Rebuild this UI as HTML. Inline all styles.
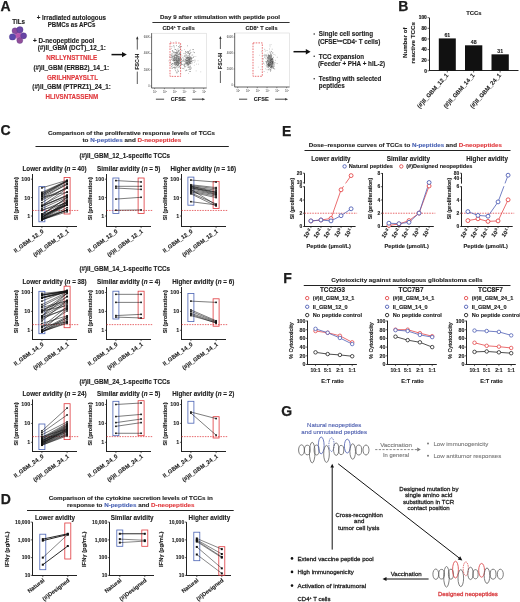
<!DOCTYPE html>
<html><head><meta charset="utf-8"><title>Figure</title>
<style>
html,body{margin:0;padding:0;background:#fff;}
body{width:520px;height:602px;overflow:hidden;}
svg{display:block;font-family:"Liberation Sans", Arial, sans-serif;font-weight:bold;}
</style></head><body>
<svg width="520" height="602" viewBox="0 0 520 602" fill="#1c1c1c">
<rect width="520" height="602" fill="#fff"/>
<text x="0.50" y="10.70" font-size="14" stroke="#1c1c1c" stroke-width="0.25" >A</text>
<text x="12.20" y="24.20" font-size="6.4" textLength="12.9" lengthAdjust="spacingAndGlyphs" stroke="#1c1c1c" stroke-width="0.12" >TILs</text>
<defs>
<filter id="bl" x="-10%" y="-10%" width="120%" height="120%"><feGaussianBlur stdDeviation="0.3"/></filter>
<filter id="bl2" x="-20%" y="-20%" width="140%" height="140%"><feGaussianBlur stdDeviation="0.45"/></filter>
<radialGradient id="cp" cx="50%" cy="45%" r="55%"><stop offset="0" stop-color="#9676cc"/><stop offset="0.6" stop-color="#7656b6"/><stop offset="1" stop-color="#573a96"/></radialGradient>
<radialGradient id="cm" cx="50%" cy="50%" r="55%"><stop offset="0" stop-color="#b0409a"/><stop offset="1" stop-color="#c070c8"/></radialGradient>
</defs>
<g filter="url(#bl2)">
<circle cx="18.4" cy="35.4" r="5.2" fill="#e0a8e0" opacity="0.6"/>
<circle cx="18.2" cy="35.4" r="3.3" fill="#b866b8"/>
<circle cx="15" cy="30.8" r="3.0" fill="#8a4c9e" stroke="#4a2e80" stroke-width="0.5" stroke-opacity="0.6"/>
<circle cx="19.9" cy="29.8" r="3.2" fill="#6a46a6" stroke="#4a2e80" stroke-width="0.5" stroke-opacity="0.6"/>
<circle cx="12.5" cy="36.9" r="3.2" fill="#5c48ae" stroke="#4a2e80" stroke-width="0.5" stroke-opacity="0.6"/>
<circle cx="23.6" cy="35.8" r="3.1" fill="#6844a4" stroke="#4a2e80" stroke-width="0.5" stroke-opacity="0.6"/>
<circle cx="19.8" cy="40.6" r="3.0" fill="#92509a" stroke="#4a2e80" stroke-width="0.5" stroke-opacity="0.6"/>
<circle cx="18.2" cy="35.4" r="2.0" fill="#b650a8" opacity="0.7"/>
</g>
<text x="36.70" y="19.60" font-size="6.3" textLength="69.3" lengthAdjust="spacingAndGlyphs" stroke="#1c1c1c" stroke-width="0.12" >+ Irradiated autologous</text>
<text x="47.70" y="27.00" font-size="6.3" textLength="47.7" lengthAdjust="spacingAndGlyphs" stroke="#1c1c1c" stroke-width="0.12" >PBMCs as APCs</text>
<text x="33.00" y="42.70" font-size="6.3" textLength="61.4" lengthAdjust="spacingAndGlyphs" stroke="#1c1c1c" stroke-width="0.12" >+ D-neopeptide pool</text>
<text x="37.70" y="50.40" font-size="6.3" textLength="68.3" lengthAdjust="spacingAndGlyphs" stroke="#1c1c1c" stroke-width="0.12" >(#)II_GBM (DCT)_12_1:</text>
<text x="46.30" y="59.60" font-size="6.3" fill="#e0383c" textLength="51" lengthAdjust="spacingAndGlyphs" stroke="#e0383c" stroke-width="0.12" >NRLLYNSTTNILE</text>
<text x="33.50" y="70.40" font-size="6.3" textLength="75.5" lengthAdjust="spacingAndGlyphs" stroke="#1c1c1c" stroke-width="0.12" >(#)II_GBM (ERBB2)_14_1:</text>
<text x="47.00" y="79.60" font-size="6.3" fill="#e0383c" textLength="51" lengthAdjust="spacingAndGlyphs" stroke="#e0383c" stroke-width="0.12" >GRILHNPAYSLTL</text>
<text x="32.30" y="89.20" font-size="6.3" textLength="78.5" lengthAdjust="spacingAndGlyphs" stroke="#1c1c1c" stroke-width="0.12" >(#)II_GBM (PTPRZ1)_24_1:</text>
<text x="45.40" y="98.80" font-size="6.3" fill="#e0383c" textLength="52.9" lengthAdjust="spacingAndGlyphs" stroke="#e0383c" stroke-width="0.12" >HLIVSNTASSENM</text>
<line x1="111.50" y1="54.60" x2="122.50" y2="54.60" stroke="#111" stroke-width="1.5" />
<path d="M126.80,54.60 L122.00,57.30 L122.00,51.90 Z" fill="#111"/>
<text x="160.00" y="19.10" font-size="6.25" textLength="120" lengthAdjust="spacingAndGlyphs" stroke="#1c1c1c" stroke-width="0.12" >Day 9 after stimulation with peptide pool</text>
<line x1="152.40" y1="22.50" x2="289.60" y2="22.50" stroke="#333" stroke-width="1.0" />
<text x="162.40" y="30.20" font-size="5.4" textLength="32.4" lengthAdjust="spacingAndGlyphs" stroke="#1c1c1c" stroke-width="0.12" >CD4<tspan font-size="3.4" dy="-1.8">+</tspan><tspan dy="1.8"> T cells</tspan></text>
<rect x="151.60" y="33.20" width="55.10" height="54.80" fill="none" stroke="#cfcfcf" stroke-width="0.5" />
<line x1="151.60" y1="33.20" x2="151.60" y2="88.00" stroke="#333" stroke-width="0.7" />
<line x1="151.60" y1="88.00" x2="206.70" y2="88.00" stroke="#333" stroke-width="0.7" />
<line x1="150.40" y1="86.00" x2="151.60" y2="86.00" stroke="#333" stroke-width="0.5" />
<text x="149.80" y="87.00" font-size="2.6" text-anchor="end" font-weight="normal" fill="#333" >0</text>
<line x1="150.40" y1="69.73" x2="151.60" y2="69.73" stroke="#333" stroke-width="0.5" />
<text x="149.80" y="70.73" font-size="2.6" text-anchor="end" font-weight="normal" fill="#333" >200K</text>
<line x1="150.40" y1="53.47" x2="151.60" y2="53.47" stroke="#333" stroke-width="0.5" />
<text x="149.80" y="54.47" font-size="2.6" text-anchor="end" font-weight="normal" fill="#333" >400K</text>
<line x1="150.40" y1="37.20" x2="151.60" y2="37.20" stroke="#333" stroke-width="0.5" />
<text x="149.80" y="38.20" font-size="2.6" text-anchor="end" font-weight="normal" fill="#333" >600K</text>
<line x1="154.60" y1="88.00" x2="154.60" y2="89.20" stroke="#333" stroke-width="0.5" />
<text x="153.10" y="92.60" font-size="2.6" font-weight="normal" fill="#333" >10<tspan font-size="1.8" dy="-1">1</tspan></text>
<line x1="164.42" y1="88.00" x2="164.42" y2="89.20" stroke="#333" stroke-width="0.5" />
<text x="162.92" y="92.60" font-size="2.6" font-weight="normal" fill="#333" >10<tspan font-size="1.8" dy="-1">2</tspan></text>
<line x1="174.24" y1="88.00" x2="174.24" y2="89.20" stroke="#333" stroke-width="0.5" />
<text x="172.74" y="92.60" font-size="2.6" font-weight="normal" fill="#333" >10<tspan font-size="1.8" dy="-1">3</tspan></text>
<line x1="184.06" y1="88.00" x2="184.06" y2="89.20" stroke="#333" stroke-width="0.5" />
<text x="182.56" y="92.60" font-size="2.6" font-weight="normal" fill="#333" >10<tspan font-size="1.8" dy="-1">4</tspan></text>
<line x1="193.88" y1="88.00" x2="193.88" y2="89.20" stroke="#333" stroke-width="0.5" />
<text x="192.38" y="92.60" font-size="2.6" font-weight="normal" fill="#333" >10<tspan font-size="1.8" dy="-1">5</tspan></text>
<line x1="203.70" y1="88.00" x2="203.70" y2="89.20" stroke="#333" stroke-width="0.5" />
<text x="202.20" y="92.60" font-size="2.6" font-weight="normal" fill="#333" >10<tspan font-size="1.8" dy="-1">6</tspan></text>
<text x="139.10" y="61.60" font-size="5.2" text-anchor="middle" transform="rotate(-90 139.10 61.60)" stroke="#1c1c1c" stroke-width="0.12" >FSC-H</text>
<line x1="137.30" y1="37.20" x2="137.30" y2="49.60" stroke="#333" stroke-width="0.8" />
<line x1="137.30" y1="71.60" x2="137.30" y2="84.00" stroke="#333" stroke-width="0.8" />
<path d="M136.10,39.20 L137.30,36.20 L138.50,39.20 Z" fill="#333"/>
<text x="178.20" y="101.00" font-size="5.4" text-anchor="middle" textLength="14.9" lengthAdjust="spacingAndGlyphs" stroke="#1c1c1c" stroke-width="0.12" >CFSE</text>
<line x1="155.90" y1="99.20" x2="164.10" y2="99.20" stroke="#333" stroke-width="0.9" />
<line x1="192.20" y1="99.20" x2="202.70" y2="99.20" stroke="#333" stroke-width="0.9" />
<path d="M202.20,97.90 L205.20,99.2 L202.20,100.50 Z" fill="#333"/>
<g filter="url(#bl)">
<rect x="175.83" y="61.56" width="0.7" height="0.7" fill="#666666"/>
<rect x="175.91" y="57.42" width="0.7" height="0.7" fill="#666666"/>
<rect x="174.08" y="57.93" width="0.7" height="0.7" fill="#666666"/>
<rect x="179.39" y="61.12" width="0.7" height="0.7" fill="#666666"/>
<rect x="179.20" y="60.24" width="0.7" height="0.7" fill="#666666"/>
<rect x="177.53" y="59.93" width="0.7" height="0.7" fill="#666666"/>
<rect x="172.17" y="63.28" width="0.7" height="0.7" fill="#666666"/>
<rect x="177.82" y="61.49" width="0.7" height="0.7" fill="#666666"/>
<rect x="172.10" y="50.28" width="0.7" height="0.7" fill="#666666"/>
<rect x="174.19" y="56.66" width="0.7" height="0.7" fill="#666666"/>
<rect x="177.29" y="58.77" width="0.7" height="0.7" fill="#666666"/>
<rect x="177.85" y="55.79" width="0.7" height="0.7" fill="#666666"/>
<rect x="177.30" y="60.97" width="0.7" height="0.7" fill="#666666"/>
<rect x="174.78" y="67.59" width="0.7" height="0.7" fill="#666666"/>
<rect x="177.95" y="64.99" width="0.7" height="0.7" fill="#666666"/>
<rect x="174.89" y="55.30" width="0.7" height="0.7" fill="#666666"/>
<rect x="175.61" y="58.47" width="0.7" height="0.7" fill="#666666"/>
<rect x="178.14" y="60.24" width="0.7" height="0.7" fill="#666666"/>
<rect x="175.34" y="54.22" width="0.7" height="0.7" fill="#666666"/>
<rect x="175.15" y="65.10" width="0.7" height="0.7" fill="#666666"/>
<rect x="174.40" y="60.22" width="0.7" height="0.7" fill="#666666"/>
<rect x="177.61" y="51.55" width="0.7" height="0.7" fill="#666666"/>
<rect x="176.63" y="65.53" width="0.7" height="0.7" fill="#666666"/>
<rect x="171.26" y="57.39" width="0.7" height="0.7" fill="#666666"/>
<rect x="176.22" y="54.91" width="0.7" height="0.7" fill="#666666"/>
<rect x="177.79" y="58.69" width="0.7" height="0.7" fill="#666666"/>
<rect x="172.69" y="63.14" width="0.7" height="0.7" fill="#666666"/>
<rect x="178.24" y="63.73" width="0.7" height="0.7" fill="#666666"/>
<rect x="180.25" y="60.81" width="0.7" height="0.7" fill="#666666"/>
<rect x="176.81" y="52.50" width="0.7" height="0.7" fill="#666666"/>
<rect x="178.10" y="55.94" width="0.7" height="0.7" fill="#666666"/>
<rect x="175.32" y="52.68" width="0.7" height="0.7" fill="#666666"/>
<rect x="173.98" y="56.34" width="0.7" height="0.7" fill="#666666"/>
<rect x="179.85" y="48.84" width="0.7" height="0.7" fill="#666666"/>
<rect x="172.71" y="60.20" width="0.7" height="0.7" fill="#666666"/>
<rect x="180.25" y="61.89" width="0.7" height="0.7" fill="#666666"/>
<rect x="171.56" y="46.41" width="0.7" height="0.7" fill="#666666"/>
<rect x="177.43" y="55.32" width="0.7" height="0.7" fill="#666666"/>
<rect x="173.59" y="63.89" width="0.7" height="0.7" fill="#666666"/>
<rect x="179.36" y="59.79" width="0.7" height="0.7" fill="#666666"/>
<rect x="177.14" y="61.17" width="0.7" height="0.7" fill="#666666"/>
<rect x="180.64" y="62.10" width="0.7" height="0.7" fill="#666666"/>
<rect x="177.85" y="61.74" width="0.7" height="0.7" fill="#666666"/>
<rect x="172.42" y="65.41" width="0.7" height="0.7" fill="#666666"/>
<rect x="178.98" y="61.65" width="0.7" height="0.7" fill="#666666"/>
<rect x="171.37" y="55.83" width="0.7" height="0.7" fill="#666666"/>
<rect x="178.69" y="49.94" width="0.7" height="0.7" fill="#666666"/>
<rect x="176.02" y="64.10" width="0.7" height="0.7" fill="#666666"/>
<rect x="173.09" y="67.05" width="0.7" height="0.7" fill="#666666"/>
<rect x="177.94" y="58.25" width="0.7" height="0.7" fill="#666666"/>
<rect x="177.34" y="62.25" width="0.7" height="0.7" fill="#666666"/>
<rect x="176.81" y="64.73" width="0.7" height="0.7" fill="#666666"/>
<rect x="174.78" y="56.93" width="0.7" height="0.7" fill="#666666"/>
<rect x="179.21" y="59.13" width="0.7" height="0.7" fill="#666666"/>
<rect x="174.21" y="63.73" width="0.7" height="0.7" fill="#666666"/>
<rect x="180.31" y="56.78" width="0.7" height="0.7" fill="#666666"/>
<rect x="172.91" y="58.33" width="0.7" height="0.7" fill="#666666"/>
<rect x="176.11" y="57.51" width="0.7" height="0.7" fill="#666666"/>
<rect x="180.15" y="53.87" width="0.7" height="0.7" fill="#666666"/>
<rect x="179.78" y="52.66" width="0.7" height="0.7" fill="#666666"/>
<rect x="174.45" y="62.16" width="0.7" height="0.7" fill="#666666"/>
<rect x="179.43" y="63.30" width="0.7" height="0.7" fill="#666666"/>
<rect x="177.40" y="59.71" width="0.7" height="0.7" fill="#666666"/>
<rect x="176.90" y="61.88" width="0.7" height="0.7" fill="#666666"/>
<rect x="176.04" y="60.39" width="0.7" height="0.7" fill="#666666"/>
<rect x="177.99" y="59.00" width="0.7" height="0.7" fill="#666666"/>
<rect x="178.49" y="61.83" width="0.7" height="0.7" fill="#666666"/>
<rect x="181.73" y="60.62" width="0.7" height="0.7" fill="#666666"/>
<rect x="175.39" y="57.14" width="0.7" height="0.7" fill="#666666"/>
<rect x="176.47" y="63.62" width="0.7" height="0.7" fill="#666666"/>
<rect x="175.62" y="60.93" width="0.7" height="0.7" fill="#666666"/>
<rect x="181.28" y="46.18" width="0.7" height="0.7" fill="#666666"/>
<rect x="173.58" y="60.22" width="0.7" height="0.7" fill="#666666"/>
<rect x="177.54" y="60.19" width="0.7" height="0.7" fill="#666666"/>
<rect x="175.38" y="62.28" width="0.7" height="0.7" fill="#666666"/>
<rect x="177.23" y="56.39" width="0.7" height="0.7" fill="#666666"/>
<rect x="182.82" y="60.78" width="0.7" height="0.7" fill="#666666"/>
<rect x="175.06" y="58.50" width="0.7" height="0.7" fill="#666666"/>
<rect x="175.91" y="58.69" width="0.7" height="0.7" fill="#666666"/>
<rect x="169.41" y="56.57" width="0.7" height="0.7" fill="#666666"/>
<rect x="179.12" y="53.16" width="0.7" height="0.7" fill="#666666"/>
<rect x="176.33" y="63.77" width="0.7" height="0.7" fill="#666666"/>
<rect x="178.73" y="66.46" width="0.7" height="0.7" fill="#666666"/>
<rect x="172.08" y="57.23" width="0.7" height="0.7" fill="#666666"/>
<rect x="175.61" y="62.12" width="0.7" height="0.7" fill="#666666"/>
<rect x="179.34" y="45.59" width="0.7" height="0.7" fill="#666666"/>
<rect x="179.33" y="51.76" width="0.7" height="0.7" fill="#666666"/>
<rect x="178.28" y="51.54" width="0.7" height="0.7" fill="#666666"/>
<rect x="176.96" y="64.97" width="0.7" height="0.7" fill="#666666"/>
<rect x="176.11" y="59.96" width="0.7" height="0.7" fill="#666666"/>
<rect x="178.57" y="59.71" width="0.7" height="0.7" fill="#666666"/>
<rect x="176.27" y="66.67" width="0.7" height="0.7" fill="#666666"/>
<rect x="179.23" y="57.53" width="0.7" height="0.7" fill="#666666"/>
<rect x="183.64" y="53.27" width="0.7" height="0.7" fill="#666666"/>
<rect x="178.88" y="57.67" width="0.7" height="0.7" fill="#666666"/>
<rect x="176.84" y="62.53" width="0.7" height="0.7" fill="#666666"/>
<rect x="177.08" y="62.19" width="0.7" height="0.7" fill="#666666"/>
<rect x="172.53" y="51.45" width="0.7" height="0.7" fill="#666666"/>
<rect x="178.10" y="54.18" width="0.7" height="0.7" fill="#666666"/>
<rect x="173.83" y="51.65" width="0.7" height="0.7" fill="#666666"/>
<rect x="179.79" y="62.73" width="0.7" height="0.7" fill="#666666"/>
<rect x="180.33" y="54.31" width="0.7" height="0.7" fill="#666666"/>
<rect x="176.50" y="53.30" width="0.7" height="0.7" fill="#666666"/>
<rect x="178.49" y="66.95" width="0.7" height="0.7" fill="#666666"/>
<rect x="174.19" y="66.80" width="0.7" height="0.7" fill="#666666"/>
<rect x="179.07" y="58.11" width="0.7" height="0.7" fill="#666666"/>
<rect x="171.37" y="66.03" width="0.7" height="0.7" fill="#666666"/>
<rect x="176.25" y="55.99" width="0.7" height="0.7" fill="#666666"/>
<rect x="177.54" y="61.05" width="0.7" height="0.7" fill="#666666"/>
<rect x="180.40" y="53.90" width="0.7" height="0.7" fill="#666666"/>
<rect x="179.45" y="66.44" width="0.7" height="0.7" fill="#666666"/>
<rect x="180.28" y="58.10" width="0.7" height="0.7" fill="#666666"/>
<rect x="174.57" y="64.09" width="0.7" height="0.7" fill="#666666"/>
<rect x="176.80" y="59.62" width="0.7" height="0.7" fill="#666666"/>
<rect x="180.20" y="57.68" width="0.7" height="0.7" fill="#666666"/>
<rect x="170.53" y="57.06" width="0.7" height="0.7" fill="#666666"/>
<rect x="171.68" y="63.09" width="0.7" height="0.7" fill="#666666"/>
<rect x="177.32" y="55.94" width="0.7" height="0.7" fill="#666666"/>
<rect x="176.48" y="63.16" width="0.7" height="0.7" fill="#666666"/>
<rect x="176.71" y="65.63" width="0.7" height="0.7" fill="#666666"/>
<rect x="176.34" y="64.20" width="0.7" height="0.7" fill="#666666"/>
<rect x="180.38" y="67.05" width="0.7" height="0.7" fill="#666666"/>
<rect x="174.75" y="63.40" width="0.7" height="0.7" fill="#666666"/>
<rect x="171.62" y="53.58" width="0.7" height="0.7" fill="#666666"/>
<rect x="171.40" y="64.34" width="0.7" height="0.7" fill="#666666"/>
<rect x="173.30" y="58.94" width="0.7" height="0.7" fill="#666666"/>
<rect x="176.00" y="58.86" width="0.7" height="0.7" fill="#666666"/>
<rect x="174.96" y="60.17" width="0.7" height="0.7" fill="#666666"/>
<rect x="181.16" y="59.22" width="0.7" height="0.7" fill="#666666"/>
<rect x="177.88" y="64.00" width="0.7" height="0.7" fill="#666666"/>
<rect x="175.99" y="52.70" width="0.7" height="0.7" fill="#666666"/>
<rect x="175.06" y="64.37" width="0.7" height="0.7" fill="#666666"/>
<rect x="172.22" y="56.01" width="0.7" height="0.7" fill="#666666"/>
<rect x="179.12" y="62.96" width="0.7" height="0.7" fill="#666666"/>
<rect x="176.52" y="63.03" width="0.7" height="0.7" fill="#666666"/>
<rect x="176.93" y="53.11" width="0.7" height="0.7" fill="#666666"/>
<rect x="172.43" y="55.81" width="0.7" height="0.7" fill="#666666"/>
<rect x="178.90" y="56.17" width="0.7" height="0.7" fill="#666666"/>
<rect x="174.15" y="55.15" width="0.7" height="0.7" fill="#666666"/>
<rect x="172.52" y="58.41" width="0.7" height="0.7" fill="#666666"/>
<rect x="173.43" y="60.82" width="0.7" height="0.7" fill="#666666"/>
<rect x="170.36" y="60.64" width="0.7" height="0.7" fill="#666666"/>
<rect x="174.83" y="49.29" width="0.7" height="0.7" fill="#666666"/>
<rect x="178.38" y="57.62" width="0.7" height="0.7" fill="#666666"/>
<rect x="170.70" y="54.62" width="0.7" height="0.7" fill="#666666"/>
<rect x="177.26" y="56.71" width="0.7" height="0.7" fill="#666666"/>
<rect x="178.53" y="62.74" width="0.7" height="0.7" fill="#666666"/>
<rect x="178.23" y="60.63" width="0.7" height="0.7" fill="#666666"/>
<rect x="179.97" y="62.30" width="0.7" height="0.7" fill="#666666"/>
<rect x="177.67" y="48.58" width="0.7" height="0.7" fill="#666666"/>
<rect x="178.83" y="65.55" width="0.7" height="0.7" fill="#666666"/>
<rect x="175.73" y="56.65" width="0.7" height="0.7" fill="#666666"/>
<rect x="181.54" y="50.21" width="0.7" height="0.7" fill="#666666"/>
<rect x="177.72" y="71.12" width="0.7" height="0.7" fill="#666666"/>
<rect x="174.09" y="62.45" width="0.7" height="0.7" fill="#666666"/>
<rect x="181.40" y="58.40" width="0.7" height="0.7" fill="#666666"/>
<rect x="177.96" y="63.51" width="0.7" height="0.7" fill="#666666"/>
<rect x="174.15" y="58.55" width="0.7" height="0.7" fill="#666666"/>
<rect x="177.26" y="63.13" width="0.7" height="0.7" fill="#666666"/>
<rect x="176.41" y="58.02" width="0.7" height="0.7" fill="#666666"/>
<rect x="173.86" y="57.21" width="0.7" height="0.7" fill="#666666"/>
<rect x="178.82" y="59.51" width="0.7" height="0.7" fill="#666666"/>
<rect x="174.28" y="54.79" width="0.7" height="0.7" fill="#666666"/>
<rect x="183.43" y="64.70" width="0.7" height="0.7" fill="#666666"/>
<rect x="178.16" y="46.04" width="0.7" height="0.7" fill="#666666"/>
<rect x="178.12" y="61.40" width="0.7" height="0.7" fill="#666666"/>
<rect x="180.88" y="61.14" width="0.7" height="0.7" fill="#666666"/>
<rect x="176.32" y="61.61" width="0.7" height="0.7" fill="#666666"/>
<rect x="171.45" y="64.17" width="0.7" height="0.7" fill="#666666"/>
<rect x="177.34" y="55.49" width="0.7" height="0.7" fill="#666666"/>
<rect x="179.95" y="68.05" width="0.7" height="0.7" fill="#666666"/>
<rect x="172.85" y="55.67" width="0.7" height="0.7" fill="#666666"/>
<rect x="177.26" y="59.92" width="0.7" height="0.7" fill="#666666"/>
<rect x="175.46" y="54.13" width="0.7" height="0.7" fill="#666666"/>
<rect x="182.01" y="64.19" width="0.7" height="0.7" fill="#666666"/>
<rect x="173.40" y="52.27" width="0.7" height="0.7" fill="#666666"/>
<rect x="180.93" y="63.95" width="0.7" height="0.7" fill="#666666"/>
<rect x="181.23" y="63.05" width="0.7" height="0.7" fill="#666666"/>
<rect x="174.23" y="60.30" width="0.7" height="0.7" fill="#666666"/>
<rect x="170.88" y="55.26" width="0.7" height="0.7" fill="#666666"/>
<rect x="176.35" y="61.61" width="0.7" height="0.7" fill="#666666"/>
<rect x="174.61" y="58.38" width="0.7" height="0.7" fill="#666666"/>
<rect x="177.69" y="60.88" width="0.7" height="0.7" fill="#666666"/>
<rect x="178.16" y="60.04" width="0.7" height="0.7" fill="#666666"/>
<rect x="175.66" y="62.95" width="0.7" height="0.7" fill="#666666"/>
<rect x="176.63" y="54.87" width="0.7" height="0.7" fill="#666666"/>
<rect x="174.87" y="59.00" width="0.7" height="0.7" fill="#666666"/>
<rect x="176.22" y="59.78" width="0.7" height="0.7" fill="#666666"/>
<rect x="176.50" y="59.88" width="0.7" height="0.7" fill="#666666"/>
<rect x="176.15" y="52.71" width="0.7" height="0.7" fill="#666666"/>
<rect x="177.60" y="64.27" width="0.7" height="0.7" fill="#666666"/>
<rect x="177.63" y="58.05" width="0.7" height="0.7" fill="#666666"/>
<rect x="177.66" y="54.17" width="0.7" height="0.7" fill="#666666"/>
<rect x="171.57" y="59.30" width="0.7" height="0.7" fill="#666666"/>
<rect x="174.08" y="62.70" width="0.7" height="0.7" fill="#666666"/>
<rect x="173.68" y="45.86" width="0.7" height="0.7" fill="#666666"/>
<rect x="173.80" y="66.89" width="0.7" height="0.7" fill="#666666"/>
<rect x="175.51" y="52.15" width="0.7" height="0.7" fill="#666666"/>
<rect x="174.52" y="61.60" width="0.7" height="0.7" fill="#666666"/>
<rect x="177.79" y="59.88" width="0.7" height="0.7" fill="#666666"/>
<rect x="180.36" y="62.53" width="0.7" height="0.7" fill="#666666"/>
<rect x="176.45" y="61.98" width="0.7" height="0.7" fill="#666666"/>
<rect x="180.80" y="63.86" width="0.7" height="0.7" fill="#666666"/>
<rect x="179.16" y="53.59" width="0.7" height="0.7" fill="#666666"/>
<rect x="176.11" y="62.65" width="0.7" height="0.7" fill="#666666"/>
<rect x="175.73" y="64.34" width="0.7" height="0.7" fill="#666666"/>
<rect x="178.05" y="63.54" width="0.7" height="0.7" fill="#666666"/>
<rect x="175.95" y="71.73" width="0.7" height="0.7" fill="#666666"/>
<rect x="179.72" y="57.92" width="0.7" height="0.7" fill="#666666"/>
<rect x="176.74" y="71.98" width="0.7" height="0.7" fill="#666666"/>
<rect x="175.61" y="63.37" width="0.7" height="0.7" fill="#666666"/>
<rect x="179.05" y="59.03" width="0.7" height="0.7" fill="#666666"/>
<rect x="173.47" y="59.94" width="0.7" height="0.7" fill="#666666"/>
<rect x="177.43" y="64.65" width="0.7" height="0.7" fill="#666666"/>
<rect x="178.54" y="59.12" width="0.7" height="0.7" fill="#666666"/>
<rect x="178.72" y="61.70" width="0.7" height="0.7" fill="#666666"/>
<rect x="177.04" y="59.28" width="0.7" height="0.7" fill="#666666"/>
<rect x="175.87" y="62.43" width="0.7" height="0.7" fill="#666666"/>
<rect x="173.76" y="55.86" width="0.7" height="0.7" fill="#666666"/>
<rect x="176.51" y="51.68" width="0.7" height="0.7" fill="#666666"/>
<rect x="175.37" y="48.96" width="0.7" height="0.7" fill="#666666"/>
<rect x="174.72" y="61.84" width="0.7" height="0.7" fill="#666666"/>
<rect x="177.97" y="58.73" width="0.7" height="0.7" fill="#666666"/>
<rect x="175.90" y="51.92" width="0.7" height="0.7" fill="#666666"/>
<rect x="181.25" y="61.58" width="0.7" height="0.7" fill="#666666"/>
<rect x="179.34" y="54.59" width="0.7" height="0.7" fill="#666666"/>
<rect x="176.02" y="49.90" width="0.7" height="0.7" fill="#666666"/>
<rect x="178.53" y="63.68" width="0.7" height="0.7" fill="#666666"/>
<rect x="171.57" y="58.74" width="0.7" height="0.7" fill="#666666"/>
<rect x="178.14" y="50.19" width="0.7" height="0.7" fill="#666666"/>
<rect x="171.75" y="53.67" width="0.7" height="0.7" fill="#666666"/>
<rect x="174.86" y="51.99" width="0.7" height="0.7" fill="#666666"/>
<rect x="176.58" y="60.25" width="0.7" height="0.7" fill="#666666"/>
<rect x="178.15" y="62.51" width="0.7" height="0.7" fill="#666666"/>
<rect x="180.41" y="64.82" width="0.7" height="0.7" fill="#666666"/>
<rect x="173.09" y="56.47" width="0.7" height="0.7" fill="#666666"/>
<rect x="173.74" y="53.62" width="0.7" height="0.7" fill="#666666"/>
<rect x="176.29" y="59.03" width="0.7" height="0.7" fill="#666666"/>
<rect x="177.77" y="51.07" width="0.7" height="0.7" fill="#666666"/>
<rect x="173.28" y="58.88" width="0.7" height="0.7" fill="#666666"/>
<rect x="175.98" y="57.44" width="0.7" height="0.7" fill="#666666"/>
<rect x="176.34" y="55.20" width="0.7" height="0.7" fill="#666666"/>
<rect x="178.32" y="60.77" width="0.7" height="0.7" fill="#666666"/>
<rect x="176.27" y="55.64" width="0.7" height="0.7" fill="#666666"/>
<rect x="176.05" y="45.39" width="0.7" height="0.7" fill="#666666"/>
<rect x="173.95" y="59.19" width="0.7" height="0.7" fill="#666666"/>
<rect x="172.59" y="60.00" width="0.7" height="0.7" fill="#666666"/>
<rect x="176.88" y="52.11" width="0.7" height="0.7" fill="#666666"/>
<rect x="175.85" y="57.43" width="0.7" height="0.7" fill="#666666"/>
<rect x="177.70" y="62.06" width="0.7" height="0.7" fill="#666666"/>
<rect x="176.41" y="54.74" width="0.7" height="0.7" fill="#666666"/>
<rect x="176.12" y="58.67" width="0.7" height="0.7" fill="#666666"/>
<rect x="178.41" y="60.47" width="0.7" height="0.7" fill="#666666"/>
<rect x="174.62" y="52.23" width="0.7" height="0.7" fill="#666666"/>
<rect x="175.53" y="55.30" width="0.7" height="0.7" fill="#666666"/>
<rect x="173.61" y="58.42" width="0.7" height="0.7" fill="#666666"/>
<rect x="175.22" y="59.53" width="0.7" height="0.7" fill="#666666"/>
<rect x="177.86" y="56.93" width="0.7" height="0.7" fill="#666666"/>
<rect x="182.54" y="57.39" width="0.7" height="0.7" fill="#666666"/>
<rect x="179.36" y="59.61" width="0.7" height="0.7" fill="#666666"/>
<rect x="179.40" y="47.12" width="0.7" height="0.7" fill="#666666"/>
<rect x="174.55" y="60.24" width="0.7" height="0.7" fill="#666666"/>
<rect x="178.07" y="70.68" width="0.7" height="0.7" fill="#666666"/>
<rect x="177.34" y="65.40" width="0.7" height="0.7" fill="#666666"/>
<rect x="178.49" y="63.74" width="0.7" height="0.7" fill="#666666"/>
<rect x="177.83" y="58.22" width="0.7" height="0.7" fill="#666666"/>
<rect x="177.82" y="53.61" width="0.7" height="0.7" fill="#666666"/>
<rect x="179.57" y="53.91" width="0.7" height="0.7" fill="#666666"/>
<rect x="177.15" y="69.60" width="0.7" height="0.7" fill="#666666"/>
<rect x="175.92" y="59.10" width="0.7" height="0.7" fill="#666666"/>
<rect x="179.52" y="59.13" width="0.7" height="0.7" fill="#666666"/>
<rect x="174.40" y="60.29" width="0.7" height="0.7" fill="#666666"/>
<rect x="178.01" y="62.55" width="0.7" height="0.7" fill="#666666"/>
<rect x="174.49" y="67.76" width="0.7" height="0.7" fill="#666666"/>
<rect x="180.83" y="59.09" width="0.7" height="0.7" fill="#666666"/>
<rect x="177.20" y="56.86" width="0.7" height="0.7" fill="#666666"/>
<rect x="180.18" y="55.48" width="0.7" height="0.7" fill="#666666"/>
<rect x="178.25" y="56.60" width="0.7" height="0.7" fill="#666666"/>
<rect x="174.70" y="62.59" width="0.7" height="0.7" fill="#666666"/>
<rect x="179.97" y="58.95" width="0.7" height="0.7" fill="#666666"/>
<rect x="174.74" y="63.06" width="0.7" height="0.7" fill="#666666"/>
<rect x="176.37" y="60.55" width="0.7" height="0.7" fill="#666666"/>
<rect x="180.46" y="64.66" width="0.7" height="0.7" fill="#666666"/>
<rect x="175.15" y="70.42" width="0.7" height="0.7" fill="#666666"/>
<rect x="176.51" y="62.93" width="0.7" height="0.7" fill="#666666"/>
<rect x="174.82" y="58.78" width="0.7" height="0.7" fill="#666666"/>
<rect x="171.95" y="67.93" width="0.7" height="0.7" fill="#666666"/>
<rect x="180.05" y="52.92" width="0.7" height="0.7" fill="#666666"/>
<rect x="172.59" y="50.89" width="0.7" height="0.7" fill="#666666"/>
<rect x="179.56" y="56.70" width="0.7" height="0.7" fill="#666666"/>
<rect x="176.34" y="57.44" width="0.7" height="0.7" fill="#666666"/>
<rect x="176.18" y="53.56" width="0.7" height="0.7" fill="#666666"/>
<rect x="176.56" y="51.81" width="0.7" height="0.7" fill="#666666"/>
<rect x="176.31" y="60.54" width="0.7" height="0.7" fill="#666666"/>
<rect x="177.72" y="57.84" width="0.7" height="0.7" fill="#666666"/>
<rect x="174.15" y="59.80" width="0.7" height="0.7" fill="#666666"/>
<rect x="175.24" y="66.83" width="0.7" height="0.7" fill="#666666"/>
<rect x="178.50" y="58.42" width="0.7" height="0.7" fill="#666666"/>
<rect x="175.28" y="55.49" width="0.7" height="0.7" fill="#666666"/>
<rect x="174.06" y="57.24" width="0.7" height="0.7" fill="#666666"/>
<rect x="188.65" y="62.17" width="0.7" height="0.7" fill="#6a6a6a"/>
<rect x="189.25" y="68.81" width="0.7" height="0.7" fill="#6a6a6a"/>
<rect x="186.45" y="60.05" width="0.7" height="0.7" fill="#6a6a6a"/>
<rect x="194.15" y="52.16" width="0.7" height="0.7" fill="#6a6a6a"/>
<rect x="186.85" y="60.71" width="0.7" height="0.7" fill="#6a6a6a"/>
<rect x="188.34" y="61.71" width="0.7" height="0.7" fill="#6a6a6a"/>
<rect x="187.47" y="61.54" width="0.7" height="0.7" fill="#6a6a6a"/>
<rect x="188.12" y="63.24" width="0.7" height="0.7" fill="#6a6a6a"/>
<rect x="183.84" y="56.28" width="0.7" height="0.7" fill="#6a6a6a"/>
<rect x="188.00" y="55.67" width="0.7" height="0.7" fill="#6a6a6a"/>
<rect x="185.70" y="62.64" width="0.7" height="0.7" fill="#6a6a6a"/>
<rect x="186.57" y="62.67" width="0.7" height="0.7" fill="#6a6a6a"/>
<rect x="189.64" y="61.29" width="0.7" height="0.7" fill="#6a6a6a"/>
<rect x="189.12" y="59.56" width="0.7" height="0.7" fill="#6a6a6a"/>
<rect x="184.90" y="59.87" width="0.7" height="0.7" fill="#6a6a6a"/>
<rect x="189.00" y="57.78" width="0.7" height="0.7" fill="#6a6a6a"/>
<rect x="187.78" y="63.15" width="0.7" height="0.7" fill="#6a6a6a"/>
<rect x="186.07" y="62.69" width="0.7" height="0.7" fill="#6a6a6a"/>
<rect x="192.10" y="57.67" width="0.7" height="0.7" fill="#6a6a6a"/>
<rect x="188.32" y="59.37" width="0.7" height="0.7" fill="#6a6a6a"/>
<rect x="191.39" y="61.33" width="0.7" height="0.7" fill="#6a6a6a"/>
<rect x="189.98" y="57.10" width="0.7" height="0.7" fill="#6a6a6a"/>
<rect x="187.96" y="59.96" width="0.7" height="0.7" fill="#6a6a6a"/>
<rect x="184.09" y="66.05" width="0.7" height="0.7" fill="#6a6a6a"/>
<rect x="189.98" y="52.65" width="0.7" height="0.7" fill="#6a6a6a"/>
<rect x="189.64" y="59.45" width="0.7" height="0.7" fill="#6a6a6a"/>
<rect x="188.99" y="61.54" width="0.7" height="0.7" fill="#6a6a6a"/>
<rect x="184.70" y="59.11" width="0.7" height="0.7" fill="#6a6a6a"/>
<rect x="191.28" y="57.59" width="0.7" height="0.7" fill="#6a6a6a"/>
<rect x="185.75" y="54.29" width="0.7" height="0.7" fill="#6a6a6a"/>
<rect x="185.31" y="61.41" width="0.7" height="0.7" fill="#6a6a6a"/>
<rect x="191.72" y="61.80" width="0.7" height="0.7" fill="#6a6a6a"/>
<rect x="188.54" y="69.38" width="0.7" height="0.7" fill="#6a6a6a"/>
<rect x="186.86" y="57.17" width="0.7" height="0.7" fill="#6a6a6a"/>
<rect x="189.16" y="62.30" width="0.7" height="0.7" fill="#6a6a6a"/>
<rect x="185.77" y="55.09" width="0.7" height="0.7" fill="#6a6a6a"/>
<rect x="188.64" y="61.04" width="0.7" height="0.7" fill="#6a6a6a"/>
<rect x="185.12" y="59.15" width="0.7" height="0.7" fill="#6a6a6a"/>
<rect x="186.81" y="61.93" width="0.7" height="0.7" fill="#6a6a6a"/>
<rect x="187.74" y="59.64" width="0.7" height="0.7" fill="#6a6a6a"/>
<rect x="187.22" y="64.42" width="0.7" height="0.7" fill="#6a6a6a"/>
<rect x="191.06" y="58.46" width="0.7" height="0.7" fill="#6a6a6a"/>
<rect x="189.86" y="56.82" width="0.7" height="0.7" fill="#6a6a6a"/>
<rect x="188.16" y="63.15" width="0.7" height="0.7" fill="#6a6a6a"/>
<rect x="191.33" y="58.39" width="0.7" height="0.7" fill="#6a6a6a"/>
<rect x="187.84" y="60.82" width="0.7" height="0.7" fill="#6a6a6a"/>
<rect x="184.70" y="60.07" width="0.7" height="0.7" fill="#6a6a6a"/>
<rect x="186.51" y="61.56" width="0.7" height="0.7" fill="#6a6a6a"/>
<rect x="185.51" y="51.70" width="0.7" height="0.7" fill="#6a6a6a"/>
<rect x="188.08" y="61.09" width="0.7" height="0.7" fill="#6a6a6a"/>
<rect x="186.79" y="63.73" width="0.7" height="0.7" fill="#6a6a6a"/>
<rect x="187.40" y="57.46" width="0.7" height="0.7" fill="#6a6a6a"/>
<rect x="189.05" y="53.41" width="0.7" height="0.7" fill="#6a6a6a"/>
<rect x="186.51" y="59.91" width="0.7" height="0.7" fill="#6a6a6a"/>
<rect x="189.87" y="59.32" width="0.7" height="0.7" fill="#6a6a6a"/>
<rect x="188.68" y="57.25" width="0.7" height="0.7" fill="#6a6a6a"/>
<rect x="188.66" y="66.99" width="0.7" height="0.7" fill="#6a6a6a"/>
<rect x="186.49" y="69.94" width="0.7" height="0.7" fill="#6a6a6a"/>
<rect x="186.58" y="60.07" width="0.7" height="0.7" fill="#6a6a6a"/>
<rect x="188.38" y="64.30" width="0.7" height="0.7" fill="#6a6a6a"/>
<rect x="185.28" y="51.18" width="0.7" height="0.7" fill="#6a6a6a"/>
<rect x="189.33" y="63.34" width="0.7" height="0.7" fill="#6a6a6a"/>
<rect x="189.37" y="71.05" width="0.7" height="0.7" fill="#6a6a6a"/>
<rect x="188.45" y="61.07" width="0.7" height="0.7" fill="#6a6a6a"/>
<rect x="190.04" y="61.55" width="0.7" height="0.7" fill="#6a6a6a"/>
<rect x="191.66" y="54.80" width="0.7" height="0.7" fill="#6a6a6a"/>
<rect x="187.17" y="45.53" width="0.7" height="0.7" fill="#6a6a6a"/>
<rect x="189.79" y="58.44" width="0.7" height="0.7" fill="#6a6a6a"/>
<rect x="190.03" y="69.05" width="0.7" height="0.7" fill="#6a6a6a"/>
<rect x="187.99" y="58.93" width="0.7" height="0.7" fill="#6a6a6a"/>
<rect x="186.90" y="56.48" width="0.7" height="0.7" fill="#6a6a6a"/>
<rect x="186.61" y="62.68" width="0.7" height="0.7" fill="#6a6a6a"/>
<rect x="188.08" y="60.28" width="0.7" height="0.7" fill="#6a6a6a"/>
<rect x="187.62" y="63.84" width="0.7" height="0.7" fill="#6a6a6a"/>
<rect x="189.09" y="59.40" width="0.7" height="0.7" fill="#6a6a6a"/>
<rect x="189.46" y="59.36" width="0.7" height="0.7" fill="#6a6a6a"/>
<rect x="185.46" y="66.11" width="0.7" height="0.7" fill="#6a6a6a"/>
<rect x="189.02" y="55.98" width="0.7" height="0.7" fill="#6a6a6a"/>
<rect x="190.37" y="61.45" width="0.7" height="0.7" fill="#6a6a6a"/>
<rect x="184.56" y="66.76" width="0.7" height="0.7" fill="#6a6a6a"/>
<rect x="188.73" y="63.74" width="0.7" height="0.7" fill="#6a6a6a"/>
<rect x="188.44" y="59.37" width="0.7" height="0.7" fill="#6a6a6a"/>
<rect x="184.59" y="64.08" width="0.7" height="0.7" fill="#6a6a6a"/>
<rect x="188.07" y="58.80" width="0.7" height="0.7" fill="#6a6a6a"/>
<rect x="188.77" y="60.33" width="0.7" height="0.7" fill="#6a6a6a"/>
<rect x="189.49" y="58.44" width="0.7" height="0.7" fill="#6a6a6a"/>
<rect x="187.92" y="51.02" width="0.7" height="0.7" fill="#6a6a6a"/>
<rect x="187.07" y="62.84" width="0.7" height="0.7" fill="#6a6a6a"/>
<rect x="190.94" y="58.47" width="0.7" height="0.7" fill="#6a6a6a"/>
<rect x="187.73" y="66.65" width="0.7" height="0.7" fill="#6a6a6a"/>
<rect x="187.28" y="63.08" width="0.7" height="0.7" fill="#6a6a6a"/>
<rect x="191.69" y="60.17" width="0.7" height="0.7" fill="#6a6a6a"/>
<rect x="190.70" y="57.02" width="0.7" height="0.7" fill="#6a6a6a"/>
<rect x="188.46" y="59.68" width="0.7" height="0.7" fill="#6a6a6a"/>
<rect x="188.25" y="64.74" width="0.7" height="0.7" fill="#6a6a6a"/>
<rect x="193.26" y="57.21" width="0.7" height="0.7" fill="#6a6a6a"/>
<rect x="186.73" y="62.09" width="0.7" height="0.7" fill="#6a6a6a"/>
<rect x="185.68" y="62.09" width="0.7" height="0.7" fill="#6a6a6a"/>
<rect x="189.26" y="58.83" width="0.7" height="0.7" fill="#6a6a6a"/>
<rect x="189.17" y="53.49" width="0.7" height="0.7" fill="#6a6a6a"/>
<rect x="189.67" y="53.51" width="0.7" height="0.7" fill="#6a6a6a"/>
<rect x="186.47" y="57.66" width="0.7" height="0.7" fill="#6a6a6a"/>
<rect x="187.12" y="63.61" width="0.7" height="0.7" fill="#6a6a6a"/>
<rect x="188.18" y="58.33" width="0.7" height="0.7" fill="#6a6a6a"/>
<rect x="189.20" y="66.64" width="0.7" height="0.7" fill="#6a6a6a"/>
<rect x="188.01" y="61.54" width="0.7" height="0.7" fill="#6a6a6a"/>
<rect x="190.73" y="61.12" width="0.7" height="0.7" fill="#6a6a6a"/>
<rect x="185.18" y="70.46" width="0.7" height="0.7" fill="#6a6a6a"/>
<rect x="192.86" y="51.66" width="0.7" height="0.7" fill="#6a6a6a"/>
<rect x="187.91" y="61.75" width="0.7" height="0.7" fill="#6a6a6a"/>
<rect x="190.12" y="62.81" width="0.7" height="0.7" fill="#6a6a6a"/>
<rect x="187.40" y="55.57" width="0.7" height="0.7" fill="#6a6a6a"/>
<rect x="188.23" y="64.34" width="0.7" height="0.7" fill="#6a6a6a"/>
<rect x="185.60" y="55.69" width="0.7" height="0.7" fill="#6a6a6a"/>
<rect x="187.95" y="51.86" width="0.7" height="0.7" fill="#6a6a6a"/>
<rect x="187.43" y="58.17" width="0.7" height="0.7" fill="#6a6a6a"/>
<rect x="188.99" y="57.05" width="0.7" height="0.7" fill="#6a6a6a"/>
<rect x="186.06" y="58.34" width="0.7" height="0.7" fill="#6a6a6a"/>
<rect x="187.89" y="57.21" width="0.7" height="0.7" fill="#6a6a6a"/>
<rect x="188.03" y="63.15" width="0.7" height="0.7" fill="#6a6a6a"/>
<rect x="190.61" y="67.16" width="0.7" height="0.7" fill="#6a6a6a"/>
<rect x="186.28" y="58.24" width="0.7" height="0.7" fill="#6a6a6a"/>
<rect x="182.54" y="67.98" width="0.7" height="0.7" fill="#6a6a6a"/>
<rect x="186.41" y="59.86" width="0.7" height="0.7" fill="#6a6a6a"/>
<rect x="189.15" y="54.29" width="0.7" height="0.7" fill="#6a6a6a"/>
<rect x="189.02" y="59.89" width="0.7" height="0.7" fill="#6a6a6a"/>
<rect x="183.98" y="61.23" width="0.7" height="0.7" fill="#6a6a6a"/>
<rect x="190.63" y="52.16" width="0.7" height="0.7" fill="#6a6a6a"/>
<rect x="189.78" y="60.88" width="0.7" height="0.7" fill="#6a6a6a"/>
<rect x="189.04" y="61.85" width="0.7" height="0.7" fill="#6a6a6a"/>
<rect x="190.87" y="59.06" width="0.7" height="0.7" fill="#6a6a6a"/>
<rect x="189.92" y="58.28" width="0.7" height="0.7" fill="#6a6a6a"/>
<rect x="189.60" y="56.58" width="0.7" height="0.7" fill="#6a6a6a"/>
<rect x="187.76" y="67.27" width="0.7" height="0.7" fill="#6a6a6a"/>
<rect x="188.98" y="59.34" width="0.7" height="0.7" fill="#6a6a6a"/>
<rect x="185.48" y="56.68" width="0.7" height="0.7" fill="#6a6a6a"/>
<rect x="188.43" y="63.95" width="0.7" height="0.7" fill="#6a6a6a"/>
<rect x="188.94" y="62.20" width="0.7" height="0.7" fill="#6a6a6a"/>
<rect x="187.91" y="65.68" width="0.7" height="0.7" fill="#6a6a6a"/>
<rect x="187.14" y="57.69" width="0.7" height="0.7" fill="#6a6a6a"/>
<rect x="189.95" y="60.27" width="0.7" height="0.7" fill="#6a6a6a"/>
<rect x="187.39" y="57.58" width="0.7" height="0.7" fill="#6a6a6a"/>
<rect x="187.43" y="62.62" width="0.7" height="0.7" fill="#6a6a6a"/>
<rect x="188.78" y="54.92" width="0.7" height="0.7" fill="#6a6a6a"/>
<rect x="188.94" y="60.75" width="0.7" height="0.7" fill="#6a6a6a"/>
<rect x="185.80" y="63.25" width="0.7" height="0.7" fill="#6a6a6a"/>
<rect x="187.38" y="58.59" width="0.7" height="0.7" fill="#6a6a6a"/>
<rect x="189.75" y="65.55" width="0.7" height="0.7" fill="#6a6a6a"/>
<rect x="186.49" y="61.84" width="0.7" height="0.7" fill="#6a6a6a"/>
<rect x="186.07" y="69.72" width="0.7" height="0.7" fill="#6a6a6a"/>
<rect x="186.91" y="65.02" width="0.7" height="0.7" fill="#6a6a6a"/>
<rect x="186.58" y="63.41" width="0.7" height="0.7" fill="#6a6a6a"/>
<rect x="192.88" y="49.33" width="0.7" height="0.7" fill="#6a6a6a"/>
<rect x="187.04" y="62.10" width="0.7" height="0.7" fill="#6a6a6a"/>
<rect x="187.80" y="57.19" width="0.7" height="0.7" fill="#6a6a6a"/>
<rect x="192.73" y="60.33" width="0.7" height="0.7" fill="#6a6a6a"/>
<rect x="184.38" y="63.59" width="0.7" height="0.7" fill="#6a6a6a"/>
<rect x="184.21" y="64.83" width="0.7" height="0.7" fill="#6a6a6a"/>
<rect x="186.73" y="60.61" width="0.7" height="0.7" fill="#6a6a6a"/>
<rect x="190.77" y="60.50" width="0.7" height="0.7" fill="#6a6a6a"/>
<rect x="184.94" y="52.88" width="0.7" height="0.7" fill="#6a6a6a"/>
<rect x="190.60" y="63.11" width="0.7" height="0.7" fill="#6a6a6a"/>
<rect x="186.21" y="63.61" width="0.7" height="0.7" fill="#6a6a6a"/>
<rect x="189.09" y="62.72" width="0.7" height="0.7" fill="#6a6a6a"/>
<rect x="183.03" y="58.73" width="0.7" height="0.7" fill="#6a6a6a"/>
<rect x="189.98" y="63.08" width="0.7" height="0.7" fill="#6a6a6a"/>
<rect x="189.94" y="49.68" width="0.7" height="0.7" fill="#6a6a6a"/>
<rect x="188.37" y="62.07" width="0.7" height="0.7" fill="#6a6a6a"/>
<rect x="193.61" y="55.99" width="0.7" height="0.7" fill="#6a6a6a"/>
<rect x="187.28" y="60.15" width="0.7" height="0.7" fill="#6a6a6a"/>
<rect x="189.95" y="58.14" width="0.7" height="0.7" fill="#6a6a6a"/>
<rect x="190.52" y="56.69" width="0.7" height="0.7" fill="#6a6a6a"/>
<rect x="188.59" y="57.78" width="0.7" height="0.7" fill="#6a6a6a"/>
<rect x="188.35" y="57.10" width="0.7" height="0.7" fill="#6a6a6a"/>
<rect x="184.49" y="64.59" width="0.7" height="0.7" fill="#6a6a6a"/>
<rect x="188.67" y="57.65" width="0.7" height="0.7" fill="#6a6a6a"/>
<rect x="188.44" y="64.16" width="0.7" height="0.7" fill="#6a6a6a"/>
<rect x="185.85" y="59.54" width="0.7" height="0.7" fill="#6a6a6a"/>
<rect x="189.19" y="62.21" width="0.7" height="0.7" fill="#6a6a6a"/>
<rect x="187.26" y="51.15" width="0.7" height="0.7" fill="#6a6a6a"/>
<rect x="190.73" y="61.38" width="0.7" height="0.7" fill="#6a6a6a"/>
<rect x="188.03" y="58.83" width="0.7" height="0.7" fill="#6a6a6a"/>
<rect x="188.58" y="58.21" width="0.7" height="0.7" fill="#6a6a6a"/>
<rect x="185.75" y="56.89" width="0.7" height="0.7" fill="#6a6a6a"/>
<rect x="186.69" y="57.43" width="0.7" height="0.7" fill="#6a6a6a"/>
<rect x="185.45" y="62.67" width="0.7" height="0.7" fill="#6a6a6a"/>
<rect x="185.12" y="62.77" width="0.7" height="0.7" fill="#6a6a6a"/>
<rect x="185.77" y="61.48" width="0.7" height="0.7" fill="#6a6a6a"/>
<rect x="191.02" y="60.85" width="0.7" height="0.7" fill="#6a6a6a"/>
<rect x="186.39" y="60.20" width="0.7" height="0.7" fill="#6a6a6a"/>
<rect x="188.33" y="52.72" width="0.7" height="0.7" fill="#6a6a6a"/>
<rect x="186.66" y="60.68" width="0.7" height="0.7" fill="#6a6a6a"/>
<rect x="186.97" y="60.33" width="0.7" height="0.7" fill="#6a6a6a"/>
<rect x="189.61" y="63.22" width="0.7" height="0.7" fill="#6a6a6a"/>
<rect x="189.99" y="62.47" width="0.7" height="0.7" fill="#6a6a6a"/>
<rect x="187.37" y="59.92" width="0.7" height="0.7" fill="#6a6a6a"/>
<rect x="187.40" y="58.68" width="0.7" height="0.7" fill="#6a6a6a"/>
<rect x="187.60" y="52.76" width="0.7" height="0.7" fill="#6a6a6a"/>
<rect x="187.27" y="59.90" width="0.7" height="0.7" fill="#6a6a6a"/>
<rect x="185.86" y="59.90" width="0.7" height="0.7" fill="#6a6a6a"/>
<rect x="189.13" y="59.31" width="0.7" height="0.7" fill="#6a6a6a"/>
<rect x="192.57" y="49.05" width="0.7" height="0.7" fill="#6a6a6a"/>
<rect x="187.55" y="52.33" width="0.7" height="0.7" fill="#6a6a6a"/>
<rect x="190.16" y="71.15" width="0.7" height="0.7" fill="#6a6a6a"/>
<rect x="182.50" y="60.54" width="0.7" height="0.7" fill="#6a6a6a"/>
<rect x="189.14" y="58.73" width="0.7" height="0.7" fill="#6a6a6a"/>
<rect x="189.21" y="50.58" width="0.7" height="0.7" fill="#6a6a6a"/>
<rect x="189.87" y="61.56" width="0.7" height="0.7" fill="#6a6a6a"/>
<rect x="188.05" y="57.53" width="0.7" height="0.7" fill="#6a6a6a"/>
<rect x="189.40" y="57.96" width="0.7" height="0.7" fill="#6a6a6a"/>
<rect x="188.49" y="57.86" width="0.7" height="0.7" fill="#6a6a6a"/>
<rect x="183.06" y="59.87" width="0.7" height="0.7" fill="#6a6a6a"/>
<rect x="188.44" y="63.17" width="0.7" height="0.7" fill="#6a6a6a"/>
<rect x="186.07" y="59.86" width="0.7" height="0.7" fill="#6a6a6a"/>
<rect x="189.36" y="60.61" width="0.7" height="0.7" fill="#6a6a6a"/>
<rect x="190.73" y="68.36" width="0.7" height="0.7" fill="#6a6a6a"/>
<rect x="186.00" y="51.93" width="0.7" height="0.7" fill="#6a6a6a"/>
<rect x="189.88" y="66.42" width="0.7" height="0.7" fill="#6a6a6a"/>
<rect x="190.03" y="63.42" width="0.7" height="0.7" fill="#6a6a6a"/>
<rect x="186.64" y="57.00" width="0.7" height="0.7" fill="#6a6a6a"/>
<rect x="192.44" y="54.53" width="0.7" height="0.7" fill="#aaaaaa"/>
<rect x="178.93" y="54.01" width="0.7" height="0.7" fill="#aaaaaa"/>
<rect x="200.46" y="71.54" width="0.7" height="0.7" fill="#aaaaaa"/>
<rect x="184.57" y="55.63" width="0.7" height="0.7" fill="#aaaaaa"/>
<rect x="189.16" y="55.50" width="0.7" height="0.7" fill="#aaaaaa"/>
<rect x="194.55" y="59.53" width="0.7" height="0.7" fill="#aaaaaa"/>
<rect x="182.57" y="67.85" width="0.7" height="0.7" fill="#aaaaaa"/>
<rect x="185.08" y="61.33" width="0.7" height="0.7" fill="#aaaaaa"/>
<rect x="187.94" y="58.11" width="0.7" height="0.7" fill="#aaaaaa"/>
<rect x="189.62" y="55.85" width="0.7" height="0.7" fill="#aaaaaa"/>
<rect x="178.78" y="46.75" width="0.7" height="0.7" fill="#aaaaaa"/>
<rect x="181.67" y="55.45" width="0.7" height="0.7" fill="#aaaaaa"/>
<rect x="187.89" y="60.33" width="0.7" height="0.7" fill="#aaaaaa"/>
<rect x="190.78" y="60.72" width="0.7" height="0.7" fill="#aaaaaa"/>
<rect x="184.03" y="55.75" width="0.7" height="0.7" fill="#aaaaaa"/>
<rect x="177.41" y="58.99" width="0.7" height="0.7" fill="#aaaaaa"/>
<rect x="190.42" y="63.18" width="0.7" height="0.7" fill="#aaaaaa"/>
<rect x="187.39" y="58.95" width="0.7" height="0.7" fill="#aaaaaa"/>
<rect x="192.68" y="60.09" width="0.7" height="0.7" fill="#aaaaaa"/>
<rect x="191.69" y="63.50" width="0.7" height="0.7" fill="#aaaaaa"/>
<rect x="189.07" y="67.84" width="0.7" height="0.7" fill="#aaaaaa"/>
<rect x="185.14" y="57.85" width="0.7" height="0.7" fill="#aaaaaa"/>
<rect x="183.96" y="55.22" width="0.7" height="0.7" fill="#aaaaaa"/>
<rect x="195.78" y="70.56" width="0.7" height="0.7" fill="#aaaaaa"/>
<rect x="188.11" y="63.41" width="0.7" height="0.7" fill="#aaaaaa"/>
<rect x="193.88" y="64.84" width="0.7" height="0.7" fill="#aaaaaa"/>
<rect x="194.03" y="52.42" width="0.7" height="0.7" fill="#aaaaaa"/>
<rect x="184.80" y="62.72" width="0.7" height="0.7" fill="#aaaaaa"/>
<rect x="195.18" y="60.62" width="0.7" height="0.7" fill="#aaaaaa"/>
<rect x="183.71" y="57.87" width="0.7" height="0.7" fill="#aaaaaa"/>
<rect x="184.70" y="54.85" width="0.7" height="0.7" fill="#aaaaaa"/>
<rect x="195.51" y="56.25" width="0.7" height="0.7" fill="#aaaaaa"/>
<rect x="188.10" y="72.97" width="0.7" height="0.7" fill="#aaaaaa"/>
<rect x="193.92" y="62.02" width="0.7" height="0.7" fill="#aaaaaa"/>
<rect x="184.94" y="62.46" width="0.7" height="0.7" fill="#aaaaaa"/>
<rect x="196.11" y="63.74" width="0.7" height="0.7" fill="#aaaaaa"/>
<rect x="194.31" y="60.59" width="0.7" height="0.7" fill="#aaaaaa"/>
<rect x="190.58" y="58.79" width="0.7" height="0.7" fill="#aaaaaa"/>
<rect x="190.13" y="67.80" width="0.7" height="0.7" fill="#aaaaaa"/>
<rect x="180.84" y="59.62" width="0.7" height="0.7" fill="#aaaaaa"/>
<rect x="189.20" y="56.57" width="0.7" height="0.7" fill="#aaaaaa"/>
<rect x="186.46" y="64.72" width="0.7" height="0.7" fill="#aaaaaa"/>
<rect x="198.01" y="63.78" width="0.7" height="0.7" fill="#aaaaaa"/>
<rect x="189.63" y="50.69" width="0.7" height="0.7" fill="#aaaaaa"/>
<rect x="197.64" y="60.46" width="0.7" height="0.7" fill="#aaaaaa"/>
<rect x="187.83" y="53.29" width="0.7" height="0.7" fill="#aaaaaa"/>
<rect x="187.72" y="53.42" width="0.7" height="0.7" fill="#aaaaaa"/>
<rect x="188.36" y="62.80" width="0.7" height="0.7" fill="#aaaaaa"/>
<rect x="188.16" y="61.68" width="0.7" height="0.7" fill="#aaaaaa"/>
<rect x="183.74" y="68.58" width="0.7" height="0.7" fill="#aaaaaa"/>
<rect x="173.39" y="45.27" width="0.7" height="0.7" fill="#aaaaaa"/>
<rect x="175.25" y="52.65" width="0.7" height="0.7" fill="#aaaaaa"/>
<rect x="171.96" y="55.52" width="0.7" height="0.7" fill="#aaaaaa"/>
<rect x="177.16" y="49.73" width="0.7" height="0.7" fill="#aaaaaa"/>
<rect x="175.45" y="67.99" width="0.7" height="0.7" fill="#aaaaaa"/>
<rect x="178.73" y="56.94" width="0.7" height="0.7" fill="#aaaaaa"/>
<rect x="176.51" y="57.16" width="0.7" height="0.7" fill="#aaaaaa"/>
<rect x="175.81" y="63.13" width="0.7" height="0.7" fill="#aaaaaa"/>
<rect x="175.63" y="41.17" width="0.7" height="0.7" fill="#aaaaaa"/>
<rect x="175.91" y="51.77" width="0.7" height="0.7" fill="#aaaaaa"/>
<rect x="178.61" y="53.73" width="0.7" height="0.7" fill="#aaaaaa"/>
<rect x="176.59" y="73.24" width="0.7" height="0.7" fill="#aaaaaa"/>
<rect x="171.81" y="50.13" width="0.7" height="0.7" fill="#aaaaaa"/>
<rect x="170.35" y="41.24" width="0.7" height="0.7" fill="#aaaaaa"/>
<rect x="168.49" y="60.55" width="0.7" height="0.7" fill="#aaaaaa"/>
<rect x="173.45" y="44.92" width="0.7" height="0.7" fill="#aaaaaa"/>
<rect x="170.07" y="62.32" width="0.7" height="0.7" fill="#aaaaaa"/>
<rect x="172.90" y="55.43" width="0.7" height="0.7" fill="#aaaaaa"/>
<rect x="177.32" y="67.49" width="0.7" height="0.7" fill="#aaaaaa"/>
<rect x="183.76" y="65.23" width="0.7" height="0.7" fill="#aaaaaa"/>
<rect x="176.57" y="59.29" width="0.7" height="0.7" fill="#aaaaaa"/>
<rect x="183.21" y="68.00" width="0.7" height="0.7" fill="#aaaaaa"/>
<rect x="174.76" y="61.20" width="0.7" height="0.7" fill="#aaaaaa"/>
<rect x="177.15" y="58.37" width="0.7" height="0.7" fill="#aaaaaa"/>
<rect x="174.00" y="48.71" width="0.7" height="0.7" fill="#aaaaaa"/>
<rect x="173.86" y="47.19" width="0.7" height="0.7" fill="#aaaaaa"/>
<rect x="180.90" y="61.76" width="0.7" height="0.7" fill="#aaaaaa"/>
<rect x="171.18" y="67.77" width="0.7" height="0.7" fill="#aaaaaa"/>
<rect x="179.57" y="44.64" width="0.7" height="0.7" fill="#aaaaaa"/>
<rect x="183.37" y="63.67" width="0.7" height="0.7" fill="#aaaaaa"/>
<rect x="184.26" y="49.38" width="0.7" height="0.7" fill="#aaaaaa"/>
<rect x="178.12" y="60.96" width="0.7" height="0.7" fill="#aaaaaa"/>
<rect x="176.81" y="59.20" width="0.7" height="0.7" fill="#aaaaaa"/>
<rect x="180.21" y="47.54" width="0.7" height="0.7" fill="#aaaaaa"/>
<rect x="171.03" y="48.24" width="0.7" height="0.7" fill="#aaaaaa"/>
<rect x="173.77" y="53.76" width="0.7" height="0.7" fill="#aaaaaa"/>
<rect x="177.47" y="59.87" width="0.7" height="0.7" fill="#aaaaaa"/>
<rect x="176.13" y="53.26" width="0.7" height="0.7" fill="#aaaaaa"/>
<rect x="174.23" y="64.67" width="0.7" height="0.7" fill="#aaaaaa"/>
<rect x="179.05" y="58.71" width="0.7" height="0.7" fill="#aaaaaa"/>
<rect x="174.71" y="68.87" width="0.7" height="0.7" fill="#aaaaaa"/>
<rect x="173.62" y="62.54" width="0.7" height="0.7" fill="#aaaaaa"/>
<rect x="180.61" y="56.14" width="0.7" height="0.7" fill="#aaaaaa"/>
<rect x="179.30" y="50.19" width="0.7" height="0.7" fill="#aaaaaa"/>
<rect x="180.05" y="59.40" width="0.7" height="0.7" fill="#aaaaaa"/>
<rect x="169.65" y="62.69" width="0.7" height="0.7" fill="#aaaaaa"/>
<rect x="172.43" y="66.97" width="0.7" height="0.7" fill="#aaaaaa"/>
<rect x="173.28" y="56.85" width="0.7" height="0.7" fill="#aaaaaa"/>
<rect x="177.13" y="55.67" width="0.7" height="0.7" fill="#aaaaaa"/>
<rect x="177.04" y="54.13" width="0.7" height="0.7" fill="#aaaaaa"/>
</g>
<rect x="170.00" y="43.00" width="10.60" height="33.40" fill="none" stroke="#e0383c" stroke-width="0.7" stroke-dasharray="1.6,1.1"/>
<text x="245.50" y="30.20" font-size="5.4" textLength="32" lengthAdjust="spacingAndGlyphs" stroke="#1c1c1c" stroke-width="0.12" >CD8<tspan font-size="3.4" dy="-1.8">+</tspan><tspan dy="1.8"> T cells</tspan></text>
<rect x="234.70" y="33.00" width="54.90" height="54.00" fill="none" stroke="#cfcfcf" stroke-width="0.5" />
<line x1="234.70" y1="33.00" x2="234.70" y2="87.00" stroke="#333" stroke-width="0.7" />
<line x1="234.70" y1="87.00" x2="289.60" y2="87.00" stroke="#333" stroke-width="0.7" />
<line x1="233.50" y1="85.00" x2="234.70" y2="85.00" stroke="#333" stroke-width="0.5" />
<text x="232.90" y="86.00" font-size="2.6" text-anchor="end" font-weight="normal" fill="#333" >0</text>
<line x1="233.50" y1="69.00" x2="234.70" y2="69.00" stroke="#333" stroke-width="0.5" />
<text x="232.90" y="70.00" font-size="2.6" text-anchor="end" font-weight="normal" fill="#333" >200K</text>
<line x1="233.50" y1="53.00" x2="234.70" y2="53.00" stroke="#333" stroke-width="0.5" />
<text x="232.90" y="54.00" font-size="2.6" text-anchor="end" font-weight="normal" fill="#333" >400K</text>
<line x1="233.50" y1="37.00" x2="234.70" y2="37.00" stroke="#333" stroke-width="0.5" />
<text x="232.90" y="38.00" font-size="2.6" text-anchor="end" font-weight="normal" fill="#333" >600K</text>
<line x1="237.70" y1="87.00" x2="237.70" y2="88.20" stroke="#333" stroke-width="0.5" />
<text x="236.20" y="91.60" font-size="2.6" font-weight="normal" fill="#333" >10<tspan font-size="1.8" dy="-1">1</tspan></text>
<line x1="247.48" y1="87.00" x2="247.48" y2="88.20" stroke="#333" stroke-width="0.5" />
<text x="245.98" y="91.60" font-size="2.6" font-weight="normal" fill="#333" >10<tspan font-size="1.8" dy="-1">2</tspan></text>
<line x1="257.26" y1="87.00" x2="257.26" y2="88.20" stroke="#333" stroke-width="0.5" />
<text x="255.76" y="91.60" font-size="2.6" font-weight="normal" fill="#333" >10<tspan font-size="1.8" dy="-1">3</tspan></text>
<line x1="267.04" y1="87.00" x2="267.04" y2="88.20" stroke="#333" stroke-width="0.5" />
<text x="265.54" y="91.60" font-size="2.6" font-weight="normal" fill="#333" >10<tspan font-size="1.8" dy="-1">4</tspan></text>
<line x1="276.82" y1="87.00" x2="276.82" y2="88.20" stroke="#333" stroke-width="0.5" />
<text x="275.32" y="91.60" font-size="2.6" font-weight="normal" fill="#333" >10<tspan font-size="1.8" dy="-1">5</tspan></text>
<line x1="286.60" y1="87.00" x2="286.60" y2="88.20" stroke="#333" stroke-width="0.5" />
<text x="285.10" y="91.60" font-size="2.6" font-weight="normal" fill="#333" >10<tspan font-size="1.8" dy="-1">6</tspan></text>
<text x="222.20" y="61.00" font-size="5.2" text-anchor="middle" transform="rotate(-90 222.20 61.00)" stroke="#1c1c1c" stroke-width="0.12" >FSC-H</text>
<line x1="220.40" y1="37.00" x2="220.40" y2="49.00" stroke="#333" stroke-width="0.8" />
<line x1="220.40" y1="71.00" x2="220.40" y2="83.00" stroke="#333" stroke-width="0.8" />
<path d="M219.20,39.00 L220.40,36.00 L221.60,39.00 Z" fill="#333"/>
<text x="261.30" y="101.00" font-size="5.4" text-anchor="middle" textLength="14.9" lengthAdjust="spacingAndGlyphs" stroke="#1c1c1c" stroke-width="0.12" >CFSE</text>
<line x1="239.00" y1="99.20" x2="247.20" y2="99.20" stroke="#333" stroke-width="0.9" />
<line x1="275.10" y1="99.20" x2="285.60" y2="99.20" stroke="#333" stroke-width="0.9" />
<path d="M285.10,97.90 L288.10,99.2 L285.10,100.50 Z" fill="#333"/>
<g filter="url(#bl)">
<rect x="271.01" y="61.52" width="0.7" height="0.7" fill="#444444"/>
<rect x="270.32" y="52.69" width="0.7" height="0.7" fill="#444444"/>
<rect x="271.74" y="61.60" width="0.7" height="0.7" fill="#444444"/>
<rect x="267.33" y="61.81" width="0.7" height="0.7" fill="#444444"/>
<rect x="270.70" y="64.93" width="0.7" height="0.7" fill="#444444"/>
<rect x="268.38" y="66.45" width="0.7" height="0.7" fill="#444444"/>
<rect x="269.76" y="69.16" width="0.7" height="0.7" fill="#444444"/>
<rect x="269.78" y="63.68" width="0.7" height="0.7" fill="#444444"/>
<rect x="269.45" y="57.93" width="0.7" height="0.7" fill="#444444"/>
<rect x="271.64" y="64.40" width="0.7" height="0.7" fill="#444444"/>
<rect x="272.31" y="64.24" width="0.7" height="0.7" fill="#444444"/>
<rect x="269.14" y="56.18" width="0.7" height="0.7" fill="#444444"/>
<rect x="269.02" y="59.34" width="0.7" height="0.7" fill="#444444"/>
<rect x="268.78" y="63.36" width="0.7" height="0.7" fill="#444444"/>
<rect x="270.49" y="60.64" width="0.7" height="0.7" fill="#444444"/>
<rect x="270.26" y="61.03" width="0.7" height="0.7" fill="#444444"/>
<rect x="270.32" y="63.91" width="0.7" height="0.7" fill="#444444"/>
<rect x="271.44" y="59.30" width="0.7" height="0.7" fill="#444444"/>
<rect x="267.74" y="66.07" width="0.7" height="0.7" fill="#444444"/>
<rect x="270.17" y="65.04" width="0.7" height="0.7" fill="#444444"/>
<rect x="267.54" y="60.44" width="0.7" height="0.7" fill="#444444"/>
<rect x="270.04" y="56.89" width="0.7" height="0.7" fill="#444444"/>
<rect x="269.23" y="63.82" width="0.7" height="0.7" fill="#444444"/>
<rect x="271.62" y="66.60" width="0.7" height="0.7" fill="#444444"/>
<rect x="268.70" y="57.02" width="0.7" height="0.7" fill="#444444"/>
<rect x="270.78" y="64.51" width="0.7" height="0.7" fill="#444444"/>
<rect x="270.29" y="57.34" width="0.7" height="0.7" fill="#444444"/>
<rect x="271.17" y="64.04" width="0.7" height="0.7" fill="#444444"/>
<rect x="270.83" y="59.94" width="0.7" height="0.7" fill="#444444"/>
<rect x="270.46" y="64.03" width="0.7" height="0.7" fill="#444444"/>
<rect x="269.16" y="55.60" width="0.7" height="0.7" fill="#444444"/>
<rect x="270.49" y="63.04" width="0.7" height="0.7" fill="#444444"/>
<rect x="270.02" y="64.35" width="0.7" height="0.7" fill="#444444"/>
<rect x="269.12" y="61.24" width="0.7" height="0.7" fill="#444444"/>
<rect x="269.54" y="63.33" width="0.7" height="0.7" fill="#444444"/>
<rect x="272.39" y="60.70" width="0.7" height="0.7" fill="#444444"/>
<rect x="273.08" y="66.39" width="0.7" height="0.7" fill="#444444"/>
<rect x="271.19" y="63.38" width="0.7" height="0.7" fill="#444444"/>
<rect x="272.66" y="60.92" width="0.7" height="0.7" fill="#444444"/>
<rect x="269.83" y="58.10" width="0.7" height="0.7" fill="#444444"/>
<rect x="270.71" y="65.80" width="0.7" height="0.7" fill="#444444"/>
<rect x="270.80" y="62.85" width="0.7" height="0.7" fill="#444444"/>
<rect x="269.70" y="62.04" width="0.7" height="0.7" fill="#444444"/>
<rect x="267.86" y="64.86" width="0.7" height="0.7" fill="#444444"/>
<rect x="269.39" y="57.97" width="0.7" height="0.7" fill="#444444"/>
<rect x="268.87" y="58.86" width="0.7" height="0.7" fill="#444444"/>
<rect x="271.28" y="64.89" width="0.7" height="0.7" fill="#444444"/>
<rect x="267.96" y="64.46" width="0.7" height="0.7" fill="#444444"/>
<rect x="271.33" y="59.65" width="0.7" height="0.7" fill="#444444"/>
<rect x="267.77" y="59.11" width="0.7" height="0.7" fill="#444444"/>
<rect x="269.05" y="62.60" width="0.7" height="0.7" fill="#444444"/>
<rect x="269.46" y="55.01" width="0.7" height="0.7" fill="#444444"/>
<rect x="270.35" y="56.59" width="0.7" height="0.7" fill="#444444"/>
<rect x="271.36" y="57.64" width="0.7" height="0.7" fill="#444444"/>
<rect x="268.96" y="58.77" width="0.7" height="0.7" fill="#444444"/>
<rect x="269.19" y="65.65" width="0.7" height="0.7" fill="#444444"/>
<rect x="271.28" y="63.43" width="0.7" height="0.7" fill="#444444"/>
<rect x="270.48" y="56.55" width="0.7" height="0.7" fill="#444444"/>
<rect x="269.22" y="59.73" width="0.7" height="0.7" fill="#444444"/>
<rect x="268.53" y="63.13" width="0.7" height="0.7" fill="#444444"/>
<rect x="268.89" y="59.23" width="0.7" height="0.7" fill="#444444"/>
<rect x="268.43" y="54.92" width="0.7" height="0.7" fill="#444444"/>
<rect x="270.89" y="65.76" width="0.7" height="0.7" fill="#444444"/>
<rect x="270.26" y="58.37" width="0.7" height="0.7" fill="#444444"/>
<rect x="265.94" y="62.05" width="0.7" height="0.7" fill="#444444"/>
<rect x="271.82" y="62.45" width="0.7" height="0.7" fill="#444444"/>
<rect x="271.39" y="66.23" width="0.7" height="0.7" fill="#444444"/>
<rect x="271.69" y="60.09" width="0.7" height="0.7" fill="#444444"/>
<rect x="271.58" y="63.98" width="0.7" height="0.7" fill="#444444"/>
<rect x="267.69" y="60.20" width="0.7" height="0.7" fill="#444444"/>
<rect x="267.86" y="61.15" width="0.7" height="0.7" fill="#444444"/>
<rect x="270.87" y="58.08" width="0.7" height="0.7" fill="#444444"/>
<rect x="266.92" y="65.65" width="0.7" height="0.7" fill="#444444"/>
<rect x="270.57" y="66.21" width="0.7" height="0.7" fill="#444444"/>
<rect x="268.01" y="64.89" width="0.7" height="0.7" fill="#444444"/>
<rect x="273.11" y="67.92" width="0.7" height="0.7" fill="#444444"/>
<rect x="269.68" y="62.36" width="0.7" height="0.7" fill="#444444"/>
<rect x="269.77" y="64.70" width="0.7" height="0.7" fill="#444444"/>
<rect x="271.56" y="61.78" width="0.7" height="0.7" fill="#444444"/>
<rect x="267.96" y="63.87" width="0.7" height="0.7" fill="#444444"/>
<rect x="269.30" y="63.51" width="0.7" height="0.7" fill="#444444"/>
<rect x="270.39" y="66.70" width="0.7" height="0.7" fill="#444444"/>
<rect x="271.71" y="60.06" width="0.7" height="0.7" fill="#444444"/>
<rect x="270.52" y="67.15" width="0.7" height="0.7" fill="#444444"/>
<rect x="269.19" y="62.89" width="0.7" height="0.7" fill="#444444"/>
<rect x="271.79" y="65.52" width="0.7" height="0.7" fill="#444444"/>
<rect x="270.78" y="57.28" width="0.7" height="0.7" fill="#444444"/>
<rect x="268.11" y="62.29" width="0.7" height="0.7" fill="#444444"/>
<rect x="270.58" y="69.65" width="0.7" height="0.7" fill="#444444"/>
<rect x="268.71" y="65.14" width="0.7" height="0.7" fill="#444444"/>
<rect x="271.16" y="56.15" width="0.7" height="0.7" fill="#444444"/>
<rect x="268.77" y="62.03" width="0.7" height="0.7" fill="#444444"/>
<rect x="269.26" y="61.01" width="0.7" height="0.7" fill="#444444"/>
<rect x="270.71" y="58.91" width="0.7" height="0.7" fill="#444444"/>
<rect x="270.70" y="59.46" width="0.7" height="0.7" fill="#444444"/>
<rect x="269.18" y="63.22" width="0.7" height="0.7" fill="#444444"/>
<rect x="269.14" y="62.42" width="0.7" height="0.7" fill="#444444"/>
<rect x="272.40" y="61.59" width="0.7" height="0.7" fill="#444444"/>
<rect x="269.78" y="63.85" width="0.7" height="0.7" fill="#444444"/>
<rect x="269.45" y="64.96" width="0.7" height="0.7" fill="#444444"/>
<rect x="268.08" y="63.48" width="0.7" height="0.7" fill="#444444"/>
<rect x="269.23" y="58.94" width="0.7" height="0.7" fill="#444444"/>
<rect x="272.65" y="58.78" width="0.7" height="0.7" fill="#444444"/>
<rect x="272.64" y="63.61" width="0.7" height="0.7" fill="#444444"/>
<rect x="272.18" y="58.37" width="0.7" height="0.7" fill="#444444"/>
<rect x="271.80" y="66.16" width="0.7" height="0.7" fill="#444444"/>
<rect x="269.83" y="61.09" width="0.7" height="0.7" fill="#444444"/>
<rect x="273.68" y="62.07" width="0.7" height="0.7" fill="#444444"/>
<rect x="269.37" y="59.48" width="0.7" height="0.7" fill="#444444"/>
<rect x="270.67" y="62.56" width="0.7" height="0.7" fill="#444444"/>
<rect x="270.27" y="67.01" width="0.7" height="0.7" fill="#444444"/>
<rect x="269.51" y="63.01" width="0.7" height="0.7" fill="#444444"/>
<rect x="272.19" y="58.29" width="0.7" height="0.7" fill="#444444"/>
<rect x="271.56" y="67.36" width="0.7" height="0.7" fill="#444444"/>
<rect x="267.97" y="57.99" width="0.7" height="0.7" fill="#444444"/>
<rect x="268.44" y="55.59" width="0.7" height="0.7" fill="#444444"/>
<rect x="270.68" y="55.56" width="0.7" height="0.7" fill="#444444"/>
<rect x="270.75" y="66.15" width="0.7" height="0.7" fill="#444444"/>
<rect x="267.58" y="60.49" width="0.7" height="0.7" fill="#444444"/>
<rect x="267.12" y="63.99" width="0.7" height="0.7" fill="#444444"/>
<rect x="268.89" y="60.65" width="0.7" height="0.7" fill="#444444"/>
<rect x="270.08" y="63.24" width="0.7" height="0.7" fill="#444444"/>
<rect x="269.48" y="61.55" width="0.7" height="0.7" fill="#444444"/>
<rect x="269.18" y="61.87" width="0.7" height="0.7" fill="#444444"/>
<rect x="268.24" y="61.70" width="0.7" height="0.7" fill="#444444"/>
<rect x="267.10" y="59.93" width="0.7" height="0.7" fill="#444444"/>
<rect x="272.87" y="61.75" width="0.7" height="0.7" fill="#444444"/>
<rect x="268.11" y="62.32" width="0.7" height="0.7" fill="#444444"/>
<rect x="268.54" y="56.22" width="0.7" height="0.7" fill="#444444"/>
<rect x="268.90" y="63.86" width="0.7" height="0.7" fill="#444444"/>
<rect x="270.58" y="61.19" width="0.7" height="0.7" fill="#444444"/>
<rect x="268.61" y="58.05" width="0.7" height="0.7" fill="#444444"/>
<rect x="272.02" y="62.28" width="0.7" height="0.7" fill="#444444"/>
<rect x="268.57" y="54.75" width="0.7" height="0.7" fill="#444444"/>
<rect x="267.95" y="69.42" width="0.7" height="0.7" fill="#444444"/>
<rect x="268.28" y="61.25" width="0.7" height="0.7" fill="#444444"/>
<rect x="270.32" y="61.00" width="0.7" height="0.7" fill="#444444"/>
<rect x="269.58" y="57.11" width="0.7" height="0.7" fill="#444444"/>
<rect x="268.42" y="66.90" width="0.7" height="0.7" fill="#444444"/>
<rect x="268.87" y="64.21" width="0.7" height="0.7" fill="#444444"/>
<rect x="267.46" y="60.62" width="0.7" height="0.7" fill="#444444"/>
<rect x="270.39" y="64.82" width="0.7" height="0.7" fill="#444444"/>
<rect x="268.32" y="63.41" width="0.7" height="0.7" fill="#444444"/>
<rect x="270.58" y="59.14" width="0.7" height="0.7" fill="#444444"/>
<rect x="270.72" y="58.63" width="0.7" height="0.7" fill="#444444"/>
<rect x="268.81" y="61.44" width="0.7" height="0.7" fill="#444444"/>
<rect x="265.93" y="61.15" width="0.7" height="0.7" fill="#444444"/>
<rect x="268.50" y="56.82" width="0.7" height="0.7" fill="#444444"/>
<rect x="269.36" y="63.94" width="0.7" height="0.7" fill="#444444"/>
<rect x="269.39" y="65.55" width="0.7" height="0.7" fill="#444444"/>
<rect x="268.26" y="57.30" width="0.7" height="0.7" fill="#444444"/>
<rect x="272.33" y="62.78" width="0.7" height="0.7" fill="#444444"/>
<rect x="271.42" y="58.85" width="0.7" height="0.7" fill="#444444"/>
<rect x="271.21" y="62.33" width="0.7" height="0.7" fill="#444444"/>
<rect x="270.97" y="61.58" width="0.7" height="0.7" fill="#444444"/>
<rect x="271.81" y="59.42" width="0.7" height="0.7" fill="#444444"/>
<rect x="268.55" y="56.77" width="0.7" height="0.7" fill="#444444"/>
<rect x="271.74" y="59.14" width="0.7" height="0.7" fill="#444444"/>
<rect x="268.44" y="58.49" width="0.7" height="0.7" fill="#444444"/>
<rect x="269.33" y="57.43" width="0.7" height="0.7" fill="#444444"/>
<rect x="269.56" y="59.49" width="0.7" height="0.7" fill="#444444"/>
<rect x="269.17" y="58.43" width="0.7" height="0.7" fill="#444444"/>
<rect x="270.06" y="60.03" width="0.7" height="0.7" fill="#444444"/>
<rect x="270.17" y="62.30" width="0.7" height="0.7" fill="#444444"/>
<rect x="270.51" y="54.49" width="0.7" height="0.7" fill="#444444"/>
<rect x="269.20" y="58.95" width="0.7" height="0.7" fill="#444444"/>
<rect x="271.16" y="56.45" width="0.7" height="0.7" fill="#444444"/>
<rect x="268.93" y="60.56" width="0.7" height="0.7" fill="#444444"/>
<rect x="269.50" y="64.67" width="0.7" height="0.7" fill="#444444"/>
<rect x="269.34" y="64.59" width="0.7" height="0.7" fill="#444444"/>
<rect x="267.80" y="55.70" width="0.7" height="0.7" fill="#444444"/>
<rect x="271.83" y="62.89" width="0.7" height="0.7" fill="#444444"/>
<rect x="270.73" y="61.89" width="0.7" height="0.7" fill="#444444"/>
<rect x="270.73" y="57.61" width="0.7" height="0.7" fill="#444444"/>
<rect x="271.42" y="59.80" width="0.7" height="0.7" fill="#444444"/>
<rect x="271.48" y="61.78" width="0.7" height="0.7" fill="#444444"/>
<rect x="267.04" y="57.38" width="0.7" height="0.7" fill="#444444"/>
<rect x="271.69" y="61.06" width="0.7" height="0.7" fill="#444444"/>
<rect x="269.41" y="62.28" width="0.7" height="0.7" fill="#444444"/>
<rect x="269.36" y="59.76" width="0.7" height="0.7" fill="#444444"/>
<rect x="270.15" y="61.96" width="0.7" height="0.7" fill="#444444"/>
<rect x="272.28" y="61.65" width="0.7" height="0.7" fill="#444444"/>
<rect x="272.82" y="67.27" width="0.7" height="0.7" fill="#444444"/>
<rect x="272.57" y="64.90" width="0.7" height="0.7" fill="#444444"/>
<rect x="270.20" y="61.94" width="0.7" height="0.7" fill="#444444"/>
<rect x="269.79" y="59.16" width="0.7" height="0.7" fill="#444444"/>
<rect x="269.90" y="59.45" width="0.7" height="0.7" fill="#444444"/>
<rect x="272.46" y="63.21" width="0.7" height="0.7" fill="#444444"/>
<rect x="269.33" y="55.37" width="0.7" height="0.7" fill="#444444"/>
<rect x="269.92" y="60.17" width="0.7" height="0.7" fill="#444444"/>
<rect x="268.37" y="57.86" width="0.7" height="0.7" fill="#444444"/>
<rect x="266.62" y="63.32" width="0.7" height="0.7" fill="#444444"/>
<rect x="269.90" y="69.76" width="0.7" height="0.7" fill="#444444"/>
<rect x="269.95" y="61.03" width="0.7" height="0.7" fill="#444444"/>
<rect x="272.17" y="61.93" width="0.7" height="0.7" fill="#444444"/>
<rect x="270.25" y="60.31" width="0.7" height="0.7" fill="#444444"/>
<rect x="269.09" y="66.30" width="0.7" height="0.7" fill="#444444"/>
<rect x="271.50" y="66.99" width="0.7" height="0.7" fill="#444444"/>
<rect x="269.48" y="61.60" width="0.7" height="0.7" fill="#444444"/>
<rect x="268.68" y="64.59" width="0.7" height="0.7" fill="#444444"/>
<rect x="267.91" y="63.31" width="0.7" height="0.7" fill="#444444"/>
<rect x="271.64" y="66.02" width="0.7" height="0.7" fill="#444444"/>
<rect x="268.59" y="64.99" width="0.7" height="0.7" fill="#444444"/>
<rect x="268.93" y="59.08" width="0.7" height="0.7" fill="#444444"/>
<rect x="268.02" y="65.20" width="0.7" height="0.7" fill="#444444"/>
<rect x="272.47" y="59.60" width="0.7" height="0.7" fill="#444444"/>
<rect x="268.86" y="60.42" width="0.7" height="0.7" fill="#444444"/>
<rect x="273.76" y="64.71" width="0.7" height="0.7" fill="#444444"/>
<rect x="269.19" y="55.76" width="0.7" height="0.7" fill="#444444"/>
<rect x="268.99" y="65.30" width="0.7" height="0.7" fill="#444444"/>
<rect x="272.80" y="60.65" width="0.7" height="0.7" fill="#444444"/>
<rect x="268.96" y="59.87" width="0.7" height="0.7" fill="#444444"/>
<rect x="267.17" y="64.41" width="0.7" height="0.7" fill="#444444"/>
<rect x="268.37" y="64.90" width="0.7" height="0.7" fill="#444444"/>
<rect x="267.44" y="57.44" width="0.7" height="0.7" fill="#444444"/>
<rect x="270.43" y="59.06" width="0.7" height="0.7" fill="#444444"/>
<rect x="271.17" y="61.53" width="0.7" height="0.7" fill="#444444"/>
<rect x="268.24" y="63.49" width="0.7" height="0.7" fill="#444444"/>
<rect x="271.26" y="55.38" width="0.7" height="0.7" fill="#444444"/>
<rect x="272.74" y="63.09" width="0.7" height="0.7" fill="#444444"/>
<rect x="270.98" y="51.07" width="0.7" height="0.7" fill="#8a8a8a"/>
<rect x="267.13" y="58.32" width="0.7" height="0.7" fill="#8a8a8a"/>
<rect x="271.80" y="52.99" width="0.7" height="0.7" fill="#8a8a8a"/>
<rect x="266.70" y="50.26" width="0.7" height="0.7" fill="#8a8a8a"/>
<rect x="268.37" y="61.66" width="0.7" height="0.7" fill="#8a8a8a"/>
<rect x="264.62" y="57.16" width="0.7" height="0.7" fill="#8a8a8a"/>
<rect x="270.33" y="67.61" width="0.7" height="0.7" fill="#8a8a8a"/>
<rect x="270.73" y="58.54" width="0.7" height="0.7" fill="#8a8a8a"/>
<rect x="265.94" y="55.51" width="0.7" height="0.7" fill="#8a8a8a"/>
<rect x="267.27" y="60.71" width="0.7" height="0.7" fill="#8a8a8a"/>
<rect x="268.87" y="68.00" width="0.7" height="0.7" fill="#8a8a8a"/>
<rect x="269.75" y="54.86" width="0.7" height="0.7" fill="#8a8a8a"/>
<rect x="273.02" y="64.56" width="0.7" height="0.7" fill="#8a8a8a"/>
<rect x="269.26" y="56.54" width="0.7" height="0.7" fill="#8a8a8a"/>
<rect x="264.14" y="55.09" width="0.7" height="0.7" fill="#8a8a8a"/>
<rect x="271.37" y="56.15" width="0.7" height="0.7" fill="#8a8a8a"/>
<rect x="265.57" y="60.94" width="0.7" height="0.7" fill="#8a8a8a"/>
<rect x="269.63" y="62.91" width="0.7" height="0.7" fill="#8a8a8a"/>
<rect x="270.70" y="66.76" width="0.7" height="0.7" fill="#8a8a8a"/>
<rect x="266.82" y="64.70" width="0.7" height="0.7" fill="#8a8a8a"/>
<rect x="266.43" y="63.33" width="0.7" height="0.7" fill="#8a8a8a"/>
<rect x="269.47" y="61.17" width="0.7" height="0.7" fill="#8a8a8a"/>
<rect x="271.52" y="59.92" width="0.7" height="0.7" fill="#8a8a8a"/>
<rect x="271.89" y="64.20" width="0.7" height="0.7" fill="#8a8a8a"/>
<rect x="269.35" y="57.28" width="0.7" height="0.7" fill="#8a8a8a"/>
<rect x="267.04" y="57.47" width="0.7" height="0.7" fill="#8a8a8a"/>
<rect x="268.47" y="59.88" width="0.7" height="0.7" fill="#8a8a8a"/>
<rect x="276.75" y="63.06" width="0.7" height="0.7" fill="#8a8a8a"/>
<rect x="271.00" y="55.87" width="0.7" height="0.7" fill="#8a8a8a"/>
<rect x="267.15" y="58.47" width="0.7" height="0.7" fill="#8a8a8a"/>
<rect x="269.50" y="55.03" width="0.7" height="0.7" fill="#8a8a8a"/>
<rect x="273.19" y="57.30" width="0.7" height="0.7" fill="#8a8a8a"/>
<rect x="271.80" y="48.79" width="0.7" height="0.7" fill="#8a8a8a"/>
<rect x="268.98" y="61.33" width="0.7" height="0.7" fill="#8a8a8a"/>
<rect x="269.50" y="62.89" width="0.7" height="0.7" fill="#8a8a8a"/>
<rect x="269.73" y="60.78" width="0.7" height="0.7" fill="#8a8a8a"/>
<rect x="264.08" y="56.58" width="0.7" height="0.7" fill="#8a8a8a"/>
<rect x="262.91" y="63.02" width="0.7" height="0.7" fill="#8a8a8a"/>
<rect x="269.80" y="59.06" width="0.7" height="0.7" fill="#8a8a8a"/>
<rect x="266.86" y="57.21" width="0.7" height="0.7" fill="#8a8a8a"/>
<rect x="273.80" y="68.31" width="0.7" height="0.7" fill="#8a8a8a"/>
<rect x="268.85" y="66.18" width="0.7" height="0.7" fill="#8a8a8a"/>
<rect x="264.87" y="50.71" width="0.7" height="0.7" fill="#8a8a8a"/>
<rect x="267.74" y="55.80" width="0.7" height="0.7" fill="#8a8a8a"/>
<rect x="267.55" y="60.90" width="0.7" height="0.7" fill="#8a8a8a"/>
<rect x="276.86" y="56.83" width="0.7" height="0.7" fill="#8a8a8a"/>
<rect x="269.13" y="61.33" width="0.7" height="0.7" fill="#8a8a8a"/>
<rect x="268.91" y="64.47" width="0.7" height="0.7" fill="#8a8a8a"/>
<rect x="273.62" y="54.03" width="0.7" height="0.7" fill="#8a8a8a"/>
<rect x="269.42" y="58.73" width="0.7" height="0.7" fill="#8a8a8a"/>
<rect x="269.93" y="52.65" width="0.7" height="0.7" fill="#8a8a8a"/>
<rect x="264.43" y="48.88" width="0.7" height="0.7" fill="#8a8a8a"/>
<rect x="270.37" y="60.92" width="0.7" height="0.7" fill="#8a8a8a"/>
<rect x="269.19" y="48.64" width="0.7" height="0.7" fill="#8a8a8a"/>
<rect x="268.03" y="56.37" width="0.7" height="0.7" fill="#8a8a8a"/>
<rect x="265.32" y="55.61" width="0.7" height="0.7" fill="#8a8a8a"/>
<rect x="270.81" y="62.61" width="0.7" height="0.7" fill="#8a8a8a"/>
<rect x="268.94" y="62.47" width="0.7" height="0.7" fill="#8a8a8a"/>
<rect x="267.43" y="60.34" width="0.7" height="0.7" fill="#8a8a8a"/>
<rect x="269.10" y="62.66" width="0.7" height="0.7" fill="#8a8a8a"/>
<rect x="268.82" y="59.31" width="0.7" height="0.7" fill="#8a8a8a"/>
<rect x="268.65" y="56.90" width="0.7" height="0.7" fill="#8a8a8a"/>
<rect x="274.81" y="62.47" width="0.7" height="0.7" fill="#8a8a8a"/>
<rect x="270.12" y="71.00" width="0.7" height="0.7" fill="#8a8a8a"/>
<rect x="272.65" y="52.53" width="0.7" height="0.7" fill="#8a8a8a"/>
<rect x="270.81" y="64.02" width="0.7" height="0.7" fill="#8a8a8a"/>
<rect x="273.90" y="66.32" width="0.7" height="0.7" fill="#8a8a8a"/>
<rect x="271.00" y="54.35" width="0.7" height="0.7" fill="#8a8a8a"/>
<rect x="266.74" y="61.29" width="0.7" height="0.7" fill="#8a8a8a"/>
<rect x="270.31" y="55.10" width="0.7" height="0.7" fill="#8a8a8a"/>
<rect x="268.00" y="58.08" width="0.7" height="0.7" fill="#8a8a8a"/>
<rect x="269.16" y="61.61" width="0.7" height="0.7" fill="#8a8a8a"/>
<rect x="268.25" y="54.06" width="0.7" height="0.7" fill="#8a8a8a"/>
<rect x="272.23" y="67.66" width="0.7" height="0.7" fill="#8a8a8a"/>
<rect x="268.72" y="64.92" width="0.7" height="0.7" fill="#8a8a8a"/>
<rect x="270.15" y="63.17" width="0.7" height="0.7" fill="#8a8a8a"/>
<rect x="270.25" y="56.34" width="0.7" height="0.7" fill="#8a8a8a"/>
<rect x="270.49" y="64.85" width="0.7" height="0.7" fill="#8a8a8a"/>
<rect x="266.67" y="69.44" width="0.7" height="0.7" fill="#8a8a8a"/>
<rect x="274.43" y="68.75" width="0.7" height="0.7" fill="#8a8a8a"/>
<rect x="274.17" y="63.56" width="0.7" height="0.7" fill="#8a8a8a"/>
<rect x="268.12" y="57.12" width="0.7" height="0.7" fill="#8a8a8a"/>
<rect x="266.89" y="60.56" width="0.7" height="0.7" fill="#8a8a8a"/>
<rect x="268.91" y="63.22" width="0.7" height="0.7" fill="#8a8a8a"/>
<rect x="263.75" y="71.10" width="0.7" height="0.7" fill="#8a8a8a"/>
<rect x="274.92" y="59.87" width="0.7" height="0.7" fill="#8a8a8a"/>
<rect x="270.76" y="62.28" width="0.7" height="0.7" fill="#8a8a8a"/>
<rect x="269.71" y="59.00" width="0.7" height="0.7" fill="#8a8a8a"/>
<rect x="268.68" y="56.04" width="0.7" height="0.7" fill="#8a8a8a"/>
<rect x="269.46" y="59.88" width="0.7" height="0.7" fill="#8a8a8a"/>
<rect x="269.83" y="55.90" width="0.7" height="0.7" fill="#8a8a8a"/>
<rect x="269.10" y="60.23" width="0.7" height="0.7" fill="#8a8a8a"/>
<rect x="270.57" y="54.90" width="0.7" height="0.7" fill="#8a8a8a"/>
<rect x="270.09" y="64.72" width="0.7" height="0.7" fill="#8a8a8a"/>
<rect x="270.55" y="58.23" width="0.7" height="0.7" fill="#8a8a8a"/>
<rect x="267.72" y="58.87" width="0.7" height="0.7" fill="#8a8a8a"/>
<rect x="270.90" y="67.45" width="0.7" height="0.7" fill="#8a8a8a"/>
<rect x="268.59" y="56.91" width="0.7" height="0.7" fill="#8a8a8a"/>
<rect x="269.98" y="60.98" width="0.7" height="0.7" fill="#8a8a8a"/>
<rect x="266.64" y="56.46" width="0.7" height="0.7" fill="#8a8a8a"/>
<rect x="268.74" y="63.22" width="0.7" height="0.7" fill="#8a8a8a"/>
<rect x="265.90" y="55.11" width="0.7" height="0.7" fill="#8a8a8a"/>
<rect x="270.30" y="54.12" width="0.7" height="0.7" fill="#8a8a8a"/>
<rect x="269.28" y="61.69" width="0.7" height="0.7" fill="#8a8a8a"/>
<rect x="268.71" y="55.11" width="0.7" height="0.7" fill="#8a8a8a"/>
<rect x="268.84" y="58.41" width="0.7" height="0.7" fill="#8a8a8a"/>
<rect x="269.87" y="55.97" width="0.7" height="0.7" fill="#8a8a8a"/>
<rect x="271.84" y="51.96" width="0.7" height="0.7" fill="#8a8a8a"/>
<rect x="268.54" y="60.04" width="0.7" height="0.7" fill="#8a8a8a"/>
<rect x="271.50" y="57.08" width="0.7" height="0.7" fill="#8a8a8a"/>
<rect x="270.42" y="57.28" width="0.7" height="0.7" fill="#8a8a8a"/>
<rect x="270.92" y="68.34" width="0.7" height="0.7" fill="#8a8a8a"/>
<rect x="267.96" y="62.13" width="0.7" height="0.7" fill="#8a8a8a"/>
<rect x="266.59" y="64.67" width="0.7" height="0.7" fill="#8a8a8a"/>
<rect x="272.15" y="60.17" width="0.7" height="0.7" fill="#8a8a8a"/>
<rect x="266.05" y="61.93" width="0.7" height="0.7" fill="#8a8a8a"/>
<rect x="271.99" y="65.23" width="0.7" height="0.7" fill="#8a8a8a"/>
<rect x="271.11" y="51.21" width="0.7" height="0.7" fill="#8a8a8a"/>
<rect x="267.23" y="66.83" width="0.7" height="0.7" fill="#8a8a8a"/>
<rect x="265.81" y="65.43" width="0.7" height="0.7" fill="#8a8a8a"/>
<rect x="273.59" y="64.33" width="0.7" height="0.7" fill="#b5b5b5"/>
<rect x="270.92" y="56.67" width="0.7" height="0.7" fill="#b5b5b5"/>
<rect x="262.71" y="58.28" width="0.7" height="0.7" fill="#b5b5b5"/>
<rect x="266.30" y="58.67" width="0.7" height="0.7" fill="#b5b5b5"/>
<rect x="269.44" y="57.99" width="0.7" height="0.7" fill="#b5b5b5"/>
<rect x="267.67" y="61.97" width="0.7" height="0.7" fill="#b5b5b5"/>
<rect x="266.98" y="71.90" width="0.7" height="0.7" fill="#b5b5b5"/>
<rect x="268.55" y="59.59" width="0.7" height="0.7" fill="#b5b5b5"/>
<rect x="266.27" y="54.62" width="0.7" height="0.7" fill="#b5b5b5"/>
<rect x="271.70" y="60.05" width="0.7" height="0.7" fill="#b5b5b5"/>
<rect x="263.22" y="55.06" width="0.7" height="0.7" fill="#b5b5b5"/>
<rect x="266.52" y="55.88" width="0.7" height="0.7" fill="#b5b5b5"/>
<rect x="270.80" y="50.87" width="0.7" height="0.7" fill="#b5b5b5"/>
<rect x="268.72" y="60.00" width="0.7" height="0.7" fill="#b5b5b5"/>
<rect x="262.88" y="59.33" width="0.7" height="0.7" fill="#b5b5b5"/>
<rect x="266.67" y="62.51" width="0.7" height="0.7" fill="#b5b5b5"/>
<rect x="265.42" y="61.12" width="0.7" height="0.7" fill="#b5b5b5"/>
<rect x="261.17" y="51.41" width="0.7" height="0.7" fill="#b5b5b5"/>
<rect x="269.75" y="66.29" width="0.7" height="0.7" fill="#b5b5b5"/>
<rect x="266.95" y="54.81" width="0.7" height="0.7" fill="#b5b5b5"/>
<rect x="270.79" y="44.36" width="0.7" height="0.7" fill="#b5b5b5"/>
<rect x="264.20" y="63.71" width="0.7" height="0.7" fill="#b5b5b5"/>
<rect x="269.28" y="51.77" width="0.7" height="0.7" fill="#b5b5b5"/>
<rect x="260.39" y="69.16" width="0.7" height="0.7" fill="#b5b5b5"/>
<rect x="267.54" y="52.73" width="0.7" height="0.7" fill="#b5b5b5"/>
<rect x="267.19" y="65.31" width="0.7" height="0.7" fill="#b5b5b5"/>
<rect x="257.93" y="66.77" width="0.7" height="0.7" fill="#b5b5b5"/>
<rect x="269.59" y="44.43" width="0.7" height="0.7" fill="#b5b5b5"/>
<rect x="269.70" y="46.54" width="0.7" height="0.7" fill="#b5b5b5"/>
<rect x="270.99" y="61.79" width="0.7" height="0.7" fill="#b5b5b5"/>
<rect x="274.88" y="54.73" width="0.7" height="0.7" fill="#b5b5b5"/>
<rect x="267.02" y="66.33" width="0.7" height="0.7" fill="#b5b5b5"/>
<rect x="264.76" y="54.07" width="0.7" height="0.7" fill="#b5b5b5"/>
<rect x="265.70" y="58.49" width="0.7" height="0.7" fill="#b5b5b5"/>
<rect x="263.21" y="62.39" width="0.7" height="0.7" fill="#b5b5b5"/>
<rect x="268.90" y="59.50" width="0.7" height="0.7" fill="#b5b5b5"/>
<rect x="272.95" y="56.71" width="0.7" height="0.7" fill="#b5b5b5"/>
<rect x="271.57" y="55.17" width="0.7" height="0.7" fill="#b5b5b5"/>
<rect x="269.65" y="45.46" width="0.7" height="0.7" fill="#b5b5b5"/>
<rect x="267.69" y="57.77" width="0.7" height="0.7" fill="#b5b5b5"/>
<rect x="265.27" y="54.73" width="0.7" height="0.7" fill="#b5b5b5"/>
<rect x="265.78" y="53.96" width="0.7" height="0.7" fill="#b5b5b5"/>
<rect x="259.32" y="54.83" width="0.7" height="0.7" fill="#b5b5b5"/>
<rect x="265.08" y="55.33" width="0.7" height="0.7" fill="#b5b5b5"/>
<rect x="263.30" y="58.05" width="0.7" height="0.7" fill="#b5b5b5"/>
<rect x="269.75" y="57.25" width="0.7" height="0.7" fill="#b5b5b5"/>
<rect x="265.28" y="68.50" width="0.7" height="0.7" fill="#b5b5b5"/>
<rect x="270.42" y="65.45" width="0.7" height="0.7" fill="#b5b5b5"/>
<rect x="271.04" y="56.71" width="0.7" height="0.7" fill="#b5b5b5"/>
<rect x="266.55" y="66.79" width="0.7" height="0.7" fill="#b5b5b5"/>
<rect x="265.06" y="58.16" width="0.7" height="0.7" fill="#b5b5b5"/>
<rect x="268.32" y="61.61" width="0.7" height="0.7" fill="#b5b5b5"/>
<rect x="266.03" y="65.88" width="0.7" height="0.7" fill="#b5b5b5"/>
<rect x="266.38" y="64.08" width="0.7" height="0.7" fill="#b5b5b5"/>
<rect x="270.75" y="63.61" width="0.7" height="0.7" fill="#b5b5b5"/>
<rect x="269.57" y="50.88" width="0.7" height="0.7" fill="#b5b5b5"/>
<rect x="262.41" y="54.67" width="0.7" height="0.7" fill="#b5b5b5"/>
<rect x="268.66" y="69.51" width="0.7" height="0.7" fill="#b5b5b5"/>
<rect x="262.72" y="61.15" width="0.7" height="0.7" fill="#b5b5b5"/>
<rect x="264.01" y="53.87" width="0.7" height="0.7" fill="#b5b5b5"/>
</g>
<rect x="253.00" y="42.90" width="9.30" height="33.40" fill="none" stroke="#e0383c" stroke-width="0.7" stroke-dasharray="1.6,1.1"/>
<line x1="293.50" y1="51.70" x2="306.30" y2="51.70" stroke="#111" stroke-width="1.5" />
<path d="M310.60,51.70 L305.80,54.40 L305.80,49.00 Z" fill="#111"/>
<circle cx="314.20" cy="34.10" r="0.75" fill="#222" stroke="none" stroke-width="0.8"/>
<text x="318.80" y="36.30" font-size="6.3" textLength="54.2" lengthAdjust="spacingAndGlyphs" stroke="#1c1c1c" stroke-width="0.12" >Single cell sorting</text>
<circle cx="314.20" cy="56.30" r="0.75" fill="#222" stroke="none" stroke-width="0.8"/>
<text x="318.80" y="58.50" font-size="6.3" textLength="45.2" lengthAdjust="spacingAndGlyphs" stroke="#1c1c1c" stroke-width="0.12" >TCC expansion</text>
<circle cx="314.20" cy="78.80" r="0.75" fill="#222" stroke="none" stroke-width="0.8"/>
<text x="318.80" y="81.00" font-size="6.3" textLength="62.5" lengthAdjust="spacingAndGlyphs" stroke="#1c1c1c" stroke-width="0.12" >Testing with selected</text>
<text x="317.90" y="44.00" font-size="6.3" textLength="62.5" lengthAdjust="spacingAndGlyphs" stroke="#1c1c1c" stroke-width="0.12" >(CFSE<tspan font-size="3.4" dy="-2">low</tspan><tspan dy="2">CD4</tspan><tspan font-size="3.4" dy="-2">+</tspan><tspan dy="2"> T cells)</tspan></text>
<text x="318.00" y="66.00" font-size="6.3" textLength="67.2" lengthAdjust="spacingAndGlyphs" stroke="#1c1c1c" stroke-width="0.12" >(Feeder + PHA + hIL-2)</text>
<text x="318.80" y="87.60" font-size="6.3" textLength="26" lengthAdjust="spacingAndGlyphs" stroke="#1c1c1c" stroke-width="0.12" >peptides</text>
<text x="398.30" y="11.10" font-size="14" stroke="#1c1c1c" stroke-width="0.25" >B</text>
<text x="466.20" y="15.40" font-size="5.9" textLength="15.3" lengthAdjust="spacingAndGlyphs" stroke="#1c1c1c" stroke-width="0.12" >TCCs</text>
<line x1="429.50" y1="17.70" x2="429.50" y2="71.00" stroke="#222" stroke-width="1.0" />
<line x1="429.50" y1="70.50" x2="518.50" y2="70.50" stroke="#222" stroke-width="1.0" />
<line x1="427.60" y1="70.80" x2="429.20" y2="70.80" stroke="#222" stroke-width="0.7" />
<text x="426.80" y="72.50" font-size="4.8" text-anchor="end" stroke="#1c1c1c" stroke-width="0.2" >0</text>
<line x1="427.60" y1="60.18" x2="429.20" y2="60.18" stroke="#222" stroke-width="0.7" />
<text x="426.80" y="61.88" font-size="4.8" text-anchor="end" stroke="#1c1c1c" stroke-width="0.2" >20</text>
<line x1="427.60" y1="49.56" x2="429.20" y2="49.56" stroke="#222" stroke-width="0.7" />
<text x="426.80" y="51.26" font-size="4.8" text-anchor="end" stroke="#1c1c1c" stroke-width="0.2" >40</text>
<line x1="427.60" y1="38.94" x2="429.20" y2="38.94" stroke="#222" stroke-width="0.7" />
<text x="426.80" y="40.64" font-size="4.8" text-anchor="end" stroke="#1c1c1c" stroke-width="0.2" >60</text>
<line x1="427.60" y1="28.32" x2="429.20" y2="28.32" stroke="#222" stroke-width="0.7" />
<text x="426.80" y="30.02" font-size="4.8" text-anchor="end" stroke="#1c1c1c" stroke-width="0.2" >80</text>
<line x1="427.60" y1="17.70" x2="429.20" y2="17.70" stroke="#222" stroke-width="0.7" />
<text x="426.80" y="19.40" font-size="4.8" text-anchor="end" stroke="#1c1c1c" stroke-width="0.2" >100</text>
<rect x="438.8" y="38.41" width="17.00" height="32.39" fill="#111"/>
<text x="447.30" y="36.91" font-size="5.2" text-anchor="middle" stroke="#1c1c1c" stroke-width="0.12" >61</text>
<line x1="447.30" y1="70.80" x2="447.30" y2="72.50" stroke="#222" stroke-width="0.7" />
<text x="448.60" y="75.60" font-size="5.9" text-anchor="end" transform="rotate(-49 448.60 75.60)" stroke="#1c1c1c" stroke-width="0.1" >(#)II_GBM_12_1</text>
<rect x="465" y="45.31" width="17.30" height="25.49" fill="#111"/>
<text x="473.65" y="43.81" font-size="5.2" text-anchor="middle" stroke="#1c1c1c" stroke-width="0.12" >48</text>
<line x1="473.65" y1="70.80" x2="473.65" y2="72.50" stroke="#222" stroke-width="0.7" />
<text x="474.95" y="75.60" font-size="5.9" text-anchor="end" transform="rotate(-49 474.95 75.60)" stroke="#1c1c1c" stroke-width="0.1" >(#)II_GBM_14_1</text>
<rect x="491.5" y="54.34" width="17.30" height="16.46" fill="#111"/>
<text x="500.15" y="52.84" font-size="5.2" text-anchor="middle" stroke="#1c1c1c" stroke-width="0.12" >31</text>
<line x1="500.15" y1="70.80" x2="500.15" y2="72.50" stroke="#222" stroke-width="0.7" />
<text x="501.45" y="75.60" font-size="5.9" text-anchor="end" transform="rotate(-49 501.45 75.60)" stroke="#1c1c1c" stroke-width="0.1" >(#)II_GBM_24_1</text>
<text x="406.80" y="42.75" font-size="6.1" text-anchor="middle" textLength="30.5" lengthAdjust="spacingAndGlyphs" transform="rotate(-90 406.80 42.75)" stroke="#1c1c1c" stroke-width="0.12" >Number of</text>
<text x="414.50" y="42.75" font-size="6.1" text-anchor="middle" textLength="41.5" lengthAdjust="spacingAndGlyphs" transform="rotate(-90 414.50 42.75)" stroke="#1c1c1c" stroke-width="0.12" >reactive TCCs</text>
<text x="0.40" y="135.30" font-size="14" stroke="#1c1c1c" stroke-width="0.25" >C</text>
<text x="48.00" y="135.10" font-size="6.25" textLength="167" lengthAdjust="spacingAndGlyphs" stroke="#1c1c1c" stroke-width="0.12" >Comparison of the proliferative response levels of TCCs</text>
<text x="82.50" y="142.10" font-size="6.25" textLength="98.8" lengthAdjust="spacingAndGlyphs" stroke="#1c1c1c" stroke-width="0.12" >to <tspan fill="#4a63b4" stroke="#4a63b4">N-peptides</tspan> and <tspan fill="#e0383c" stroke="#e0383c">D-neopeptides</tspan></text>
<line x1="35.50" y1="146.50" x2="228.80" y2="146.50" stroke="#222" stroke-width="1.0" />
<text x="124.70" y="158.00" font-size="6.3" text-anchor="middle" stroke="#1c1c1c" stroke-width="0.12" >(#)II_GBM_12_1-specific TCCs</text>
<text x="54.60" y="170.50" font-size="6.3" text-anchor="middle" stroke="#1c1c1c" stroke-width="0.12" >Lower avidity (<tspan font-style="italic">n</tspan> = 40)</text>
<line x1="32.50" y1="174.00" x2="32.50" y2="227.00" stroke="#222" stroke-width="1.0" />
<line x1="32.50" y1="226.50" x2="77.00" y2="226.50" stroke="#222" stroke-width="1.0" />
<line x1="30.90" y1="216.00" x2="32.50" y2="216.00" stroke="#222" stroke-width="0.7" />
<text x="30.20" y="217.91" font-size="5.3" text-anchor="end" stroke="#1c1c1c" stroke-width="0.08" >1</text>
<line x1="30.90" y1="197.60" x2="32.50" y2="197.60" stroke="#222" stroke-width="0.7" />
<text x="30.20" y="199.51" font-size="5.3" text-anchor="end" stroke="#1c1c1c" stroke-width="0.08" >10</text>
<line x1="30.90" y1="179.20" x2="32.50" y2="179.20" stroke="#222" stroke-width="0.7" />
<text x="30.20" y="181.11" font-size="5.3" text-anchor="end" stroke="#1c1c1c" stroke-width="0.08" >100</text>
<line x1="41.90" y1="226.50" x2="41.90" y2="228.10" stroke="#222" stroke-width="0.7" />
<line x1="67.10" y1="226.50" x2="67.10" y2="228.10" stroke="#222" stroke-width="0.7" />
<text x="44.10" y="232.10" font-size="5.7" text-anchor="end" transform="rotate(-36 44.10 232.10)" stroke="#1c1c1c" stroke-width="0.12" >II_GBM_12_0</text>
<text x="69.30" y="232.10" font-size="5.7" text-anchor="end" transform="rotate(-36 69.30 232.10)" stroke="#1c1c1c" stroke-width="0.12" >(#)II_GBM_12_1</text>
<text x="17.90" y="198.75" font-size="5.6" text-anchor="middle" transform="rotate(-90 17.90 198.75)" stroke="#1c1c1c" stroke-width="0.12" >SI (proliferation)</text>
<line x1="32.50" y1="210.46" x2="79.00" y2="210.46" stroke="#e0383c" stroke-width="0.75" stroke-dasharray="1.5,1.1"/>
<rect x="38.90" y="186.60" width="6.00" height="35.20" fill="none" stroke="#4a63b4" stroke-width="0.8" />
<rect x="64.10" y="177.50" width="6.00" height="36.50" fill="none" stroke="#e0383c" stroke-width="0.8" />
<line x1="41.90" y1="217.44" x2="67.10" y2="201.14" stroke="#111" stroke-width="0.55" />
<line x1="41.90" y1="206.58" x2="67.10" y2="195.77" stroke="#111" stroke-width="0.55" />
<line x1="41.90" y1="218.39" x2="67.10" y2="209.94" stroke="#111" stroke-width="0.55" />
<line x1="41.90" y1="196.94" x2="67.10" y2="192.31" stroke="#111" stroke-width="0.55" />
<line x1="41.90" y1="214.94" x2="67.10" y2="197.30" stroke="#111" stroke-width="0.55" />
<line x1="41.90" y1="219.75" x2="67.10" y2="207.68" stroke="#111" stroke-width="0.55" />
<line x1="41.90" y1="215.28" x2="67.10" y2="204.86" stroke="#111" stroke-width="0.55" />
<line x1="41.90" y1="208.51" x2="67.10" y2="197.07" stroke="#111" stroke-width="0.55" />
<line x1="41.90" y1="215.22" x2="67.10" y2="204.28" stroke="#111" stroke-width="0.55" />
<line x1="41.90" y1="194.05" x2="67.10" y2="181.77" stroke="#111" stroke-width="0.55" />
<line x1="41.90" y1="187.89" x2="67.10" y2="180.22" stroke="#111" stroke-width="0.55" />
<line x1="41.90" y1="198.48" x2="67.10" y2="184.06" stroke="#111" stroke-width="0.55" />
<line x1="41.90" y1="194.34" x2="67.10" y2="180.69" stroke="#111" stroke-width="0.55" />
<line x1="41.90" y1="192.29" x2="67.10" y2="180.69" stroke="#111" stroke-width="0.55" />
<line x1="41.90" y1="219.60" x2="67.10" y2="210.04" stroke="#111" stroke-width="0.55" />
<line x1="41.90" y1="216.46" x2="67.10" y2="204.28" stroke="#111" stroke-width="0.55" />
<line x1="41.90" y1="210.56" x2="67.10" y2="199.90" stroke="#111" stroke-width="0.55" />
<line x1="41.90" y1="205.70" x2="67.10" y2="195.67" stroke="#111" stroke-width="0.55" />
<line x1="41.90" y1="219.44" x2="67.10" y2="205.13" stroke="#111" stroke-width="0.55" />
<line x1="41.90" y1="209.95" x2="67.10" y2="203.00" stroke="#111" stroke-width="0.55" />
<line x1="41.90" y1="196.63" x2="67.10" y2="184.58" stroke="#111" stroke-width="0.55" />
<line x1="41.90" y1="205.95" x2="67.10" y2="188.20" stroke="#111" stroke-width="0.55" />
<line x1="41.90" y1="213.78" x2="67.10" y2="201.62" stroke="#111" stroke-width="0.55" />
<line x1="41.90" y1="196.12" x2="67.10" y2="180.97" stroke="#111" stroke-width="0.55" />
<line x1="41.90" y1="195.15" x2="67.10" y2="183.39" stroke="#111" stroke-width="0.55" />
<line x1="41.90" y1="219.19" x2="67.10" y2="202.59" stroke="#111" stroke-width="0.55" />
<line x1="41.90" y1="206.26" x2="67.10" y2="194.97" stroke="#111" stroke-width="0.55" />
<line x1="41.90" y1="205.09" x2="67.10" y2="191.89" stroke="#111" stroke-width="0.55" />
<line x1="41.90" y1="219.71" x2="67.10" y2="211.76" stroke="#111" stroke-width="0.55" />
<line x1="41.90" y1="193.13" x2="67.10" y2="181.11" stroke="#111" stroke-width="0.55" />
<line x1="41.90" y1="214.19" x2="67.10" y2="197.97" stroke="#111" stroke-width="0.55" />
<line x1="41.90" y1="219.89" x2="67.10" y2="210.16" stroke="#111" stroke-width="0.55" />
<line x1="41.90" y1="218.04" x2="67.10" y2="204.81" stroke="#111" stroke-width="0.55" />
<line x1="41.90" y1="216.80" x2="67.10" y2="204.93" stroke="#111" stroke-width="0.55" />
<line x1="41.90" y1="198.85" x2="67.10" y2="187.97" stroke="#111" stroke-width="0.55" />
<line x1="41.90" y1="219.78" x2="67.10" y2="209.85" stroke="#111" stroke-width="0.55" />
<line x1="41.90" y1="218.05" x2="67.10" y2="201.04" stroke="#111" stroke-width="0.55" />
<line x1="41.90" y1="202.72" x2="67.10" y2="186.85" stroke="#111" stroke-width="0.55" />
<line x1="41.90" y1="217.14" x2="67.10" y2="202.62" stroke="#111" stroke-width="0.55" />
<line x1="41.90" y1="200.08" x2="67.10" y2="187.97" stroke="#111" stroke-width="0.55" />
<rect x="41.10" y="216.64" width="1.6" height="1.6" fill="#111"/>
<rect x="66.30" y="200.34" width="1.6" height="1.6" fill="#111"/>
<rect x="41.10" y="205.78" width="1.6" height="1.6" fill="#111"/>
<rect x="66.30" y="194.97" width="1.6" height="1.6" fill="#111"/>
<rect x="41.10" y="217.59" width="1.6" height="1.6" fill="#111"/>
<rect x="66.30" y="209.14" width="1.6" height="1.6" fill="#111"/>
<rect x="41.10" y="196.14" width="1.6" height="1.6" fill="#111"/>
<rect x="66.30" y="191.51" width="1.6" height="1.6" fill="#111"/>
<rect x="41.10" y="214.14" width="1.6" height="1.6" fill="#111"/>
<rect x="66.30" y="196.50" width="1.6" height="1.6" fill="#111"/>
<rect x="41.10" y="218.95" width="1.6" height="1.6" fill="#111"/>
<rect x="66.30" y="206.88" width="1.6" height="1.6" fill="#111"/>
<rect x="41.10" y="214.48" width="1.6" height="1.6" fill="#111"/>
<rect x="66.30" y="204.06" width="1.6" height="1.6" fill="#111"/>
<rect x="41.10" y="207.71" width="1.6" height="1.6" fill="#111"/>
<rect x="66.30" y="196.27" width="1.6" height="1.6" fill="#111"/>
<rect x="41.10" y="214.42" width="1.6" height="1.6" fill="#111"/>
<rect x="66.30" y="203.48" width="1.6" height="1.6" fill="#111"/>
<rect x="41.10" y="193.25" width="1.6" height="1.6" fill="#111"/>
<rect x="66.30" y="180.97" width="1.6" height="1.6" fill="#111"/>
<rect x="41.10" y="187.09" width="1.6" height="1.6" fill="#111"/>
<rect x="66.30" y="179.42" width="1.6" height="1.6" fill="#111"/>
<rect x="41.10" y="197.68" width="1.6" height="1.6" fill="#111"/>
<rect x="66.30" y="183.26" width="1.6" height="1.6" fill="#111"/>
<rect x="41.10" y="193.54" width="1.6" height="1.6" fill="#111"/>
<rect x="66.30" y="179.89" width="1.6" height="1.6" fill="#111"/>
<rect x="41.10" y="191.49" width="1.6" height="1.6" fill="#111"/>
<rect x="66.30" y="179.89" width="1.6" height="1.6" fill="#111"/>
<rect x="41.10" y="218.80" width="1.6" height="1.6" fill="#111"/>
<rect x="66.30" y="209.24" width="1.6" height="1.6" fill="#111"/>
<rect x="41.10" y="215.66" width="1.6" height="1.6" fill="#111"/>
<rect x="66.30" y="203.48" width="1.6" height="1.6" fill="#111"/>
<rect x="41.10" y="209.76" width="1.6" height="1.6" fill="#111"/>
<rect x="66.30" y="199.10" width="1.6" height="1.6" fill="#111"/>
<rect x="41.10" y="204.90" width="1.6" height="1.6" fill="#111"/>
<rect x="66.30" y="194.87" width="1.6" height="1.6" fill="#111"/>
<rect x="41.10" y="218.64" width="1.6" height="1.6" fill="#111"/>
<rect x="66.30" y="204.33" width="1.6" height="1.6" fill="#111"/>
<rect x="41.10" y="209.15" width="1.6" height="1.6" fill="#111"/>
<rect x="66.30" y="202.20" width="1.6" height="1.6" fill="#111"/>
<rect x="41.10" y="195.83" width="1.6" height="1.6" fill="#111"/>
<rect x="66.30" y="183.78" width="1.6" height="1.6" fill="#111"/>
<rect x="41.10" y="205.15" width="1.6" height="1.6" fill="#111"/>
<rect x="66.30" y="187.40" width="1.6" height="1.6" fill="#111"/>
<rect x="41.10" y="212.98" width="1.6" height="1.6" fill="#111"/>
<rect x="66.30" y="200.82" width="1.6" height="1.6" fill="#111"/>
<rect x="41.10" y="195.32" width="1.6" height="1.6" fill="#111"/>
<rect x="66.30" y="180.17" width="1.6" height="1.6" fill="#111"/>
<rect x="41.10" y="194.35" width="1.6" height="1.6" fill="#111"/>
<rect x="66.30" y="182.59" width="1.6" height="1.6" fill="#111"/>
<rect x="41.10" y="218.39" width="1.6" height="1.6" fill="#111"/>
<rect x="66.30" y="201.79" width="1.6" height="1.6" fill="#111"/>
<rect x="41.10" y="205.46" width="1.6" height="1.6" fill="#111"/>
<rect x="66.30" y="194.17" width="1.6" height="1.6" fill="#111"/>
<rect x="41.10" y="204.29" width="1.6" height="1.6" fill="#111"/>
<rect x="66.30" y="191.09" width="1.6" height="1.6" fill="#111"/>
<rect x="41.10" y="218.91" width="1.6" height="1.6" fill="#111"/>
<rect x="66.30" y="210.96" width="1.6" height="1.6" fill="#111"/>
<rect x="41.10" y="192.33" width="1.6" height="1.6" fill="#111"/>
<rect x="66.30" y="180.31" width="1.6" height="1.6" fill="#111"/>
<rect x="41.10" y="213.39" width="1.6" height="1.6" fill="#111"/>
<rect x="66.30" y="197.17" width="1.6" height="1.6" fill="#111"/>
<rect x="41.10" y="219.09" width="1.6" height="1.6" fill="#111"/>
<rect x="66.30" y="209.36" width="1.6" height="1.6" fill="#111"/>
<rect x="41.10" y="217.24" width="1.6" height="1.6" fill="#111"/>
<rect x="66.30" y="204.01" width="1.6" height="1.6" fill="#111"/>
<rect x="41.10" y="216.00" width="1.6" height="1.6" fill="#111"/>
<rect x="66.30" y="204.13" width="1.6" height="1.6" fill="#111"/>
<rect x="41.10" y="198.05" width="1.6" height="1.6" fill="#111"/>
<rect x="66.30" y="187.17" width="1.6" height="1.6" fill="#111"/>
<rect x="41.10" y="218.98" width="1.6" height="1.6" fill="#111"/>
<rect x="66.30" y="209.05" width="1.6" height="1.6" fill="#111"/>
<rect x="41.10" y="217.25" width="1.6" height="1.6" fill="#111"/>
<rect x="66.30" y="200.24" width="1.6" height="1.6" fill="#111"/>
<rect x="41.10" y="201.92" width="1.6" height="1.6" fill="#111"/>
<rect x="66.30" y="186.05" width="1.6" height="1.6" fill="#111"/>
<rect x="41.10" y="216.34" width="1.6" height="1.6" fill="#111"/>
<rect x="66.30" y="201.82" width="1.6" height="1.6" fill="#111"/>
<rect x="41.10" y="199.28" width="1.6" height="1.6" fill="#111"/>
<rect x="66.30" y="187.17" width="1.6" height="1.6" fill="#111"/>
<text x="128.70" y="170.50" font-size="6.3" text-anchor="middle" stroke="#1c1c1c" stroke-width="0.12" >Similar avidity (<tspan font-style="italic">n</tspan> = 5)</text>
<line x1="106.50" y1="174.00" x2="106.50" y2="227.00" stroke="#222" stroke-width="1.0" />
<line x1="106.50" y1="226.50" x2="151.00" y2="226.50" stroke="#222" stroke-width="1.0" />
<line x1="104.90" y1="216.00" x2="106.50" y2="216.00" stroke="#222" stroke-width="0.7" />
<text x="104.20" y="217.91" font-size="5.3" text-anchor="end" stroke="#1c1c1c" stroke-width="0.08" >1</text>
<line x1="104.90" y1="197.60" x2="106.50" y2="197.60" stroke="#222" stroke-width="0.7" />
<text x="104.20" y="199.51" font-size="5.3" text-anchor="end" stroke="#1c1c1c" stroke-width="0.08" >10</text>
<line x1="104.90" y1="179.20" x2="106.50" y2="179.20" stroke="#222" stroke-width="0.7" />
<text x="104.20" y="181.11" font-size="5.3" text-anchor="end" stroke="#1c1c1c" stroke-width="0.08" >100</text>
<line x1="115.90" y1="226.50" x2="115.90" y2="228.10" stroke="#222" stroke-width="0.7" />
<line x1="141.10" y1="226.50" x2="141.10" y2="228.10" stroke="#222" stroke-width="0.7" />
<text x="118.10" y="232.10" font-size="5.7" text-anchor="end" transform="rotate(-36 118.10 232.10)" stroke="#1c1c1c" stroke-width="0.12" >II_GBM_12_0</text>
<text x="143.30" y="232.10" font-size="5.7" text-anchor="end" transform="rotate(-36 143.30 232.10)" stroke="#1c1c1c" stroke-width="0.12" >(#)II_GBM_12_1</text>
<text x="91.90" y="198.75" font-size="5.6" text-anchor="middle" transform="rotate(-90 91.90 198.75)" stroke="#1c1c1c" stroke-width="0.12" >SI (proliferation)</text>
<line x1="106.50" y1="210.46" x2="153.00" y2="210.46" stroke="#e0383c" stroke-width="0.75" stroke-dasharray="1.5,1.1"/>
<rect x="112.90" y="178.00" width="6.00" height="35.50" fill="none" stroke="#4a63b4" stroke-width="0.8" />
<rect x="138.10" y="178.00" width="6.00" height="35.50" fill="none" stroke="#e0383c" stroke-width="0.8" />
<line x1="115.90" y1="180.59" x2="141.10" y2="181.94" stroke="#111" stroke-width="0.55" />
<line x1="115.90" y1="186.32" x2="141.10" y2="186.32" stroke="#111" stroke-width="0.55" />
<line x1="115.90" y1="188.06" x2="141.10" y2="189.37" stroke="#111" stroke-width="0.55" />
<line x1="115.90" y1="199.09" x2="141.10" y2="197.29" stroke="#111" stroke-width="0.55" />
<line x1="115.90" y1="210.22" x2="141.10" y2="209.92" stroke="#111" stroke-width="0.55" />
<rect x="115.10" y="179.79" width="1.6" height="1.6" fill="#111"/>
<rect x="140.30" y="181.14" width="1.6" height="1.6" fill="#111"/>
<rect x="115.10" y="185.52" width="1.6" height="1.6" fill="#111"/>
<rect x="140.30" y="185.52" width="1.6" height="1.6" fill="#111"/>
<rect x="115.10" y="187.26" width="1.6" height="1.6" fill="#111"/>
<rect x="140.30" y="188.57" width="1.6" height="1.6" fill="#111"/>
<rect x="115.10" y="198.29" width="1.6" height="1.6" fill="#111"/>
<rect x="140.30" y="196.49" width="1.6" height="1.6" fill="#111"/>
<rect x="115.10" y="209.42" width="1.6" height="1.6" fill="#111"/>
<rect x="140.30" y="209.12" width="1.6" height="1.6" fill="#111"/>
<text x="203.20" y="170.50" font-size="6.3" text-anchor="middle" stroke="#1c1c1c" stroke-width="0.12" >Higher avidity (<tspan font-style="italic">n</tspan> = 16)</text>
<line x1="181.50" y1="174.00" x2="181.50" y2="227.00" stroke="#222" stroke-width="1.0" />
<line x1="181.50" y1="226.50" x2="226.00" y2="226.50" stroke="#222" stroke-width="1.0" />
<line x1="179.90" y1="216.00" x2="181.50" y2="216.00" stroke="#222" stroke-width="0.7" />
<text x="179.20" y="217.91" font-size="5.3" text-anchor="end" stroke="#1c1c1c" stroke-width="0.08" >1</text>
<line x1="179.90" y1="197.60" x2="181.50" y2="197.60" stroke="#222" stroke-width="0.7" />
<text x="179.20" y="199.51" font-size="5.3" text-anchor="end" stroke="#1c1c1c" stroke-width="0.08" >10</text>
<line x1="179.90" y1="179.20" x2="181.50" y2="179.20" stroke="#222" stroke-width="0.7" />
<text x="179.20" y="181.11" font-size="5.3" text-anchor="end" stroke="#1c1c1c" stroke-width="0.08" >100</text>
<line x1="190.90" y1="226.50" x2="190.90" y2="228.10" stroke="#222" stroke-width="0.7" />
<line x1="216.10" y1="226.50" x2="216.10" y2="228.10" stroke="#222" stroke-width="0.7" />
<text x="193.10" y="232.10" font-size="5.7" text-anchor="end" transform="rotate(-36 193.10 232.10)" stroke="#1c1c1c" stroke-width="0.12" >II_GBM_12_0</text>
<text x="218.30" y="232.10" font-size="5.7" text-anchor="end" transform="rotate(-36 218.30 232.10)" stroke="#1c1c1c" stroke-width="0.12" >(#)II_GBM_12_1</text>
<text x="166.90" y="198.75" font-size="5.6" text-anchor="middle" transform="rotate(-90 166.90 198.75)" stroke="#1c1c1c" stroke-width="0.12" >SI (proliferation)</text>
<line x1="181.50" y1="210.46" x2="228.00" y2="210.46" stroke="#e0383c" stroke-width="0.75" stroke-dasharray="1.5,1.1"/>
<rect x="187.90" y="177.10" width="6.00" height="28.10" fill="none" stroke="#4a63b4" stroke-width="0.8" />
<rect x="213.10" y="181.40" width="6.00" height="27.20" fill="none" stroke="#e0383c" stroke-width="0.8" />
<line x1="190.90" y1="180.04" x2="216.10" y2="182.05" stroke="#111" stroke-width="0.55" />
<line x1="190.90" y1="184.74" x2="216.10" y2="187.59" stroke="#111" stroke-width="0.55" />
<line x1="190.90" y1="185.58" x2="216.10" y2="188.82" stroke="#111" stroke-width="0.55" />
<line x1="190.90" y1="186.13" x2="216.10" y2="192.06" stroke="#111" stroke-width="0.55" />
<line x1="190.90" y1="186.52" x2="216.10" y2="190.28" stroke="#111" stroke-width="0.55" />
<line x1="190.90" y1="186.93" x2="216.10" y2="192.90" stroke="#111" stroke-width="0.55" />
<line x1="190.90" y1="187.59" x2="216.10" y2="193.84" stroke="#111" stroke-width="0.55" />
<line x1="190.90" y1="188.06" x2="216.10" y2="192.06" stroke="#111" stroke-width="0.55" />
<line x1="190.90" y1="188.82" x2="216.10" y2="194.36" stroke="#111" stroke-width="0.55" />
<line x1="190.90" y1="189.37" x2="216.10" y2="204.92" stroke="#111" stroke-width="0.55" />
<line x1="190.90" y1="190.28" x2="216.10" y2="194.91" stroke="#111" stroke-width="0.55" />
<line x1="190.90" y1="191.30" x2="216.10" y2="196.14" stroke="#111" stroke-width="0.55" />
<line x1="190.90" y1="192.06" x2="216.10" y2="197.60" stroke="#111" stroke-width="0.55" />
<line x1="190.90" y1="192.90" x2="216.10" y2="203.98" stroke="#111" stroke-width="0.55" />
<line x1="190.90" y1="193.84" x2="216.10" y2="205.99" stroke="#111" stroke-width="0.55" />
<line x1="190.90" y1="201.68" x2="216.10" y2="204.92" stroke="#111" stroke-width="0.55" />
<rect x="190.10" y="179.24" width="1.6" height="1.6" fill="#111"/>
<rect x="215.30" y="181.25" width="1.6" height="1.6" fill="#111"/>
<rect x="190.10" y="183.94" width="1.6" height="1.6" fill="#111"/>
<rect x="215.30" y="186.79" width="1.6" height="1.6" fill="#111"/>
<rect x="190.10" y="184.78" width="1.6" height="1.6" fill="#111"/>
<rect x="215.30" y="188.02" width="1.6" height="1.6" fill="#111"/>
<rect x="190.10" y="185.33" width="1.6" height="1.6" fill="#111"/>
<rect x="215.30" y="191.26" width="1.6" height="1.6" fill="#111"/>
<rect x="190.10" y="185.72" width="1.6" height="1.6" fill="#111"/>
<rect x="215.30" y="189.48" width="1.6" height="1.6" fill="#111"/>
<rect x="190.10" y="186.13" width="1.6" height="1.6" fill="#111"/>
<rect x="215.30" y="192.10" width="1.6" height="1.6" fill="#111"/>
<rect x="190.10" y="186.79" width="1.6" height="1.6" fill="#111"/>
<rect x="215.30" y="193.04" width="1.6" height="1.6" fill="#111"/>
<rect x="190.10" y="187.26" width="1.6" height="1.6" fill="#111"/>
<rect x="215.30" y="191.26" width="1.6" height="1.6" fill="#111"/>
<rect x="190.10" y="188.02" width="1.6" height="1.6" fill="#111"/>
<rect x="215.30" y="193.56" width="1.6" height="1.6" fill="#111"/>
<rect x="190.10" y="188.57" width="1.6" height="1.6" fill="#111"/>
<rect x="215.30" y="204.12" width="1.6" height="1.6" fill="#111"/>
<rect x="190.10" y="189.48" width="1.6" height="1.6" fill="#111"/>
<rect x="215.30" y="194.11" width="1.6" height="1.6" fill="#111"/>
<rect x="190.10" y="190.50" width="1.6" height="1.6" fill="#111"/>
<rect x="215.30" y="195.34" width="1.6" height="1.6" fill="#111"/>
<rect x="190.10" y="191.26" width="1.6" height="1.6" fill="#111"/>
<rect x="215.30" y="196.80" width="1.6" height="1.6" fill="#111"/>
<rect x="190.10" y="192.10" width="1.6" height="1.6" fill="#111"/>
<rect x="215.30" y="203.18" width="1.6" height="1.6" fill="#111"/>
<rect x="190.10" y="193.04" width="1.6" height="1.6" fill="#111"/>
<rect x="215.30" y="205.19" width="1.6" height="1.6" fill="#111"/>
<rect x="190.10" y="200.88" width="1.6" height="1.6" fill="#111"/>
<rect x="215.30" y="204.12" width="1.6" height="1.6" fill="#111"/>
<text x="124.70" y="271.40" font-size="6.3" text-anchor="middle" stroke="#1c1c1c" stroke-width="0.12" >(#)II_GBM_14_1-specific TCCs</text>
<text x="54.60" y="284.00" font-size="6.3" text-anchor="middle" stroke="#1c1c1c" stroke-width="0.12" >Lower avidity (<tspan font-style="italic">n</tspan> = 38)</text>
<line x1="32.50" y1="287.00" x2="32.50" y2="340.00" stroke="#222" stroke-width="1.0" />
<line x1="32.50" y1="339.50" x2="77.00" y2="339.50" stroke="#222" stroke-width="1.0" />
<line x1="30.90" y1="330.30" x2="32.50" y2="330.30" stroke="#222" stroke-width="0.7" />
<text x="30.20" y="332.21" font-size="5.3" text-anchor="end" stroke="#1c1c1c" stroke-width="0.08" >1</text>
<line x1="30.90" y1="311.40" x2="32.50" y2="311.40" stroke="#222" stroke-width="0.7" />
<text x="30.20" y="313.31" font-size="5.3" text-anchor="end" stroke="#1c1c1c" stroke-width="0.08" >10</text>
<line x1="30.90" y1="292.50" x2="32.50" y2="292.50" stroke="#222" stroke-width="0.7" />
<text x="30.20" y="294.41" font-size="5.3" text-anchor="end" stroke="#1c1c1c" stroke-width="0.08" >100</text>
<line x1="41.90" y1="339.50" x2="41.90" y2="341.10" stroke="#222" stroke-width="0.7" />
<line x1="67.10" y1="339.50" x2="67.10" y2="341.10" stroke="#222" stroke-width="0.7" />
<text x="44.10" y="345.10" font-size="5.7" text-anchor="end" transform="rotate(-36 44.10 345.10)" stroke="#1c1c1c" stroke-width="0.12" >II_GBM_14_0</text>
<text x="69.30" y="345.10" font-size="5.7" text-anchor="end" transform="rotate(-36 69.30 345.10)" stroke="#1c1c1c" stroke-width="0.12" >(#)II_GBM_14_1</text>
<text x="17.90" y="311.75" font-size="5.6" text-anchor="middle" transform="rotate(-90 17.90 311.75)" stroke="#1c1c1c" stroke-width="0.12" >SI (proliferation)</text>
<line x1="32.50" y1="324.61" x2="79.00" y2="324.61" stroke="#e0383c" stroke-width="0.75" stroke-dasharray="1.5,1.1"/>
<rect x="38.90" y="291.30" width="6.00" height="42.40" fill="none" stroke="#4a63b4" stroke-width="0.8" />
<rect x="64.10" y="286.20" width="6.00" height="41.50" fill="none" stroke="#e0383c" stroke-width="0.8" />
<line x1="41.90" y1="295.15" x2="67.10" y2="290.51" stroke="#111" stroke-width="0.55" />
<line x1="41.90" y1="301.09" x2="67.10" y2="290.93" stroke="#111" stroke-width="0.55" />
<line x1="41.90" y1="311.69" x2="67.10" y2="296.44" stroke="#111" stroke-width="0.55" />
<line x1="41.90" y1="319.02" x2="67.10" y2="307.80" stroke="#111" stroke-width="0.55" />
<line x1="41.90" y1="295.48" x2="67.10" y2="290.85" stroke="#111" stroke-width="0.55" />
<line x1="41.90" y1="331.61" x2="67.10" y2="323.29" stroke="#111" stroke-width="0.55" />
<line x1="41.90" y1="320.98" x2="67.10" y2="300.35" stroke="#111" stroke-width="0.55" />
<line x1="41.90" y1="326.13" x2="67.10" y2="321.90" stroke="#111" stroke-width="0.55" />
<line x1="41.90" y1="315.78" x2="67.10" y2="293.13" stroke="#111" stroke-width="0.55" />
<line x1="41.90" y1="298.26" x2="67.10" y2="292.06" stroke="#111" stroke-width="0.55" />
<line x1="41.90" y1="304.55" x2="67.10" y2="292.20" stroke="#111" stroke-width="0.55" />
<line x1="41.90" y1="294.85" x2="67.10" y2="291.70" stroke="#111" stroke-width="0.55" />
<line x1="41.90" y1="317.79" x2="67.10" y2="303.98" stroke="#111" stroke-width="0.55" />
<line x1="41.90" y1="316.17" x2="67.10" y2="296.68" stroke="#111" stroke-width="0.55" />
<line x1="41.90" y1="297.95" x2="67.10" y2="292.09" stroke="#111" stroke-width="0.55" />
<line x1="41.90" y1="306.38" x2="67.10" y2="293.40" stroke="#111" stroke-width="0.55" />
<line x1="41.90" y1="307.49" x2="67.10" y2="300.57" stroke="#111" stroke-width="0.55" />
<line x1="41.90" y1="297.38" x2="67.10" y2="291.68" stroke="#111" stroke-width="0.55" />
<line x1="41.90" y1="316.03" x2="67.10" y2="302.47" stroke="#111" stroke-width="0.55" />
<line x1="41.90" y1="323.51" x2="67.10" y2="315.80" stroke="#111" stroke-width="0.55" />
<line x1="41.90" y1="310.92" x2="67.10" y2="305.72" stroke="#111" stroke-width="0.55" />
<line x1="41.90" y1="297.56" x2="67.10" y2="290.46" stroke="#111" stroke-width="0.55" />
<line x1="41.90" y1="309.60" x2="67.10" y2="300.66" stroke="#111" stroke-width="0.55" />
<line x1="41.90" y1="330.00" x2="67.10" y2="316.35" stroke="#111" stroke-width="0.55" />
<line x1="41.90" y1="326.96" x2="67.10" y2="306.54" stroke="#111" stroke-width="0.55" />
<line x1="41.90" y1="331.69" x2="67.10" y2="321.06" stroke="#111" stroke-width="0.55" />
<line x1="41.90" y1="330.59" x2="67.10" y2="308.77" stroke="#111" stroke-width="0.55" />
<line x1="41.90" y1="331.87" x2="67.10" y2="322.30" stroke="#111" stroke-width="0.55" />
<line x1="41.90" y1="327.80" x2="67.10" y2="310.95" stroke="#111" stroke-width="0.55" />
<line x1="41.90" y1="293.43" x2="67.10" y2="291.00" stroke="#111" stroke-width="0.55" />
<line x1="41.90" y1="311.28" x2="67.10" y2="293.47" stroke="#111" stroke-width="0.55" />
<line x1="41.90" y1="331.71" x2="67.10" y2="319.45" stroke="#111" stroke-width="0.55" />
<line x1="41.90" y1="297.84" x2="67.10" y2="291.68" stroke="#111" stroke-width="0.55" />
<line x1="41.90" y1="317.32" x2="67.10" y2="309.28" stroke="#111" stroke-width="0.55" />
<line x1="41.90" y1="330.11" x2="67.10" y2="317.87" stroke="#111" stroke-width="0.55" />
<line x1="41.90" y1="312.60" x2="67.10" y2="301.40" stroke="#111" stroke-width="0.55" />
<line x1="41.90" y1="294.96" x2="67.10" y2="291.14" stroke="#111" stroke-width="0.55" />
<line x1="41.90" y1="331.92" x2="67.10" y2="317.59" stroke="#111" stroke-width="0.55" />
<rect x="41.10" y="294.35" width="1.6" height="1.6" fill="#111"/>
<rect x="66.30" y="289.71" width="1.6" height="1.6" fill="#111"/>
<rect x="41.10" y="300.29" width="1.6" height="1.6" fill="#111"/>
<rect x="66.30" y="290.13" width="1.6" height="1.6" fill="#111"/>
<rect x="41.10" y="310.89" width="1.6" height="1.6" fill="#111"/>
<rect x="66.30" y="295.64" width="1.6" height="1.6" fill="#111"/>
<rect x="41.10" y="318.22" width="1.6" height="1.6" fill="#111"/>
<rect x="66.30" y="307.00" width="1.6" height="1.6" fill="#111"/>
<rect x="41.10" y="294.68" width="1.6" height="1.6" fill="#111"/>
<rect x="66.30" y="290.05" width="1.6" height="1.6" fill="#111"/>
<rect x="41.10" y="330.81" width="1.6" height="1.6" fill="#111"/>
<rect x="66.30" y="322.49" width="1.6" height="1.6" fill="#111"/>
<rect x="41.10" y="320.18" width="1.6" height="1.6" fill="#111"/>
<rect x="66.30" y="299.55" width="1.6" height="1.6" fill="#111"/>
<rect x="41.10" y="325.33" width="1.6" height="1.6" fill="#111"/>
<rect x="66.30" y="321.10" width="1.6" height="1.6" fill="#111"/>
<rect x="41.10" y="314.98" width="1.6" height="1.6" fill="#111"/>
<rect x="66.30" y="292.33" width="1.6" height="1.6" fill="#111"/>
<rect x="41.10" y="297.46" width="1.6" height="1.6" fill="#111"/>
<rect x="66.30" y="291.26" width="1.6" height="1.6" fill="#111"/>
<rect x="41.10" y="303.75" width="1.6" height="1.6" fill="#111"/>
<rect x="66.30" y="291.40" width="1.6" height="1.6" fill="#111"/>
<rect x="41.10" y="294.05" width="1.6" height="1.6" fill="#111"/>
<rect x="66.30" y="290.90" width="1.6" height="1.6" fill="#111"/>
<rect x="41.10" y="316.99" width="1.6" height="1.6" fill="#111"/>
<rect x="66.30" y="303.18" width="1.6" height="1.6" fill="#111"/>
<rect x="41.10" y="315.37" width="1.6" height="1.6" fill="#111"/>
<rect x="66.30" y="295.88" width="1.6" height="1.6" fill="#111"/>
<rect x="41.10" y="297.15" width="1.6" height="1.6" fill="#111"/>
<rect x="66.30" y="291.29" width="1.6" height="1.6" fill="#111"/>
<rect x="41.10" y="305.58" width="1.6" height="1.6" fill="#111"/>
<rect x="66.30" y="292.60" width="1.6" height="1.6" fill="#111"/>
<rect x="41.10" y="306.69" width="1.6" height="1.6" fill="#111"/>
<rect x="66.30" y="299.77" width="1.6" height="1.6" fill="#111"/>
<rect x="41.10" y="296.58" width="1.6" height="1.6" fill="#111"/>
<rect x="66.30" y="290.88" width="1.6" height="1.6" fill="#111"/>
<rect x="41.10" y="315.23" width="1.6" height="1.6" fill="#111"/>
<rect x="66.30" y="301.67" width="1.6" height="1.6" fill="#111"/>
<rect x="41.10" y="322.71" width="1.6" height="1.6" fill="#111"/>
<rect x="66.30" y="315.00" width="1.6" height="1.6" fill="#111"/>
<rect x="41.10" y="310.12" width="1.6" height="1.6" fill="#111"/>
<rect x="66.30" y="304.92" width="1.6" height="1.6" fill="#111"/>
<rect x="41.10" y="296.76" width="1.6" height="1.6" fill="#111"/>
<rect x="66.30" y="289.66" width="1.6" height="1.6" fill="#111"/>
<rect x="41.10" y="308.80" width="1.6" height="1.6" fill="#111"/>
<rect x="66.30" y="299.86" width="1.6" height="1.6" fill="#111"/>
<rect x="41.10" y="329.20" width="1.6" height="1.6" fill="#111"/>
<rect x="66.30" y="315.55" width="1.6" height="1.6" fill="#111"/>
<rect x="41.10" y="326.16" width="1.6" height="1.6" fill="#111"/>
<rect x="66.30" y="305.74" width="1.6" height="1.6" fill="#111"/>
<rect x="41.10" y="330.89" width="1.6" height="1.6" fill="#111"/>
<rect x="66.30" y="320.26" width="1.6" height="1.6" fill="#111"/>
<rect x="41.10" y="329.79" width="1.6" height="1.6" fill="#111"/>
<rect x="66.30" y="307.97" width="1.6" height="1.6" fill="#111"/>
<rect x="41.10" y="331.07" width="1.6" height="1.6" fill="#111"/>
<rect x="66.30" y="321.50" width="1.6" height="1.6" fill="#111"/>
<rect x="41.10" y="327.00" width="1.6" height="1.6" fill="#111"/>
<rect x="66.30" y="310.15" width="1.6" height="1.6" fill="#111"/>
<rect x="41.10" y="292.63" width="1.6" height="1.6" fill="#111"/>
<rect x="66.30" y="290.20" width="1.6" height="1.6" fill="#111"/>
<rect x="41.10" y="310.48" width="1.6" height="1.6" fill="#111"/>
<rect x="66.30" y="292.67" width="1.6" height="1.6" fill="#111"/>
<rect x="41.10" y="330.91" width="1.6" height="1.6" fill="#111"/>
<rect x="66.30" y="318.65" width="1.6" height="1.6" fill="#111"/>
<rect x="41.10" y="297.04" width="1.6" height="1.6" fill="#111"/>
<rect x="66.30" y="290.88" width="1.6" height="1.6" fill="#111"/>
<rect x="41.10" y="316.52" width="1.6" height="1.6" fill="#111"/>
<rect x="66.30" y="308.48" width="1.6" height="1.6" fill="#111"/>
<rect x="41.10" y="329.31" width="1.6" height="1.6" fill="#111"/>
<rect x="66.30" y="317.07" width="1.6" height="1.6" fill="#111"/>
<rect x="41.10" y="311.80" width="1.6" height="1.6" fill="#111"/>
<rect x="66.30" y="300.60" width="1.6" height="1.6" fill="#111"/>
<rect x="41.10" y="294.16" width="1.6" height="1.6" fill="#111"/>
<rect x="66.30" y="290.34" width="1.6" height="1.6" fill="#111"/>
<rect x="41.10" y="331.12" width="1.6" height="1.6" fill="#111"/>
<rect x="66.30" y="316.79" width="1.6" height="1.6" fill="#111"/>
<text x="128.70" y="284.00" font-size="6.3" text-anchor="middle" stroke="#1c1c1c" stroke-width="0.12" >Similar avidity (<tspan font-style="italic">n</tspan> = 4)</text>
<line x1="106.50" y1="287.00" x2="106.50" y2="340.00" stroke="#222" stroke-width="1.0" />
<line x1="106.50" y1="339.50" x2="151.00" y2="339.50" stroke="#222" stroke-width="1.0" />
<line x1="104.90" y1="330.30" x2="106.50" y2="330.30" stroke="#222" stroke-width="0.7" />
<text x="104.20" y="332.21" font-size="5.3" text-anchor="end" stroke="#1c1c1c" stroke-width="0.08" >1</text>
<line x1="104.90" y1="311.40" x2="106.50" y2="311.40" stroke="#222" stroke-width="0.7" />
<text x="104.20" y="313.31" font-size="5.3" text-anchor="end" stroke="#1c1c1c" stroke-width="0.08" >10</text>
<line x1="104.90" y1="292.50" x2="106.50" y2="292.50" stroke="#222" stroke-width="0.7" />
<text x="104.20" y="294.41" font-size="5.3" text-anchor="end" stroke="#1c1c1c" stroke-width="0.08" >100</text>
<line x1="115.90" y1="339.50" x2="115.90" y2="341.10" stroke="#222" stroke-width="0.7" />
<line x1="141.10" y1="339.50" x2="141.10" y2="341.10" stroke="#222" stroke-width="0.7" />
<text x="118.10" y="345.10" font-size="5.7" text-anchor="end" transform="rotate(-36 118.10 345.10)" stroke="#1c1c1c" stroke-width="0.12" >II_GBM_14_0</text>
<text x="143.30" y="345.10" font-size="5.7" text-anchor="end" transform="rotate(-36 143.30 345.10)" stroke="#1c1c1c" stroke-width="0.12" >(#)II_GBM_14_1</text>
<text x="91.90" y="311.75" font-size="5.6" text-anchor="middle" transform="rotate(-90 91.90 311.75)" stroke="#1c1c1c" stroke-width="0.12" >SI (proliferation)</text>
<line x1="106.50" y1="324.61" x2="153.00" y2="324.61" stroke="#e0383c" stroke-width="0.75" stroke-dasharray="1.5,1.1"/>
<rect x="112.90" y="291.20" width="6.00" height="27.80" fill="none" stroke="#4a63b4" stroke-width="0.8" />
<rect x="138.10" y="291.20" width="6.00" height="27.20" fill="none" stroke="#e0383c" stroke-width="0.8" />
<line x1="115.90" y1="294.33" x2="141.10" y2="294.33" stroke="#111" stroke-width="0.55" />
<line x1="115.90" y1="302.38" x2="141.10" y2="302.38" stroke="#111" stroke-width="0.55" />
<line x1="115.90" y1="315.59" x2="141.10" y2="314.33" stroke="#111" stroke-width="0.55" />
<line x1="115.90" y1="317.09" x2="141.10" y2="317.95" stroke="#111" stroke-width="0.55" />
<rect x="115.10" y="293.53" width="1.6" height="1.6" fill="#111"/>
<rect x="140.30" y="293.53" width="1.6" height="1.6" fill="#111"/>
<rect x="115.10" y="301.58" width="1.6" height="1.6" fill="#111"/>
<rect x="140.30" y="301.58" width="1.6" height="1.6" fill="#111"/>
<rect x="115.10" y="314.79" width="1.6" height="1.6" fill="#111"/>
<rect x="140.30" y="313.53" width="1.6" height="1.6" fill="#111"/>
<rect x="115.10" y="316.29" width="1.6" height="1.6" fill="#111"/>
<rect x="140.30" y="317.15" width="1.6" height="1.6" fill="#111"/>
<text x="203.20" y="284.00" font-size="6.3" text-anchor="middle" stroke="#1c1c1c" stroke-width="0.12" >Higher avidity (<tspan font-style="italic">n</tspan> = 6)</text>
<line x1="181.50" y1="287.00" x2="181.50" y2="340.00" stroke="#222" stroke-width="1.0" />
<line x1="181.50" y1="339.50" x2="226.00" y2="339.50" stroke="#222" stroke-width="1.0" />
<line x1="179.90" y1="330.30" x2="181.50" y2="330.30" stroke="#222" stroke-width="0.7" />
<text x="179.20" y="332.21" font-size="5.3" text-anchor="end" stroke="#1c1c1c" stroke-width="0.08" >1</text>
<line x1="179.90" y1="311.40" x2="181.50" y2="311.40" stroke="#222" stroke-width="0.7" />
<text x="179.20" y="313.31" font-size="5.3" text-anchor="end" stroke="#1c1c1c" stroke-width="0.08" >10</text>
<line x1="179.90" y1="292.50" x2="181.50" y2="292.50" stroke="#222" stroke-width="0.7" />
<text x="179.20" y="294.41" font-size="5.3" text-anchor="end" stroke="#1c1c1c" stroke-width="0.08" >100</text>
<line x1="190.90" y1="339.50" x2="190.90" y2="341.10" stroke="#222" stroke-width="0.7" />
<line x1="216.10" y1="339.50" x2="216.10" y2="341.10" stroke="#222" stroke-width="0.7" />
<text x="193.10" y="345.10" font-size="5.7" text-anchor="end" transform="rotate(-36 193.10 345.10)" stroke="#1c1c1c" stroke-width="0.12" >II_GBM_14_0</text>
<text x="218.30" y="345.10" font-size="5.7" text-anchor="end" transform="rotate(-36 218.30 345.10)" stroke="#1c1c1c" stroke-width="0.12" >(#)II_GBM_14_1</text>
<text x="166.90" y="311.75" font-size="5.6" text-anchor="middle" transform="rotate(-90 166.90 311.75)" stroke="#1c1c1c" stroke-width="0.12" >SI (proliferation)</text>
<line x1="181.50" y1="324.61" x2="228.00" y2="324.61" stroke="#e0383c" stroke-width="0.75" stroke-dasharray="1.5,1.1"/>
<rect x="187.90" y="293.50" width="6.00" height="28.10" fill="none" stroke="#4a63b4" stroke-width="0.8" />
<rect x="213.10" y="298.80" width="6.00" height="27.40" fill="none" stroke="#e0383c" stroke-width="0.8" />
<line x1="190.90" y1="301.12" x2="216.10" y2="302.38" stroke="#111" stroke-width="0.55" />
<line x1="190.90" y1="309.90" x2="216.10" y2="320.75" stroke="#111" stroke-width="0.55" />
<line x1="190.90" y1="311.40" x2="216.10" y2="321.56" stroke="#111" stroke-width="0.55" />
<line x1="190.90" y1="313.23" x2="216.10" y2="322.15" stroke="#111" stroke-width="0.55" />
<line x1="190.90" y1="315.59" x2="216.10" y2="322.78" stroke="#111" stroke-width="0.55" />
<line x1="190.90" y1="314.33" x2="216.10" y2="323.11" stroke="#111" stroke-width="0.55" />
<rect x="190.10" y="300.32" width="1.6" height="1.6" fill="#111"/>
<rect x="215.30" y="301.58" width="1.6" height="1.6" fill="#111"/>
<rect x="190.10" y="309.10" width="1.6" height="1.6" fill="#111"/>
<rect x="215.30" y="319.95" width="1.6" height="1.6" fill="#111"/>
<rect x="190.10" y="310.60" width="1.6" height="1.6" fill="#111"/>
<rect x="215.30" y="320.76" width="1.6" height="1.6" fill="#111"/>
<rect x="190.10" y="312.43" width="1.6" height="1.6" fill="#111"/>
<rect x="215.30" y="321.35" width="1.6" height="1.6" fill="#111"/>
<rect x="190.10" y="314.79" width="1.6" height="1.6" fill="#111"/>
<rect x="215.30" y="321.98" width="1.6" height="1.6" fill="#111"/>
<rect x="190.10" y="313.53" width="1.6" height="1.6" fill="#111"/>
<rect x="215.30" y="322.31" width="1.6" height="1.6" fill="#111"/>
<text x="124.70" y="384.20" font-size="6.3" text-anchor="middle" stroke="#1c1c1c" stroke-width="0.12" >(#)II_GBM_24_1-specific TCCs</text>
<text x="54.60" y="396.00" font-size="6.3" text-anchor="middle" stroke="#1c1c1c" stroke-width="0.12" >Lower avidity (<tspan font-style="italic">n</tspan> = 24)</text>
<line x1="32.50" y1="399.40" x2="32.50" y2="452.00" stroke="#222" stroke-width="1.0" />
<line x1="32.50" y1="451.50" x2="77.00" y2="451.50" stroke="#222" stroke-width="1.0" />
<line x1="30.90" y1="442.30" x2="32.50" y2="442.30" stroke="#222" stroke-width="0.7" />
<text x="30.20" y="444.21" font-size="5.3" text-anchor="end" stroke="#1c1c1c" stroke-width="0.08" >1</text>
<line x1="30.90" y1="423.40" x2="32.50" y2="423.40" stroke="#222" stroke-width="0.7" />
<text x="30.20" y="425.31" font-size="5.3" text-anchor="end" stroke="#1c1c1c" stroke-width="0.08" >10</text>
<line x1="30.90" y1="404.50" x2="32.50" y2="404.50" stroke="#222" stroke-width="0.7" />
<text x="30.20" y="406.41" font-size="5.3" text-anchor="end" stroke="#1c1c1c" stroke-width="0.08" >100</text>
<line x1="41.90" y1="451.50" x2="41.90" y2="453.10" stroke="#222" stroke-width="0.7" />
<line x1="67.10" y1="451.50" x2="67.10" y2="453.10" stroke="#222" stroke-width="0.7" />
<text x="44.10" y="457.10" font-size="5.7" text-anchor="end" transform="rotate(-36 44.10 457.10)" stroke="#1c1c1c" stroke-width="0.12" >II_GBM_24_0</text>
<text x="69.30" y="457.10" font-size="5.7" text-anchor="end" transform="rotate(-36 69.30 457.10)" stroke="#1c1c1c" stroke-width="0.12" >(#)II_GBM_24_1</text>
<text x="17.90" y="423.95" font-size="5.6" text-anchor="middle" transform="rotate(-90 17.90 423.95)" stroke="#1c1c1c" stroke-width="0.12" >SI (proliferation)</text>
<line x1="32.50" y1="436.61" x2="79.00" y2="436.61" stroke="#e0383c" stroke-width="0.75" stroke-dasharray="1.5,1.1"/>
<rect x="38.90" y="424.00" width="6.00" height="25.60" fill="none" stroke="#4a63b4" stroke-width="0.8" />
<rect x="64.10" y="403.70" width="6.00" height="35.90" fill="none" stroke="#e0383c" stroke-width="0.8" />
<line x1="41.90" y1="430.92" x2="67.10" y2="408.04" stroke="#111" stroke-width="0.55" />
<line x1="41.90" y1="432.75" x2="67.10" y2="414.95" stroke="#111" stroke-width="0.55" />
<line x1="41.90" y1="434.78" x2="67.10" y2="421.90" stroke="#111" stroke-width="0.55" />
<line x1="41.90" y1="436.61" x2="67.10" y2="429.09" stroke="#111" stroke-width="0.55" />
<line x1="41.90" y1="437.48" x2="67.10" y2="423.40" stroke="#111" stroke-width="0.55" />
<line x1="41.90" y1="438.44" x2="67.10" y2="424.26" stroke="#111" stroke-width="0.55" />
<line x1="41.90" y1="438.97" x2="67.10" y2="425.23" stroke="#111" stroke-width="0.55" />
<line x1="41.90" y1="439.54" x2="67.10" y2="425.76" stroke="#111" stroke-width="0.55" />
<line x1="41.90" y1="440.15" x2="67.10" y2="430.92" stroke="#111" stroke-width="0.55" />
<line x1="41.90" y1="440.80" x2="67.10" y2="426.33" stroke="#111" stroke-width="0.55" />
<line x1="41.90" y1="440.80" x2="67.10" y2="426.94" stroke="#111" stroke-width="0.55" />
<line x1="41.90" y1="441.52" x2="67.10" y2="427.59" stroke="#111" stroke-width="0.55" />
<line x1="41.90" y1="441.52" x2="67.10" y2="428.31" stroke="#111" stroke-width="0.55" />
<line x1="41.90" y1="442.30" x2="67.10" y2="429.09" stroke="#111" stroke-width="0.55" />
<line x1="41.90" y1="442.30" x2="67.10" y2="432.02" stroke="#111" stroke-width="0.55" />
<line x1="41.90" y1="442.72" x2="67.10" y2="429.09" stroke="#111" stroke-width="0.55" />
<line x1="41.90" y1="443.16" x2="67.10" y2="429.95" stroke="#111" stroke-width="0.55" />
<line x1="41.90" y1="443.16" x2="67.10" y2="429.95" stroke="#111" stroke-width="0.55" />
<line x1="41.90" y1="443.63" x2="67.10" y2="430.92" stroke="#111" stroke-width="0.55" />
<line x1="41.90" y1="444.13" x2="67.10" y2="433.28" stroke="#111" stroke-width="0.55" />
<line x1="41.90" y1="444.13" x2="67.10" y2="432.02" stroke="#111" stroke-width="0.55" />
<line x1="41.90" y1="444.66" x2="67.10" y2="434.15" stroke="#111" stroke-width="0.55" />
<line x1="41.90" y1="445.23" x2="67.10" y2="434.78" stroke="#111" stroke-width="0.55" />
<line x1="41.90" y1="445.23" x2="67.10" y2="435.83" stroke="#111" stroke-width="0.55" />
<rect x="41.10" y="430.12" width="1.6" height="1.6" fill="#111"/>
<rect x="66.30" y="407.24" width="1.6" height="1.6" fill="#111"/>
<rect x="41.10" y="431.95" width="1.6" height="1.6" fill="#111"/>
<rect x="66.30" y="414.15" width="1.6" height="1.6" fill="#111"/>
<rect x="41.10" y="433.98" width="1.6" height="1.6" fill="#111"/>
<rect x="66.30" y="421.10" width="1.6" height="1.6" fill="#111"/>
<rect x="41.10" y="435.81" width="1.6" height="1.6" fill="#111"/>
<rect x="66.30" y="428.29" width="1.6" height="1.6" fill="#111"/>
<rect x="41.10" y="436.68" width="1.6" height="1.6" fill="#111"/>
<rect x="66.30" y="422.60" width="1.6" height="1.6" fill="#111"/>
<rect x="41.10" y="437.64" width="1.6" height="1.6" fill="#111"/>
<rect x="66.30" y="423.46" width="1.6" height="1.6" fill="#111"/>
<rect x="41.10" y="438.17" width="1.6" height="1.6" fill="#111"/>
<rect x="66.30" y="424.43" width="1.6" height="1.6" fill="#111"/>
<rect x="41.10" y="438.74" width="1.6" height="1.6" fill="#111"/>
<rect x="66.30" y="424.96" width="1.6" height="1.6" fill="#111"/>
<rect x="41.10" y="439.35" width="1.6" height="1.6" fill="#111"/>
<rect x="66.30" y="430.12" width="1.6" height="1.6" fill="#111"/>
<rect x="41.10" y="440.00" width="1.6" height="1.6" fill="#111"/>
<rect x="66.30" y="425.53" width="1.6" height="1.6" fill="#111"/>
<rect x="41.10" y="440.00" width="1.6" height="1.6" fill="#111"/>
<rect x="66.30" y="426.14" width="1.6" height="1.6" fill="#111"/>
<rect x="41.10" y="440.72" width="1.6" height="1.6" fill="#111"/>
<rect x="66.30" y="426.79" width="1.6" height="1.6" fill="#111"/>
<rect x="41.10" y="440.72" width="1.6" height="1.6" fill="#111"/>
<rect x="66.30" y="427.51" width="1.6" height="1.6" fill="#111"/>
<rect x="41.10" y="441.50" width="1.6" height="1.6" fill="#111"/>
<rect x="66.30" y="428.29" width="1.6" height="1.6" fill="#111"/>
<rect x="41.10" y="441.50" width="1.6" height="1.6" fill="#111"/>
<rect x="66.30" y="431.22" width="1.6" height="1.6" fill="#111"/>
<rect x="41.10" y="441.92" width="1.6" height="1.6" fill="#111"/>
<rect x="66.30" y="428.29" width="1.6" height="1.6" fill="#111"/>
<rect x="41.10" y="442.36" width="1.6" height="1.6" fill="#111"/>
<rect x="66.30" y="429.15" width="1.6" height="1.6" fill="#111"/>
<rect x="41.10" y="442.36" width="1.6" height="1.6" fill="#111"/>
<rect x="66.30" y="429.15" width="1.6" height="1.6" fill="#111"/>
<rect x="41.10" y="442.83" width="1.6" height="1.6" fill="#111"/>
<rect x="66.30" y="430.12" width="1.6" height="1.6" fill="#111"/>
<rect x="41.10" y="443.33" width="1.6" height="1.6" fill="#111"/>
<rect x="66.30" y="432.48" width="1.6" height="1.6" fill="#111"/>
<rect x="41.10" y="443.33" width="1.6" height="1.6" fill="#111"/>
<rect x="66.30" y="431.22" width="1.6" height="1.6" fill="#111"/>
<rect x="41.10" y="443.86" width="1.6" height="1.6" fill="#111"/>
<rect x="66.30" y="433.35" width="1.6" height="1.6" fill="#111"/>
<rect x="41.10" y="444.43" width="1.6" height="1.6" fill="#111"/>
<rect x="66.30" y="433.98" width="1.6" height="1.6" fill="#111"/>
<rect x="41.10" y="444.43" width="1.6" height="1.6" fill="#111"/>
<rect x="66.30" y="435.03" width="1.6" height="1.6" fill="#111"/>
<text x="128.70" y="396.00" font-size="6.3" text-anchor="middle" stroke="#1c1c1c" stroke-width="0.12" >Similar avidity (<tspan font-style="italic">n</tspan> = 5)</text>
<line x1="106.50" y1="399.40" x2="106.50" y2="452.00" stroke="#222" stroke-width="1.0" />
<line x1="106.50" y1="451.50" x2="151.00" y2="451.50" stroke="#222" stroke-width="1.0" />
<line x1="104.90" y1="442.30" x2="106.50" y2="442.30" stroke="#222" stroke-width="0.7" />
<text x="104.20" y="444.21" font-size="5.3" text-anchor="end" stroke="#1c1c1c" stroke-width="0.08" >1</text>
<line x1="104.90" y1="423.40" x2="106.50" y2="423.40" stroke="#222" stroke-width="0.7" />
<text x="104.20" y="425.31" font-size="5.3" text-anchor="end" stroke="#1c1c1c" stroke-width="0.08" >10</text>
<line x1="104.90" y1="404.50" x2="106.50" y2="404.50" stroke="#222" stroke-width="0.7" />
<text x="104.20" y="406.41" font-size="5.3" text-anchor="end" stroke="#1c1c1c" stroke-width="0.08" >100</text>
<line x1="115.90" y1="451.50" x2="115.90" y2="453.10" stroke="#222" stroke-width="0.7" />
<line x1="141.10" y1="451.50" x2="141.10" y2="453.10" stroke="#222" stroke-width="0.7" />
<text x="118.10" y="457.10" font-size="5.7" text-anchor="end" transform="rotate(-36 118.10 457.10)" stroke="#1c1c1c" stroke-width="0.12" >II_GBM_24_0</text>
<text x="143.30" y="457.10" font-size="5.7" text-anchor="end" transform="rotate(-36 143.30 457.10)" stroke="#1c1c1c" stroke-width="0.12" >(#)II_GBM_24_1</text>
<text x="91.90" y="423.95" font-size="5.6" text-anchor="middle" transform="rotate(-90 91.90 423.95)" stroke="#1c1c1c" stroke-width="0.12" >SI (proliferation)</text>
<line x1="106.50" y1="436.61" x2="153.00" y2="436.61" stroke="#e0383c" stroke-width="0.75" stroke-dasharray="1.5,1.1"/>
<rect x="112.90" y="401.30" width="6.00" height="34.40" fill="none" stroke="#4a63b4" stroke-width="0.8" />
<rect x="138.10" y="400.70" width="6.00" height="35.00" fill="none" stroke="#e0383c" stroke-width="0.8" />
<line x1="115.90" y1="404.50" x2="141.10" y2="403.00" stroke="#111" stroke-width="0.55" />
<line x1="115.90" y1="416.56" x2="141.10" y2="414.38" stroke="#111" stroke-width="0.55" />
<line x1="115.90" y1="422.62" x2="141.10" y2="419.04" stroke="#111" stroke-width="0.55" />
<line x1="115.90" y1="426.33" x2="141.10" y2="422.62" stroke="#111" stroke-width="0.55" />
<line x1="115.90" y1="433.28" x2="141.10" y2="433.28" stroke="#111" stroke-width="0.55" />
<rect x="115.10" y="403.70" width="1.6" height="1.6" fill="#111"/>
<rect x="140.30" y="402.20" width="1.6" height="1.6" fill="#111"/>
<rect x="115.10" y="415.76" width="1.6" height="1.6" fill="#111"/>
<rect x="140.30" y="413.58" width="1.6" height="1.6" fill="#111"/>
<rect x="115.10" y="421.82" width="1.6" height="1.6" fill="#111"/>
<rect x="140.30" y="418.24" width="1.6" height="1.6" fill="#111"/>
<rect x="115.10" y="425.53" width="1.6" height="1.6" fill="#111"/>
<rect x="140.30" y="421.82" width="1.6" height="1.6" fill="#111"/>
<rect x="115.10" y="432.48" width="1.6" height="1.6" fill="#111"/>
<rect x="140.30" y="432.48" width="1.6" height="1.6" fill="#111"/>
<text x="203.20" y="396.00" font-size="6.3" text-anchor="middle" stroke="#1c1c1c" stroke-width="0.12" >Higher avidity (<tspan font-style="italic">n</tspan> = 2)</text>
<line x1="181.50" y1="399.40" x2="181.50" y2="452.00" stroke="#222" stroke-width="1.0" />
<line x1="181.50" y1="451.50" x2="226.00" y2="451.50" stroke="#222" stroke-width="1.0" />
<line x1="179.90" y1="442.30" x2="181.50" y2="442.30" stroke="#222" stroke-width="0.7" />
<text x="179.20" y="444.21" font-size="5.3" text-anchor="end" stroke="#1c1c1c" stroke-width="0.08" >1</text>
<line x1="179.90" y1="423.40" x2="181.50" y2="423.40" stroke="#222" stroke-width="0.7" />
<text x="179.20" y="425.31" font-size="5.3" text-anchor="end" stroke="#1c1c1c" stroke-width="0.08" >10</text>
<line x1="179.90" y1="404.50" x2="181.50" y2="404.50" stroke="#222" stroke-width="0.7" />
<text x="179.20" y="406.41" font-size="5.3" text-anchor="end" stroke="#1c1c1c" stroke-width="0.08" >100</text>
<line x1="190.90" y1="451.50" x2="190.90" y2="453.10" stroke="#222" stroke-width="0.7" />
<line x1="216.10" y1="451.50" x2="216.10" y2="453.10" stroke="#222" stroke-width="0.7" />
<text x="193.10" y="457.10" font-size="5.7" text-anchor="end" transform="rotate(-36 193.10 457.10)" stroke="#1c1c1c" stroke-width="0.12" >II_GBM_24_0</text>
<text x="218.30" y="457.10" font-size="5.7" text-anchor="end" transform="rotate(-36 218.30 457.10)" stroke="#1c1c1c" stroke-width="0.12" >(#)II_GBM_24_1</text>
<text x="166.90" y="423.95" font-size="5.6" text-anchor="middle" transform="rotate(-90 166.90 423.95)" stroke="#1c1c1c" stroke-width="0.12" >SI (proliferation)</text>
<line x1="181.50" y1="436.61" x2="228.00" y2="436.61" stroke="#e0383c" stroke-width="0.75" stroke-dasharray="1.5,1.1"/>
<rect x="187.90" y="401.30" width="6.00" height="21.90" fill="none" stroke="#4a63b4" stroke-width="0.8" />
<rect x="213.10" y="416.70" width="6.00" height="21.30" fill="none" stroke="#e0383c" stroke-width="0.8" />
<line x1="190.90" y1="412.02" x2="216.10" y2="418.58" stroke="#111" stroke-width="0.55" />
<line x1="190.90" y1="413.12" x2="216.10" y2="435.11" stroke="#111" stroke-width="0.55" />
<rect x="190.10" y="411.22" width="1.6" height="1.6" fill="#111"/>
<rect x="215.30" y="417.78" width="1.6" height="1.6" fill="#111"/>
<rect x="190.10" y="412.32" width="1.6" height="1.6" fill="#111"/>
<rect x="215.30" y="434.31" width="1.6" height="1.6" fill="#111"/>
<text x="0.80" y="504.30" font-size="14" stroke="#1c1c1c" stroke-width="0.25" >D</text>
<text x="48.75" y="500.00" font-size="6.25" textLength="164" lengthAdjust="spacingAndGlyphs" stroke="#1c1c1c" stroke-width="0.12" >Comparison of the cytokine secretion levels of TCCs in</text>
<text x="67.00" y="507.00" font-size="6.25" textLength="127.5" lengthAdjust="spacingAndGlyphs" stroke="#1c1c1c" stroke-width="0.12" >response to <tspan fill="#4a63b4" stroke="#4a63b4">N-peptides</tspan> and <tspan fill="#e0383c" stroke="#e0383c">D-neopeptides</tspan></text>
<line x1="27.00" y1="510.50" x2="233.70" y2="510.50" stroke="#222" stroke-width="1.0" />
<text x="55.00" y="519.60" font-size="6.3" text-anchor="middle" stroke="#1c1c1c" stroke-width="0.12" >Lower avidity</text>
<line x1="32.50" y1="522.10" x2="32.50" y2="576.00" stroke="#222" stroke-width="1.0" />
<line x1="32.50" y1="575.50" x2="77.00" y2="575.50" stroke="#222" stroke-width="1.0" />
<line x1="30.90" y1="575.40" x2="32.50" y2="575.40" stroke="#222" stroke-width="0.7" />
<text x="30.20" y="577.20" font-size="5.0" text-anchor="end" stroke="#1c1c1c" stroke-width="0.08" >10</text>
<line x1="30.90" y1="557.63" x2="32.50" y2="557.63" stroke="#222" stroke-width="0.7" />
<text x="30.20" y="559.43" font-size="5.0" text-anchor="end" stroke="#1c1c1c" stroke-width="0.08" >100</text>
<line x1="30.90" y1="539.86" x2="32.50" y2="539.86" stroke="#222" stroke-width="0.7" />
<text x="30.20" y="541.66" font-size="5.0" text-anchor="end" stroke="#1c1c1c" stroke-width="0.08" >1,000</text>
<line x1="30.90" y1="522.09" x2="32.50" y2="522.09" stroke="#222" stroke-width="0.7" />
<text x="30.20" y="523.89" font-size="5.0" text-anchor="end" stroke="#1c1c1c" stroke-width="0.08" >10,000</text>
<line x1="42.80" y1="575.50" x2="42.80" y2="577.10" stroke="#222" stroke-width="0.7" />
<line x1="67.80" y1="575.50" x2="67.80" y2="577.10" stroke="#222" stroke-width="0.7" />
<text x="45.00" y="581.10" font-size="5.7" text-anchor="end" transform="rotate(-38 45.00 581.10)" stroke="#1c1c1c" stroke-width="0.12" >Natural</text>
<text x="70.00" y="581.10" font-size="5.7" text-anchor="end" transform="rotate(-38 70.00 581.10)" stroke="#1c1c1c" stroke-width="0.12" >(#)Designed</text>
<text x="8.60" y="549.30" font-size="5.8" text-anchor="middle" transform="rotate(-90 8.60 549.30)" stroke="#1c1c1c" stroke-width="0.12" >IFNγ (pg/mL)</text>
<rect x="39.80" y="534.20" width="6.00" height="35.50" fill="none" stroke="#4a63b4" stroke-width="0.8" />
<rect x="64.80" y="523.00" width="6.00" height="36.00" fill="none" stroke="#e0383c" stroke-width="0.8" />
<line x1="42.80" y1="539.12" x2="67.80" y2="533.78" stroke="#111" stroke-width="0.9" />
<line x1="42.80" y1="540.67" x2="67.80" y2="534.51" stroke="#111" stroke-width="0.9" />
<line x1="42.80" y1="557.63" x2="67.80" y2="534.51" stroke="#111" stroke-width="0.5" />
<line x1="42.80" y1="564.70" x2="67.80" y2="546.02" stroke="#111" stroke-width="0.9" />
<rect x="41.80" y="538.12" width="2.0" height="2.0" fill="#111"/>
<rect x="66.80" y="532.78" width="2.0" height="2.0" fill="#111"/>
<rect x="41.80" y="539.67" width="2.0" height="2.0" fill="#111"/>
<rect x="66.80" y="533.51" width="2.0" height="2.0" fill="#111"/>
<rect x="41.80" y="556.63" width="2.0" height="2.0" fill="#111"/>
<rect x="66.80" y="533.51" width="2.0" height="2.0" fill="#111"/>
<rect x="41.80" y="563.70" width="2.0" height="2.0" fill="#111"/>
<rect x="66.80" y="545.02" width="2.0" height="2.0" fill="#111"/>
<text x="132.20" y="519.60" font-size="6.3" text-anchor="middle" stroke="#1c1c1c" stroke-width="0.12" >Similar avidity</text>
<line x1="109.50" y1="522.10" x2="109.50" y2="576.00" stroke="#222" stroke-width="1.0" />
<line x1="109.50" y1="575.50" x2="154.00" y2="575.50" stroke="#222" stroke-width="1.0" />
<line x1="107.90" y1="575.40" x2="109.50" y2="575.40" stroke="#222" stroke-width="0.7" />
<text x="107.20" y="577.20" font-size="5.0" text-anchor="end" stroke="#1c1c1c" stroke-width="0.08" >10</text>
<line x1="107.90" y1="557.63" x2="109.50" y2="557.63" stroke="#222" stroke-width="0.7" />
<text x="107.20" y="559.43" font-size="5.0" text-anchor="end" stroke="#1c1c1c" stroke-width="0.08" >100</text>
<line x1="107.90" y1="539.86" x2="109.50" y2="539.86" stroke="#222" stroke-width="0.7" />
<text x="107.20" y="541.66" font-size="5.0" text-anchor="end" stroke="#1c1c1c" stroke-width="0.08" >1,000</text>
<line x1="107.90" y1="522.09" x2="109.50" y2="522.09" stroke="#222" stroke-width="0.7" />
<text x="107.20" y="523.89" font-size="5.0" text-anchor="end" stroke="#1c1c1c" stroke-width="0.08" >10,000</text>
<line x1="119.80" y1="575.50" x2="119.80" y2="577.10" stroke="#222" stroke-width="0.7" />
<line x1="144.80" y1="575.50" x2="144.80" y2="577.10" stroke="#222" stroke-width="0.7" />
<text x="122.00" y="581.10" font-size="5.7" text-anchor="end" transform="rotate(-38 122.00 581.10)" stroke="#1c1c1c" stroke-width="0.12" >Natural</text>
<text x="147.00" y="581.10" font-size="5.7" text-anchor="end" transform="rotate(-38 147.00 581.10)" stroke="#1c1c1c" stroke-width="0.12" >(#)Designed</text>
<text x="85.60" y="549.30" font-size="5.8" text-anchor="middle" transform="rotate(-90 85.60 549.30)" stroke="#1c1c1c" stroke-width="0.12" >IFNγ (pg/mL)</text>
<rect x="116.80" y="530.00" width="6.00" height="16.30" fill="none" stroke="#4a63b4" stroke-width="0.8" />
<rect x="141.80" y="530.00" width="6.00" height="16.30" fill="none" stroke="#e0383c" stroke-width="0.8" />
<line x1="119.80" y1="533.78" x2="144.80" y2="533.78" stroke="#111" stroke-width="0.9" />
<line x1="119.80" y1="539.12" x2="144.80" y2="540.26" stroke="#111" stroke-width="0.5" />
<line x1="119.80" y1="542.61" x2="144.80" y2="541.11" stroke="#111" stroke-width="0.5" />
<rect x="118.80" y="532.78" width="2.0" height="2.0" fill="#111"/>
<rect x="143.80" y="532.78" width="2.0" height="2.0" fill="#111"/>
<rect x="118.80" y="538.12" width="2.0" height="2.0" fill="#111"/>
<rect x="143.80" y="539.26" width="2.0" height="2.0" fill="#111"/>
<rect x="118.80" y="541.61" width="2.0" height="2.0" fill="#111"/>
<rect x="143.80" y="540.11" width="2.0" height="2.0" fill="#111"/>
<text x="209.40" y="519.60" font-size="6.3" text-anchor="middle" stroke="#1c1c1c" stroke-width="0.12" >Higher avidity</text>
<line x1="186.50" y1="522.10" x2="186.50" y2="576.00" stroke="#222" stroke-width="1.0" />
<line x1="186.50" y1="575.50" x2="231.00" y2="575.50" stroke="#222" stroke-width="1.0" />
<line x1="184.90" y1="575.40" x2="186.50" y2="575.40" stroke="#222" stroke-width="0.7" />
<text x="184.20" y="577.20" font-size="5.0" text-anchor="end" stroke="#1c1c1c" stroke-width="0.08" >10</text>
<line x1="184.90" y1="557.63" x2="186.50" y2="557.63" stroke="#222" stroke-width="0.7" />
<text x="184.20" y="559.43" font-size="5.0" text-anchor="end" stroke="#1c1c1c" stroke-width="0.08" >100</text>
<line x1="184.90" y1="539.86" x2="186.50" y2="539.86" stroke="#222" stroke-width="0.7" />
<text x="184.20" y="541.66" font-size="5.0" text-anchor="end" stroke="#1c1c1c" stroke-width="0.08" >1,000</text>
<line x1="184.90" y1="522.09" x2="186.50" y2="522.09" stroke="#222" stroke-width="0.7" />
<text x="184.20" y="523.89" font-size="5.0" text-anchor="end" stroke="#1c1c1c" stroke-width="0.08" >10,000</text>
<line x1="196.80" y1="575.50" x2="196.80" y2="577.10" stroke="#222" stroke-width="0.7" />
<line x1="221.80" y1="575.50" x2="221.80" y2="577.10" stroke="#222" stroke-width="0.7" />
<text x="199.00" y="581.10" font-size="5.7" text-anchor="end" transform="rotate(-38 199.00 581.10)" stroke="#1c1c1c" stroke-width="0.12" >Natural</text>
<text x="224.00" y="581.10" font-size="5.7" text-anchor="end" transform="rotate(-38 224.00 581.10)" stroke="#1c1c1c" stroke-width="0.12" >(#)Designed</text>
<text x="162.60" y="549.30" font-size="5.8" text-anchor="middle" transform="rotate(-90 162.60 549.30)" stroke="#1c1c1c" stroke-width="0.12" >IFNγ (pg/mL)</text>
<rect x="193.80" y="532.20" width="6.00" height="28.50" fill="none" stroke="#4a63b4" stroke-width="0.8" />
<rect x="218.80" y="546.70" width="6.00" height="28.50" fill="none" stroke="#e0383c" stroke-width="0.8" />
<line x1="196.80" y1="538.45" x2="221.80" y2="549.15" stroke="#111" stroke-width="0.5" />
<line x1="196.80" y1="539.86" x2="221.80" y2="554.00" stroke="#111" stroke-width="0.5" />
<line x1="196.80" y1="540.67" x2="221.80" y2="556.89" stroke="#111" stroke-width="0.5" />
<line x1="196.80" y1="541.58" x2="221.80" y2="557.63" stroke="#111" stroke-width="0.5" />
<line x1="196.80" y1="546.93" x2="221.80" y2="568.33" stroke="#111" stroke-width="0.5" />
<line x1="196.80" y1="554.50" x2="221.80" y2="573.38" stroke="#111" stroke-width="0.5" />
<rect x="195.80" y="537.45" width="2.0" height="2.0" fill="#111"/>
<rect x="220.80" y="548.15" width="2.0" height="2.0" fill="#111"/>
<rect x="195.80" y="538.86" width="2.0" height="2.0" fill="#111"/>
<rect x="220.80" y="553.00" width="2.0" height="2.0" fill="#111"/>
<rect x="195.80" y="539.67" width="2.0" height="2.0" fill="#111"/>
<rect x="220.80" y="555.89" width="2.0" height="2.0" fill="#111"/>
<rect x="195.80" y="540.58" width="2.0" height="2.0" fill="#111"/>
<rect x="220.80" y="556.63" width="2.0" height="2.0" fill="#111"/>
<rect x="195.80" y="545.93" width="2.0" height="2.0" fill="#111"/>
<rect x="220.80" y="567.33" width="2.0" height="2.0" fill="#111"/>
<rect x="195.80" y="553.50" width="2.0" height="2.0" fill="#111"/>
<rect x="220.80" y="572.38" width="2.0" height="2.0" fill="#111"/>
<text x="282.00" y="135.50" font-size="14" stroke="#1c1c1c" stroke-width="0.25" >E</text>
<text x="308.75" y="146.60" font-size="6.25" textLength="193.2" lengthAdjust="spacingAndGlyphs" stroke="#1c1c1c" stroke-width="0.12" >Dose–response curves of TCCs to <tspan fill="#4a63b4" stroke="#4a63b4">N-peptides</tspan> and <tspan fill="#e0383c" stroke="#e0383c">D-neopeptides</tspan></text>
<line x1="304.50" y1="150.50" x2="510.50" y2="150.50" stroke="#222" stroke-width="1.0" />
<text x="311.25" y="161.30" font-size="6.3" textLength="39.3" lengthAdjust="spacingAndGlyphs" stroke="#1c1c1c" stroke-width="0.12" >Lower avidity</text>
<text x="386.80" y="161.00" font-size="6.3" textLength="43.2" lengthAdjust="spacingAndGlyphs" stroke="#1c1c1c" stroke-width="0.12" >Similar avidity</text>
<text x="466.25" y="160.60" font-size="6.3" textLength="41.7" lengthAdjust="spacingAndGlyphs" stroke="#1c1c1c" stroke-width="0.12" >Higher avidity</text>
<circle cx="344.60" cy="166.40" r="1.7" fill="none" stroke="#4f5fb5" stroke-width="0.9"/>
<text x="348.75" y="168.40" font-size="5.6" textLength="44.2" lengthAdjust="spacingAndGlyphs" stroke="#1c1c1c" stroke-width="0.12" >Natural peptides</text>
<circle cx="401.30" cy="166.40" r="1.7" fill="none" stroke="#e4484a" stroke-width="0.9"/>
<text x="406.25" y="168.40" font-size="5.6" textLength="66.2" lengthAdjust="spacingAndGlyphs" stroke="#1c1c1c" stroke-width="0.12" >(#)Designed neopeptides</text>
<line x1="304.50" y1="186.30" x2="304.50" y2="227.00" stroke="#222" stroke-width="1.0" />
<line x1="304.50" y1="226.50" x2="355.60" y2="226.50" stroke="#222" stroke-width="1.0" />
<line x1="302.90" y1="226.50" x2="304.50" y2="226.50" stroke="#222" stroke-width="0.7" />
<text x="302.20" y="228.25" font-size="4.9" text-anchor="end" stroke="#1c1c1c" stroke-width="0.12" >0</text>
<line x1="302.90" y1="213.23" x2="304.50" y2="213.23" stroke="#222" stroke-width="0.7" />
<text x="302.20" y="214.98" font-size="4.9" text-anchor="end" stroke="#1c1c1c" stroke-width="0.12" >2</text>
<line x1="302.90" y1="199.97" x2="304.50" y2="199.97" stroke="#222" stroke-width="0.7" />
<text x="302.20" y="201.72" font-size="4.9" text-anchor="end" stroke="#1c1c1c" stroke-width="0.12" >4</text>
<line x1="302.90" y1="186.70" x2="304.50" y2="186.70" stroke="#222" stroke-width="0.7" />
<text x="302.20" y="188.45" font-size="4.9" text-anchor="end" stroke="#1c1c1c" stroke-width="0.12" >6</text>
<line x1="304.50" y1="173.20" x2="304.50" y2="183.60" stroke="#222" stroke-width="1.0" />
<line x1="302.90" y1="173.20" x2="304.50" y2="173.20" stroke="#222" stroke-width="0.7" />
<line x1="302.90" y1="182.80" x2="304.50" y2="182.80" stroke="#222" stroke-width="0.7" />
<text x="302.20" y="174.95" font-size="4.9" text-anchor="end" stroke="#1c1c1c" stroke-width="0.12" >20</text>
<text x="302.20" y="184.20" font-size="4.9" text-anchor="end" stroke="#1c1c1c" stroke-width="0.12" >10</text>
<line x1="310.90" y1="226.50" x2="310.90" y2="228.10" stroke="#222" stroke-width="0.7" />
<text x="312.20" y="230.70" font-size="5.7" text-anchor="end" transform="rotate(-52 312.20 230.70)" stroke="#1c1c1c" stroke-width="0.12" >10<tspan font-size="3.9" dy="-2.1">-3</tspan></text>
<line x1="320.95" y1="226.50" x2="320.95" y2="228.10" stroke="#222" stroke-width="0.7" />
<text x="322.25" y="230.70" font-size="5.7" text-anchor="end" transform="rotate(-52 322.25 230.70)" stroke="#1c1c1c" stroke-width="0.12" >10<tspan font-size="3.9" dy="-2.1">-2</tspan></text>
<line x1="331.00" y1="226.50" x2="331.00" y2="228.10" stroke="#222" stroke-width="0.7" />
<text x="332.30" y="230.70" font-size="5.7" text-anchor="end" transform="rotate(-52 332.30 230.70)" stroke="#1c1c1c" stroke-width="0.12" >10<tspan font-size="3.9" dy="-2.1">-1</tspan></text>
<line x1="341.05" y1="226.50" x2="341.05" y2="228.10" stroke="#222" stroke-width="0.7" />
<text x="342.35" y="230.70" font-size="5.7" text-anchor="end" transform="rotate(-52 342.35 230.70)" stroke="#1c1c1c" stroke-width="0.12" >10<tspan font-size="3.9" dy="-2.1">0</tspan></text>
<line x1="351.10" y1="226.50" x2="351.10" y2="228.10" stroke="#222" stroke-width="0.7" />
<text x="352.40" y="230.70" font-size="5.7" text-anchor="end" transform="rotate(-52 352.40 230.70)" stroke="#1c1c1c" stroke-width="0.12" >10<tspan font-size="3.9" dy="-2.1">1</tspan></text>
<text x="328.70" y="248.10" font-size="5.6" text-anchor="middle" textLength="44.2" lengthAdjust="spacingAndGlyphs" stroke="#1c1c1c" stroke-width="0.12" >Peptide (μmol/L)</text>
<text x="293.90" y="198.50" font-size="5.4" text-anchor="middle" transform="rotate(-90 293.90 198.50)" stroke="#1c1c1c" stroke-width="0.12" >SI (proliferation)</text>
<line x1="304.50" y1="213.23" x2="357.10" y2="213.23" stroke="#e0383c" stroke-width="0.75" stroke-dasharray="1.5,1.1"/>
<line x1="310.90" y1="221.00" x2="320.95" y2="220.00" stroke="#e4484a" stroke-width="0.8" />
<line x1="320.95" y1="220.00" x2="331.00" y2="218.50" stroke="#e4484a" stroke-width="0.8" />
<line x1="331.00" y1="218.50" x2="341.05" y2="189.80" stroke="#e4484a" stroke-width="0.8" />
<line x1="341.05" y1="189.80" x2="343.60" y2="186.20" stroke="#e4484a" stroke-width="0.8" />
<line x1="345.58" y1="183.40" x2="351.10" y2="175.60" stroke="#e4484a" stroke-width="0.8" />
<line x1="310.90" y1="220.90" x2="320.95" y2="220.00" stroke="#4f5fb5" stroke-width="0.8" />
<line x1="320.95" y1="220.00" x2="331.00" y2="220.90" stroke="#4f5fb5" stroke-width="0.8" />
<line x1="331.00" y1="220.90" x2="341.05" y2="215.70" stroke="#4f5fb5" stroke-width="0.8" />
<line x1="341.05" y1="215.70" x2="351.10" y2="208.80" stroke="#4f5fb5" stroke-width="0.8" />
<circle cx="310.90" cy="221.00" r="1.95" fill="white" stroke="#e4484a" stroke-width="0.9"/>
<circle cx="320.95" cy="220.00" r="1.95" fill="white" stroke="#e4484a" stroke-width="0.9"/>
<circle cx="331.00" cy="218.50" r="1.95" fill="white" stroke="#e4484a" stroke-width="0.9"/>
<circle cx="341.05" cy="189.80" r="1.95" fill="white" stroke="#e4484a" stroke-width="0.9"/>
<circle cx="351.10" cy="175.60" r="1.95" fill="white" stroke="#e4484a" stroke-width="0.9"/>
<circle cx="310.90" cy="220.90" r="1.95" fill="white" stroke="#4f5fb5" stroke-width="0.9"/>
<circle cx="320.95" cy="220.00" r="1.95" fill="white" stroke="#4f5fb5" stroke-width="0.9"/>
<circle cx="331.00" cy="220.90" r="1.95" fill="white" stroke="#4f5fb5" stroke-width="0.9"/>
<circle cx="341.05" cy="215.70" r="1.95" fill="white" stroke="#4f5fb5" stroke-width="0.9"/>
<circle cx="351.10" cy="208.80" r="1.95" fill="white" stroke="#4f5fb5" stroke-width="0.9"/>
<line x1="382.50" y1="173.00" x2="382.50" y2="227.00" stroke="#222" stroke-width="1.0" />
<line x1="382.50" y1="226.50" x2="433.80" y2="226.50" stroke="#222" stroke-width="1.0" />
<line x1="380.90" y1="226.50" x2="382.50" y2="226.50" stroke="#222" stroke-width="0.7" />
<text x="380.20" y="228.25" font-size="4.9" text-anchor="end" stroke="#1c1c1c" stroke-width="0.12" >0</text>
<line x1="380.90" y1="213.23" x2="382.50" y2="213.23" stroke="#222" stroke-width="0.7" />
<text x="380.20" y="214.98" font-size="4.9" text-anchor="end" stroke="#1c1c1c" stroke-width="0.12" >2</text>
<line x1="380.90" y1="199.97" x2="382.50" y2="199.97" stroke="#222" stroke-width="0.7" />
<text x="380.20" y="201.72" font-size="4.9" text-anchor="end" stroke="#1c1c1c" stroke-width="0.12" >4</text>
<line x1="380.90" y1="186.70" x2="382.50" y2="186.70" stroke="#222" stroke-width="0.7" />
<text x="380.20" y="188.45" font-size="4.9" text-anchor="end" stroke="#1c1c1c" stroke-width="0.12" >6</text>
<line x1="380.90" y1="173.43" x2="382.50" y2="173.43" stroke="#222" stroke-width="0.7" />
<text x="380.20" y="175.18" font-size="4.9" text-anchor="end" stroke="#1c1c1c" stroke-width="0.12" >8</text>
<line x1="388.90" y1="226.50" x2="388.90" y2="228.10" stroke="#222" stroke-width="0.7" />
<text x="390.20" y="230.70" font-size="5.7" text-anchor="end" transform="rotate(-52 390.20 230.70)" stroke="#1c1c1c" stroke-width="0.12" >10<tspan font-size="3.9" dy="-2.1">-3</tspan></text>
<line x1="398.95" y1="226.50" x2="398.95" y2="228.10" stroke="#222" stroke-width="0.7" />
<text x="400.25" y="230.70" font-size="5.7" text-anchor="end" transform="rotate(-52 400.25 230.70)" stroke="#1c1c1c" stroke-width="0.12" >10<tspan font-size="3.9" dy="-2.1">-2</tspan></text>
<line x1="409.00" y1="226.50" x2="409.00" y2="228.10" stroke="#222" stroke-width="0.7" />
<text x="410.30" y="230.70" font-size="5.7" text-anchor="end" transform="rotate(-52 410.30 230.70)" stroke="#1c1c1c" stroke-width="0.12" >10<tspan font-size="3.9" dy="-2.1">-1</tspan></text>
<line x1="419.05" y1="226.50" x2="419.05" y2="228.10" stroke="#222" stroke-width="0.7" />
<text x="420.35" y="230.70" font-size="5.7" text-anchor="end" transform="rotate(-52 420.35 230.70)" stroke="#1c1c1c" stroke-width="0.12" >10<tspan font-size="3.9" dy="-2.1">0</tspan></text>
<line x1="429.10" y1="226.50" x2="429.10" y2="228.10" stroke="#222" stroke-width="0.7" />
<text x="430.40" y="230.70" font-size="5.7" text-anchor="end" transform="rotate(-52 430.40 230.70)" stroke="#1c1c1c" stroke-width="0.12" >10<tspan font-size="3.9" dy="-2.1">1</tspan></text>
<text x="406.70" y="248.10" font-size="5.6" text-anchor="middle" textLength="44.2" lengthAdjust="spacingAndGlyphs" stroke="#1c1c1c" stroke-width="0.12" >Peptide (μmol/L)</text>
<text x="371.90" y="198.50" font-size="5.4" text-anchor="middle" transform="rotate(-90 371.90 198.50)" stroke="#1c1c1c" stroke-width="0.12" >SI (proliferation)</text>
<line x1="382.50" y1="213.23" x2="435.30" y2="213.23" stroke="#e0383c" stroke-width="0.75" stroke-dasharray="1.5,1.1"/>
<line x1="388.90" y1="225.40" x2="398.95" y2="224.00" stroke="#e4484a" stroke-width="0.8" />
<line x1="398.95" y1="224.00" x2="409.00" y2="220.60" stroke="#e4484a" stroke-width="0.8" />
<line x1="409.00" y1="220.60" x2="419.05" y2="213.10" stroke="#e4484a" stroke-width="0.8" />
<line x1="419.05" y1="213.10" x2="429.10" y2="186.00" stroke="#e4484a" stroke-width="0.8" />
<line x1="388.90" y1="223.20" x2="398.95" y2="223.70" stroke="#4f5fb5" stroke-width="0.8" />
<line x1="398.95" y1="223.70" x2="409.00" y2="222.30" stroke="#4f5fb5" stroke-width="0.8" />
<line x1="409.00" y1="222.30" x2="419.05" y2="213.10" stroke="#4f5fb5" stroke-width="0.8" />
<line x1="419.05" y1="213.10" x2="429.10" y2="182.50" stroke="#4f5fb5" stroke-width="0.8" />
<circle cx="388.90" cy="225.40" r="1.95" fill="white" stroke="#e4484a" stroke-width="0.9"/>
<circle cx="398.95" cy="224.00" r="1.95" fill="white" stroke="#e4484a" stroke-width="0.9"/>
<circle cx="409.00" cy="220.60" r="1.95" fill="white" stroke="#e4484a" stroke-width="0.9"/>
<circle cx="419.05" cy="213.10" r="1.95" fill="white" stroke="#e4484a" stroke-width="0.9"/>
<circle cx="429.10" cy="186.00" r="1.95" fill="white" stroke="#e4484a" stroke-width="0.9"/>
<circle cx="388.90" cy="223.20" r="1.95" fill="white" stroke="#4f5fb5" stroke-width="0.9"/>
<circle cx="398.95" cy="223.70" r="1.95" fill="white" stroke="#4f5fb5" stroke-width="0.9"/>
<circle cx="409.00" cy="222.30" r="1.95" fill="white" stroke="#4f5fb5" stroke-width="0.9"/>
<circle cx="419.05" cy="213.10" r="1.95" fill="white" stroke="#4f5fb5" stroke-width="0.9"/>
<circle cx="429.10" cy="182.50" r="1.95" fill="white" stroke="#4f5fb5" stroke-width="0.9"/>
<line x1="461.50" y1="186.30" x2="461.50" y2="227.00" stroke="#222" stroke-width="1.0" />
<line x1="461.50" y1="226.50" x2="512.70" y2="226.50" stroke="#222" stroke-width="1.0" />
<line x1="459.90" y1="226.50" x2="461.50" y2="226.50" stroke="#222" stroke-width="0.7" />
<text x="459.20" y="228.25" font-size="4.9" text-anchor="end" stroke="#1c1c1c" stroke-width="0.12" >0</text>
<line x1="459.90" y1="213.23" x2="461.50" y2="213.23" stroke="#222" stroke-width="0.7" />
<text x="459.20" y="214.98" font-size="4.9" text-anchor="end" stroke="#1c1c1c" stroke-width="0.12" >2</text>
<line x1="459.90" y1="199.97" x2="461.50" y2="199.97" stroke="#222" stroke-width="0.7" />
<text x="459.20" y="201.72" font-size="4.9" text-anchor="end" stroke="#1c1c1c" stroke-width="0.12" >4</text>
<line x1="459.90" y1="186.70" x2="461.50" y2="186.70" stroke="#222" stroke-width="0.7" />
<text x="459.20" y="188.45" font-size="4.9" text-anchor="end" stroke="#1c1c1c" stroke-width="0.12" >6</text>
<line x1="461.50" y1="173.20" x2="461.50" y2="183.60" stroke="#222" stroke-width="1.0" />
<line x1="459.90" y1="173.20" x2="461.50" y2="173.20" stroke="#222" stroke-width="0.7" />
<line x1="459.90" y1="178.20" x2="461.50" y2="178.20" stroke="#222" stroke-width="0.7" />
<text x="459.20" y="174.95" font-size="4.9" text-anchor="end" stroke="#1c1c1c" stroke-width="0.12" >80</text>
<text x="459.20" y="179.60" font-size="4.9" text-anchor="end" stroke="#1c1c1c" stroke-width="0.12" >40</text>
<line x1="467.90" y1="226.50" x2="467.90" y2="228.10" stroke="#222" stroke-width="0.7" />
<text x="469.20" y="230.70" font-size="5.7" text-anchor="end" transform="rotate(-52 469.20 230.70)" stroke="#1c1c1c" stroke-width="0.12" >10<tspan font-size="3.9" dy="-2.1">-3</tspan></text>
<line x1="477.95" y1="226.50" x2="477.95" y2="228.10" stroke="#222" stroke-width="0.7" />
<text x="479.25" y="230.70" font-size="5.7" text-anchor="end" transform="rotate(-52 479.25 230.70)" stroke="#1c1c1c" stroke-width="0.12" >10<tspan font-size="3.9" dy="-2.1">-2</tspan></text>
<line x1="488.00" y1="226.50" x2="488.00" y2="228.10" stroke="#222" stroke-width="0.7" />
<text x="489.30" y="230.70" font-size="5.7" text-anchor="end" transform="rotate(-52 489.30 230.70)" stroke="#1c1c1c" stroke-width="0.12" >10<tspan font-size="3.9" dy="-2.1">-1</tspan></text>
<line x1="498.05" y1="226.50" x2="498.05" y2="228.10" stroke="#222" stroke-width="0.7" />
<text x="499.35" y="230.70" font-size="5.7" text-anchor="end" transform="rotate(-52 499.35 230.70)" stroke="#1c1c1c" stroke-width="0.12" >10<tspan font-size="3.9" dy="-2.1">0</tspan></text>
<line x1="508.10" y1="226.50" x2="508.10" y2="228.10" stroke="#222" stroke-width="0.7" />
<text x="509.40" y="230.70" font-size="5.7" text-anchor="end" transform="rotate(-52 509.40 230.70)" stroke="#1c1c1c" stroke-width="0.12" >10<tspan font-size="3.9" dy="-2.1">1</tspan></text>
<text x="485.70" y="248.10" font-size="5.6" text-anchor="middle" textLength="44.2" lengthAdjust="spacingAndGlyphs" stroke="#1c1c1c" stroke-width="0.12" >Peptide (μmol/L)</text>
<text x="450.90" y="198.50" font-size="5.4" text-anchor="middle" transform="rotate(-90 450.90 198.50)" stroke="#1c1c1c" stroke-width="0.12" >SI (proliferation)</text>
<line x1="461.50" y1="213.23" x2="514.20" y2="213.23" stroke="#e0383c" stroke-width="0.75" stroke-dasharray="1.5,1.1"/>
<line x1="467.90" y1="220.60" x2="477.95" y2="218.80" stroke="#e4484a" stroke-width="0.8" />
<line x1="477.95" y1="218.80" x2="488.00" y2="221.40" stroke="#e4484a" stroke-width="0.8" />
<line x1="488.00" y1="221.40" x2="498.05" y2="220.90" stroke="#e4484a" stroke-width="0.8" />
<line x1="498.05" y1="220.90" x2="508.10" y2="199.80" stroke="#e4484a" stroke-width="0.8" />
<line x1="467.90" y1="211.60" x2="477.95" y2="215.40" stroke="#4f5fb5" stroke-width="0.8" />
<line x1="477.95" y1="215.40" x2="488.00" y2="216.20" stroke="#4f5fb5" stroke-width="0.8" />
<line x1="488.00" y1="216.20" x2="498.05" y2="201.90" stroke="#4f5fb5" stroke-width="0.8" />
<line x1="498.05" y1="201.90" x2="503.96" y2="186.20" stroke="#4f5fb5" stroke-width="0.8" />
<line x1="505.01" y1="183.40" x2="508.10" y2="175.20" stroke="#4f5fb5" stroke-width="0.8" />
<circle cx="467.90" cy="220.60" r="1.95" fill="white" stroke="#e4484a" stroke-width="0.9"/>
<circle cx="477.95" cy="218.80" r="1.95" fill="white" stroke="#e4484a" stroke-width="0.9"/>
<circle cx="488.00" cy="221.40" r="1.95" fill="white" stroke="#e4484a" stroke-width="0.9"/>
<circle cx="498.05" cy="220.90" r="1.95" fill="white" stroke="#e4484a" stroke-width="0.9"/>
<circle cx="508.10" cy="199.80" r="1.95" fill="white" stroke="#e4484a" stroke-width="0.9"/>
<circle cx="467.90" cy="211.60" r="1.95" fill="white" stroke="#4f5fb5" stroke-width="0.9"/>
<circle cx="477.95" cy="215.40" r="1.95" fill="white" stroke="#4f5fb5" stroke-width="0.9"/>
<circle cx="488.00" cy="216.20" r="1.95" fill="white" stroke="#4f5fb5" stroke-width="0.9"/>
<circle cx="498.05" cy="201.90" r="1.95" fill="white" stroke="#4f5fb5" stroke-width="0.9"/>
<circle cx="508.10" cy="175.20" r="1.95" fill="white" stroke="#4f5fb5" stroke-width="0.9"/>
<text x="283.20" y="283.00" font-size="14" stroke="#1c1c1c" stroke-width="0.25" >F</text>
<text x="331.25" y="282.00" font-size="6.25" textLength="151.2" lengthAdjust="spacingAndGlyphs" stroke="#1c1c1c" stroke-width="0.12" >Cytotoxicity against autologous glioblastoma cells</text>
<line x1="303.75" y1="285.50" x2="510.50" y2="285.50" stroke="#222" stroke-width="1.0" />
<text x="332.50" y="292.20" font-size="6.3" text-anchor="middle" textLength="25" lengthAdjust="spacingAndGlyphs" stroke="#1c1c1c" stroke-width="0.12" >TCC2G3</text>
<circle cx="307.20" cy="298.10" r="1.7" fill="none" stroke="#e4484a" stroke-width="0.9"/>
<text x="312.80" y="300.10" font-size="5.6" textLength="41.7" lengthAdjust="spacingAndGlyphs" stroke="#1c1c1c" stroke-width="0.12" >(#)II_GBM_12_1</text>
<circle cx="307.20" cy="306.80" r="1.7" fill="none" stroke="#4f5fb5" stroke-width="0.9"/>
<text x="312.80" y="308.80" font-size="5.6" textLength="34.8" lengthAdjust="spacingAndGlyphs" stroke="#1c1c1c" stroke-width="0.12" >II_GBM_12_0</text>
<circle cx="307.20" cy="315.10" r="1.7" fill="none" stroke="#222" stroke-width="0.9"/>
<text x="312.80" y="317.10" font-size="5.6" textLength="49.2" lengthAdjust="spacingAndGlyphs" stroke="#1c1c1c" stroke-width="0.12" >No peptide control</text>
<line x1="307.50" y1="320.70" x2="307.50" y2="365.00" stroke="#222" stroke-width="1.0" />
<line x1="307.50" y1="364.50" x2="356.90" y2="364.50" stroke="#222" stroke-width="1.0" />
<line x1="305.90" y1="364.50" x2="307.50" y2="364.50" stroke="#222" stroke-width="0.7" />
<text x="305.50" y="366.40" font-size="5.3" text-anchor="end" stroke="#1c1c1c" stroke-width="0.12" >0</text>
<line x1="305.90" y1="355.80" x2="307.50" y2="355.80" stroke="#222" stroke-width="0.7" />
<text x="305.50" y="357.70" font-size="5.3" text-anchor="end" stroke="#1c1c1c" stroke-width="0.12" >20</text>
<line x1="305.90" y1="347.10" x2="307.50" y2="347.10" stroke="#222" stroke-width="0.7" />
<text x="305.50" y="349.00" font-size="5.3" text-anchor="end" stroke="#1c1c1c" stroke-width="0.12" >40</text>
<line x1="305.90" y1="338.40" x2="307.50" y2="338.40" stroke="#222" stroke-width="0.7" />
<text x="305.50" y="340.30" font-size="5.3" text-anchor="end" stroke="#1c1c1c" stroke-width="0.12" >60</text>
<line x1="305.90" y1="329.70" x2="307.50" y2="329.70" stroke="#222" stroke-width="0.7" />
<text x="305.50" y="331.60" font-size="5.3" text-anchor="end" stroke="#1c1c1c" stroke-width="0.12" >80</text>
<line x1="305.90" y1="321.00" x2="307.50" y2="321.00" stroke="#222" stroke-width="0.7" />
<text x="305.50" y="322.90" font-size="5.3" text-anchor="end" stroke="#1c1c1c" stroke-width="0.12" >100</text>
<line x1="315.50" y1="364.50" x2="315.50" y2="366.10" stroke="#222" stroke-width="0.7" />
<text x="315.50" y="371.60" font-size="5.0" text-anchor="middle" stroke="#1c1c1c" stroke-width="0.12" >10:1</text>
<line x1="327.70" y1="364.50" x2="327.70" y2="366.10" stroke="#222" stroke-width="0.7" />
<text x="327.70" y="371.60" font-size="5.0" text-anchor="middle" stroke="#1c1c1c" stroke-width="0.12" >5:1</text>
<line x1="339.90" y1="364.50" x2="339.90" y2="366.10" stroke="#222" stroke-width="0.7" />
<text x="339.90" y="371.60" font-size="5.0" text-anchor="middle" stroke="#1c1c1c" stroke-width="0.12" >2:1</text>
<line x1="352.20" y1="364.50" x2="352.20" y2="366.10" stroke="#222" stroke-width="0.7" />
<text x="352.20" y="371.60" font-size="5.0" text-anchor="middle" stroke="#1c1c1c" stroke-width="0.12" >1:1</text>
<text x="332.50" y="382.60" font-size="5.6" text-anchor="middle" textLength="22.5" lengthAdjust="spacingAndGlyphs" stroke="#1c1c1c" stroke-width="0.12" >E:T ratio</text>
<text x="293.40" y="340.50" font-size="5.4" text-anchor="middle" textLength="36.4" lengthAdjust="spacingAndGlyphs" transform="rotate(-90 293.40 340.50)" stroke="#1c1c1c" stroke-width="0.12" >% Cytotoxicity</text>
<path d="M315.50,352.32 L327.70,354.06 L339.90,354.93 L352.20,356.24" fill="none" stroke="#222" stroke-width="0.8" />
<path d="M315.50,331.00 L327.70,332.75 L339.90,335.79 L352.20,342.31" fill="none" stroke="#e4484a" stroke-width="0.8" />
<path d="M315.50,328.83 L327.70,332.75 L339.90,337.96 L352.20,344.06" fill="none" stroke="#4f5fb5" stroke-width="0.8" />
<circle cx="315.50" cy="352.32" r="1.75" fill="white" stroke="#222" stroke-width="0.8"/>
<circle cx="327.70" cy="354.06" r="1.75" fill="white" stroke="#222" stroke-width="0.8"/>
<circle cx="339.90" cy="354.93" r="1.75" fill="white" stroke="#222" stroke-width="0.8"/>
<circle cx="352.20" cy="356.24" r="1.75" fill="white" stroke="#222" stroke-width="0.8"/>
<circle cx="315.50" cy="331.00" r="1.75" fill="white" stroke="#e4484a" stroke-width="0.8"/>
<circle cx="327.70" cy="332.75" r="1.75" fill="white" stroke="#e4484a" stroke-width="0.8"/>
<circle cx="339.90" cy="335.79" r="1.75" fill="white" stroke="#e4484a" stroke-width="0.8"/>
<circle cx="352.20" cy="342.31" r="1.75" fill="white" stroke="#e4484a" stroke-width="0.8"/>
<circle cx="315.50" cy="328.83" r="1.75" fill="white" stroke="#4f5fb5" stroke-width="0.8"/>
<circle cx="327.70" cy="332.75" r="1.75" fill="white" stroke="#4f5fb5" stroke-width="0.8"/>
<circle cx="339.90" cy="337.96" r="1.75" fill="white" stroke="#4f5fb5" stroke-width="0.8"/>
<circle cx="352.20" cy="344.06" r="1.75" fill="white" stroke="#4f5fb5" stroke-width="0.8"/>
<text x="411.00" y="292.20" font-size="6.3" text-anchor="middle" textLength="25" lengthAdjust="spacingAndGlyphs" stroke="#1c1c1c" stroke-width="0.12" >TCC7B7</text>
<circle cx="387.10" cy="298.10" r="1.7" fill="none" stroke="#e4484a" stroke-width="0.9"/>
<text x="392.70" y="300.10" font-size="5.6" textLength="41.7" lengthAdjust="spacingAndGlyphs" stroke="#1c1c1c" stroke-width="0.12" >(#)II_GBM_14_1</text>
<circle cx="387.10" cy="306.80" r="1.7" fill="none" stroke="#4f5fb5" stroke-width="0.9"/>
<text x="392.70" y="308.80" font-size="5.6" textLength="34.8" lengthAdjust="spacingAndGlyphs" stroke="#1c1c1c" stroke-width="0.12" >II_GBM_14_0</text>
<circle cx="387.10" cy="315.10" r="1.7" fill="none" stroke="#222" stroke-width="0.9"/>
<text x="392.70" y="317.10" font-size="5.6" textLength="49.2" lengthAdjust="spacingAndGlyphs" stroke="#1c1c1c" stroke-width="0.12" >No peptide control</text>
<line x1="387.50" y1="320.70" x2="387.50" y2="365.00" stroke="#222" stroke-width="1.0" />
<line x1="387.50" y1="364.50" x2="436.80" y2="364.50" stroke="#222" stroke-width="1.0" />
<line x1="385.90" y1="364.50" x2="387.50" y2="364.50" stroke="#222" stroke-width="0.7" />
<text x="385.50" y="366.40" font-size="5.3" text-anchor="end" stroke="#1c1c1c" stroke-width="0.12" >0</text>
<line x1="385.90" y1="355.80" x2="387.50" y2="355.80" stroke="#222" stroke-width="0.7" />
<text x="385.50" y="357.70" font-size="5.3" text-anchor="end" stroke="#1c1c1c" stroke-width="0.12" >20</text>
<line x1="385.90" y1="347.10" x2="387.50" y2="347.10" stroke="#222" stroke-width="0.7" />
<text x="385.50" y="349.00" font-size="5.3" text-anchor="end" stroke="#1c1c1c" stroke-width="0.12" >40</text>
<line x1="385.90" y1="338.40" x2="387.50" y2="338.40" stroke="#222" stroke-width="0.7" />
<text x="385.50" y="340.30" font-size="5.3" text-anchor="end" stroke="#1c1c1c" stroke-width="0.12" >60</text>
<line x1="385.90" y1="329.70" x2="387.50" y2="329.70" stroke="#222" stroke-width="0.7" />
<text x="385.50" y="331.60" font-size="5.3" text-anchor="end" stroke="#1c1c1c" stroke-width="0.12" >80</text>
<line x1="385.90" y1="321.00" x2="387.50" y2="321.00" stroke="#222" stroke-width="0.7" />
<text x="385.50" y="322.90" font-size="5.3" text-anchor="end" stroke="#1c1c1c" stroke-width="0.12" >100</text>
<line x1="395.50" y1="364.50" x2="395.50" y2="366.10" stroke="#222" stroke-width="0.7" />
<text x="395.50" y="371.60" font-size="5.0" text-anchor="middle" stroke="#1c1c1c" stroke-width="0.12" >10:1</text>
<line x1="407.70" y1="364.50" x2="407.70" y2="366.10" stroke="#222" stroke-width="0.7" />
<text x="407.70" y="371.60" font-size="5.0" text-anchor="middle" stroke="#1c1c1c" stroke-width="0.12" >5:1</text>
<line x1="419.90" y1="364.50" x2="419.90" y2="366.10" stroke="#222" stroke-width="0.7" />
<text x="419.90" y="371.60" font-size="5.0" text-anchor="middle" stroke="#1c1c1c" stroke-width="0.12" >2:1</text>
<line x1="432.20" y1="364.50" x2="432.20" y2="366.10" stroke="#222" stroke-width="0.7" />
<text x="432.20" y="371.60" font-size="5.0" text-anchor="middle" stroke="#1c1c1c" stroke-width="0.12" >1:1</text>
<text x="412.50" y="382.60" font-size="5.6" text-anchor="middle" textLength="22.5" lengthAdjust="spacingAndGlyphs" stroke="#1c1c1c" stroke-width="0.12" >E:T ratio</text>
<text x="373.40" y="340.50" font-size="5.4" text-anchor="middle" textLength="36.4" lengthAdjust="spacingAndGlyphs" transform="rotate(-90 373.40 340.50)" stroke="#1c1c1c" stroke-width="0.12" >% Cytotoxicity</text>
<path d="M395.50,336.66 L407.70,340.14 L419.90,342.31 L432.20,347.10" fill="none" stroke="#222" stroke-width="0.8" />
<path d="M395.50,329.70 L407.70,329.70 L419.90,333.18 L432.20,336.23" fill="none" stroke="#e4484a" stroke-width="0.8" />
<path d="M395.50,330.13 L407.70,331.00 L419.90,334.92 L432.20,337.10" fill="none" stroke="#4f5fb5" stroke-width="0.8" />
<circle cx="395.50" cy="336.66" r="1.75" fill="white" stroke="#222" stroke-width="0.8"/>
<circle cx="407.70" cy="340.14" r="1.75" fill="white" stroke="#222" stroke-width="0.8"/>
<circle cx="419.90" cy="342.31" r="1.75" fill="white" stroke="#222" stroke-width="0.8"/>
<circle cx="432.20" cy="347.10" r="1.75" fill="white" stroke="#222" stroke-width="0.8"/>
<circle cx="395.50" cy="329.70" r="1.75" fill="white" stroke="#e4484a" stroke-width="0.8"/>
<circle cx="407.70" cy="329.70" r="1.75" fill="white" stroke="#e4484a" stroke-width="0.8"/>
<circle cx="419.90" cy="333.18" r="1.75" fill="white" stroke="#e4484a" stroke-width="0.8"/>
<circle cx="432.20" cy="336.23" r="1.75" fill="white" stroke="#e4484a" stroke-width="0.8"/>
<circle cx="395.50" cy="330.13" r="1.75" fill="white" stroke="#4f5fb5" stroke-width="0.8"/>
<circle cx="407.70" cy="331.00" r="1.75" fill="white" stroke="#4f5fb5" stroke-width="0.8"/>
<circle cx="419.90" cy="334.92" r="1.75" fill="white" stroke="#4f5fb5" stroke-width="0.8"/>
<circle cx="432.20" cy="337.10" r="1.75" fill="white" stroke="#4f5fb5" stroke-width="0.8"/>
<text x="490.40" y="292.20" font-size="6.3" text-anchor="middle" textLength="25" lengthAdjust="spacingAndGlyphs" stroke="#1c1c1c" stroke-width="0.12" >TCC8F7</text>
<circle cx="466.10" cy="298.10" r="1.7" fill="none" stroke="#e4484a" stroke-width="0.9"/>
<text x="471.70" y="300.10" font-size="5.6" textLength="41.7" lengthAdjust="spacingAndGlyphs" stroke="#1c1c1c" stroke-width="0.12" >(#)II_GBM_24_1</text>
<circle cx="466.10" cy="306.80" r="1.7" fill="none" stroke="#4f5fb5" stroke-width="0.9"/>
<text x="471.70" y="308.80" font-size="5.6" textLength="34.8" lengthAdjust="spacingAndGlyphs" stroke="#1c1c1c" stroke-width="0.12" >II_GBM_24_0</text>
<circle cx="466.10" cy="315.10" r="1.7" fill="none" stroke="#222" stroke-width="0.9"/>
<text x="471.70" y="317.10" font-size="5.6" textLength="49.2" lengthAdjust="spacingAndGlyphs" stroke="#1c1c1c" stroke-width="0.12" >No peptide control</text>
<line x1="466.50" y1="320.70" x2="466.50" y2="365.00" stroke="#222" stroke-width="1.0" />
<line x1="466.50" y1="364.50" x2="515.80" y2="364.50" stroke="#222" stroke-width="1.0" />
<line x1="464.90" y1="364.50" x2="466.50" y2="364.50" stroke="#222" stroke-width="0.7" />
<text x="464.50" y="366.40" font-size="5.3" text-anchor="end" stroke="#1c1c1c" stroke-width="0.12" >0</text>
<line x1="464.90" y1="355.80" x2="466.50" y2="355.80" stroke="#222" stroke-width="0.7" />
<text x="464.50" y="357.70" font-size="5.3" text-anchor="end" stroke="#1c1c1c" stroke-width="0.12" >20</text>
<line x1="464.90" y1="347.10" x2="466.50" y2="347.10" stroke="#222" stroke-width="0.7" />
<text x="464.50" y="349.00" font-size="5.3" text-anchor="end" stroke="#1c1c1c" stroke-width="0.12" >40</text>
<line x1="464.90" y1="338.40" x2="466.50" y2="338.40" stroke="#222" stroke-width="0.7" />
<text x="464.50" y="340.30" font-size="5.3" text-anchor="end" stroke="#1c1c1c" stroke-width="0.12" >60</text>
<line x1="464.90" y1="329.70" x2="466.50" y2="329.70" stroke="#222" stroke-width="0.7" />
<text x="464.50" y="331.60" font-size="5.3" text-anchor="end" stroke="#1c1c1c" stroke-width="0.12" >80</text>
<line x1="464.90" y1="321.00" x2="466.50" y2="321.00" stroke="#222" stroke-width="0.7" />
<text x="464.50" y="322.90" font-size="5.3" text-anchor="end" stroke="#1c1c1c" stroke-width="0.12" >100</text>
<line x1="474.50" y1="364.50" x2="474.50" y2="366.10" stroke="#222" stroke-width="0.7" />
<text x="474.50" y="371.60" font-size="5.0" text-anchor="middle" stroke="#1c1c1c" stroke-width="0.12" >10:1</text>
<line x1="486.70" y1="364.50" x2="486.70" y2="366.10" stroke="#222" stroke-width="0.7" />
<text x="486.70" y="371.60" font-size="5.0" text-anchor="middle" stroke="#1c1c1c" stroke-width="0.12" >5:1</text>
<line x1="498.90" y1="364.50" x2="498.90" y2="366.10" stroke="#222" stroke-width="0.7" />
<text x="498.90" y="371.60" font-size="5.0" text-anchor="middle" stroke="#1c1c1c" stroke-width="0.12" >2:1</text>
<line x1="511.20" y1="364.50" x2="511.20" y2="366.10" stroke="#222" stroke-width="0.7" />
<text x="511.20" y="371.60" font-size="5.0" text-anchor="middle" stroke="#1c1c1c" stroke-width="0.12" >1:1</text>
<text x="491.50" y="382.60" font-size="5.6" text-anchor="middle" textLength="22.5" lengthAdjust="spacingAndGlyphs" stroke="#1c1c1c" stroke-width="0.12" >E:T ratio</text>
<text x="452.40" y="340.50" font-size="5.4" text-anchor="middle" textLength="36.4" lengthAdjust="spacingAndGlyphs" transform="rotate(-90 452.40 340.50)" stroke="#1c1c1c" stroke-width="0.12" >% Cytotoxicity</text>
<path d="M474.50,351.88 L486.70,351.45 L498.90,352.32 L511.20,353.19" fill="none" stroke="#222" stroke-width="0.8" />
<path d="M474.50,342.75 L486.70,345.80 L498.90,346.67 L511.20,347.97" fill="none" stroke="#e4484a" stroke-width="0.8" />
<path d="M474.50,330.57 L486.70,331.00 L498.90,331.88 L511.20,335.36" fill="none" stroke="#4f5fb5" stroke-width="0.8" />
<circle cx="474.50" cy="351.88" r="1.75" fill="white" stroke="#222" stroke-width="0.8"/>
<circle cx="486.70" cy="351.45" r="1.75" fill="white" stroke="#222" stroke-width="0.8"/>
<circle cx="498.90" cy="352.32" r="1.75" fill="white" stroke="#222" stroke-width="0.8"/>
<circle cx="511.20" cy="353.19" r="1.75" fill="white" stroke="#222" stroke-width="0.8"/>
<circle cx="474.50" cy="342.75" r="1.75" fill="white" stroke="#e4484a" stroke-width="0.8"/>
<circle cx="486.70" cy="345.80" r="1.75" fill="white" stroke="#e4484a" stroke-width="0.8"/>
<circle cx="498.90" cy="346.67" r="1.75" fill="white" stroke="#e4484a" stroke-width="0.8"/>
<circle cx="511.20" cy="347.97" r="1.75" fill="white" stroke="#e4484a" stroke-width="0.8"/>
<circle cx="474.50" cy="330.57" r="1.75" fill="white" stroke="#4f5fb5" stroke-width="0.8"/>
<circle cx="486.70" cy="331.00" r="1.75" fill="white" stroke="#4f5fb5" stroke-width="0.8"/>
<circle cx="498.90" cy="331.88" r="1.75" fill="white" stroke="#4f5fb5" stroke-width="0.8"/>
<circle cx="511.20" cy="335.36" r="1.75" fill="white" stroke="#4f5fb5" stroke-width="0.8"/>
<text x="281.30" y="416.20" font-size="14" stroke="#1c1c1c" stroke-width="0.25" >G</text>
<text x="334.20" y="427.10" font-size="6.1" text-anchor="middle" font-weight="normal" fill="#4a5cae" textLength="54.2" lengthAdjust="spacingAndGlyphs" stroke="#4a5cae" stroke-width="0.12" >Natural neopeptides</text>
<text x="334.20" y="433.80" font-size="6.1" text-anchor="middle" font-weight="normal" fill="#4a5cae" textLength="65.7" lengthAdjust="spacingAndGlyphs" stroke="#4a5cae" stroke-width="0.12" >and unmutated peptides</text>
<ellipse cx="301.50" cy="450.00" rx="2.9" ry="5.2" fill="none" stroke="#5e5e5e" stroke-width="0.8" />
<ellipse cx="307.30" cy="450.00" rx="2.9" ry="4.8" fill="none" stroke="#5e5e5e" stroke-width="0.8" />
<ellipse cx="312.20" cy="452.60" rx="2.8" ry="10.3" fill="none" stroke="#5e5e5e" stroke-width="0.8" />
<ellipse cx="316.60" cy="450.00" rx="2.5" ry="5.0" fill="none" stroke="#5e5e5e" stroke-width="0.8" />
<ellipse cx="321.20" cy="445.40" rx="2.9" ry="8.4" fill="none" stroke="#4a5cae" stroke-width="0.8" />
<ellipse cx="326.50" cy="453.90" rx="2.8" ry="8.5" fill="none" stroke="#5e5e5e" stroke-width="0.8" />
<ellipse cx="331.50" cy="444.60" rx="2.6" ry="6.9" fill="none" stroke="#4a5cae" stroke-width="0.8" stroke-dasharray="1.4,0.9"/>
<ellipse cx="336.20" cy="449.20" rx="2.7" ry="6.2" fill="none" stroke="#5e5e5e" stroke-width="0.8" />
<ellipse cx="341.20" cy="450.00" rx="2.6" ry="4.6" fill="none" stroke="#5e5e5e" stroke-width="0.8" />
<ellipse cx="347.30" cy="446.10" rx="2.9" ry="6.9" fill="none" stroke="#4a5cae" stroke-width="0.8" />
<ellipse cx="352.70" cy="451.50" rx="2.8" ry="7.7" fill="none" stroke="#5e5e5e" stroke-width="0.8" />
<ellipse cx="358.80" cy="450.00" rx="2.9" ry="5.0" fill="none" stroke="#5e5e5e" stroke-width="0.8" />
<ellipse cx="366.00" cy="450.00" rx="3.0" ry="5.0" fill="none" stroke="#5e5e5e" stroke-width="0.8" />
<ellipse cx="435.80" cy="574.20" rx="2.9" ry="5.2" fill="none" stroke="#5e5e5e" stroke-width="0.8" />
<ellipse cx="441.60" cy="574.20" rx="2.9" ry="4.8" fill="none" stroke="#5e5e5e" stroke-width="0.8" />
<ellipse cx="446.50" cy="576.80" rx="2.8" ry="10.3" fill="none" stroke="#5e5e5e" stroke-width="0.8" />
<ellipse cx="450.90" cy="574.20" rx="2.5" ry="5.0" fill="none" stroke="#5e5e5e" stroke-width="0.8" />
<ellipse cx="455.50" cy="569.60" rx="2.9" ry="8.4" fill="none" stroke="#d83a3e" stroke-width="0.8" />
<ellipse cx="460.80" cy="578.10" rx="2.8" ry="8.5" fill="none" stroke="#5e5e5e" stroke-width="0.8" />
<ellipse cx="465.80" cy="568.80" rx="2.6" ry="6.9" fill="none" stroke="#d83a3e" stroke-width="0.8" stroke-dasharray="1.4,0.9"/>
<ellipse cx="470.50" cy="573.40" rx="2.7" ry="6.2" fill="none" stroke="#5e5e5e" stroke-width="0.8" />
<ellipse cx="475.50" cy="574.20" rx="2.6" ry="4.6" fill="none" stroke="#5e5e5e" stroke-width="0.8" />
<ellipse cx="481.60" cy="570.30" rx="2.9" ry="6.9" fill="none" stroke="#d83a3e" stroke-width="0.8" />
<ellipse cx="487.00" cy="575.70" rx="2.8" ry="7.7" fill="none" stroke="#5e5e5e" stroke-width="0.8" />
<ellipse cx="493.10" cy="574.20" rx="2.9" ry="5.0" fill="none" stroke="#5e5e5e" stroke-width="0.8" />
<ellipse cx="500.30" cy="574.20" rx="3.0" ry="5.0" fill="none" stroke="#5e5e5e" stroke-width="0.8" />
<line x1="375.20" y1="449.60" x2="417.50" y2="449.60" stroke="#7a7a7a" stroke-width="0.9" stroke-dasharray="2.2,1.4"/>
<path d="M420.8,449.6 L417.2,447.6 L417.2,451.6 Z" fill="#7a7a7a"/>
<text x="396.00" y="447.30" font-size="5.4" text-anchor="middle" font-weight="normal" fill="#7a7a7a" textLength="31.7" lengthAdjust="spacingAndGlyphs" stroke="#7a7a7a" stroke-width="0.12" >Vaccination</text>
<text x="396.00" y="456.70" font-size="5.4" text-anchor="middle" font-weight="normal" fill="#7a7a7a" textLength="26" lengthAdjust="spacingAndGlyphs" stroke="#7a7a7a" stroke-width="0.12" >In general</text>
<circle cx="428.00" cy="443.60" r="1.0" fill="#7a7a7a" stroke="none" stroke-width="0.8"/>
<text x="433.50" y="446.30" font-size="6.0" font-weight="normal" fill="#7a7a7a" textLength="54.8" lengthAdjust="spacingAndGlyphs" stroke="#7a7a7a" stroke-width="0.12" >Low immunogenicity</text>
<circle cx="428.00" cy="455.80" r="1.0" fill="#7a7a7a" stroke="none" stroke-width="0.8"/>
<text x="433.50" y="458.40" font-size="6.0" font-weight="normal" fill="#7a7a7a" textLength="67.7" lengthAdjust="spacingAndGlyphs" stroke="#7a7a7a" stroke-width="0.12" >Low antitumor responses</text>
<line x1="332.20" y1="549.60" x2="332.20" y2="467.10" stroke="#111" stroke-width="1.0" />
<path d="M332.20,463.80 L334.00,467.60 L330.40,467.60 Z" fill="#111"/>
<line x1="338.20" y1="463.80" x2="459.38" y2="558.13" stroke="#111" stroke-width="1.0" />
<path d="M462.30,560.40 L457.76,559.40 L460.21,556.24 Z" fill="#111"/>
<text x="428.90" y="490.80" font-size="6.1" text-anchor="middle" font-weight="normal" textLength="59.2" lengthAdjust="spacingAndGlyphs" stroke="#1c1c1c" stroke-width="0.26" >Designed mutation by</text>
<text x="428.70" y="497.20" font-size="6.1" text-anchor="middle" font-weight="normal" textLength="47.5" lengthAdjust="spacingAndGlyphs" stroke="#1c1c1c" stroke-width="0.26" >single amino acid</text>
<text x="428.60" y="503.60" font-size="6.1" text-anchor="middle" font-weight="normal" textLength="51.2" lengthAdjust="spacingAndGlyphs" stroke="#1c1c1c" stroke-width="0.26" >substitution in TCR</text>
<text x="428.60" y="510.00" font-size="6.1" text-anchor="middle" font-weight="normal" textLength="42.3" lengthAdjust="spacingAndGlyphs" stroke="#1c1c1c" stroke-width="0.26" >contact position</text>
<text x="359.20" y="516.60" font-size="6.1" text-anchor="middle" font-weight="normal" textLength="47.5" lengthAdjust="spacingAndGlyphs" stroke="#1c1c1c" stroke-width="0.26" >Cross-recognition</text>
<text x="359.20" y="523.10" font-size="6.1" text-anchor="middle" font-weight="normal" stroke="#1c1c1c" stroke-width="0.26" >and</text>
<text x="358.70" y="529.60" font-size="6.1" text-anchor="middle" font-weight="normal" textLength="41.3" lengthAdjust="spacingAndGlyphs" stroke="#1c1c1c" stroke-width="0.26" >tumor cell lysis</text>
<circle cx="292.00" cy="558.40" r="1.3" fill="#111" stroke="none" stroke-width="0.8"/>
<text x="297.50" y="560.50" font-size="6.1" font-weight="normal" textLength="76.2" lengthAdjust="spacingAndGlyphs" stroke="#1c1c1c" stroke-width="0.26" >Extend vaccine peptide pool</text>
<circle cx="292.00" cy="571.90" r="1.3" fill="#111" stroke="none" stroke-width="0.8"/>
<text x="297.50" y="574.00" font-size="6.1" font-weight="normal" textLength="56.2" lengthAdjust="spacingAndGlyphs" stroke="#1c1c1c" stroke-width="0.26" >High immunogenicity</text>
<circle cx="292.00" cy="585.60" r="1.3" fill="#111" stroke="none" stroke-width="0.8"/>
<text x="297.50" y="587.70" font-size="6.1" font-weight="normal" textLength="68.7" lengthAdjust="spacingAndGlyphs" stroke="#1c1c1c" stroke-width="0.26" >Activation of intratumoral</text>
<text x="297.50" y="601.20" font-size="6.1" font-weight="normal" textLength="33" lengthAdjust="spacingAndGlyphs" stroke="#1c1c1c" stroke-width="0.26" >CD4<tspan font-size="3.6" dy="-2">+</tspan><tspan dy="2"> T cells</tspan></text>
<line x1="428.60" y1="579.00" x2="386.00" y2="579.00" stroke="#111" stroke-width="1.1" />
<path d="M382.50,579.00 L386.50,577.10 L386.50,580.90 Z" fill="#111"/>
<text x="406.20" y="575.60" font-size="6.1" text-anchor="middle" font-weight="normal" textLength="30.9" lengthAdjust="spacingAndGlyphs" stroke="#1c1c1c" stroke-width="0.26" >Vaccination</text>
<text x="467.90" y="596.20" font-size="6.1" text-anchor="middle" font-weight="normal" fill="#d83a3e" textLength="60" lengthAdjust="spacingAndGlyphs" stroke="#d83a3e" stroke-width="0.26" >Designed neopeptides</text>
</svg>
</body></html>
